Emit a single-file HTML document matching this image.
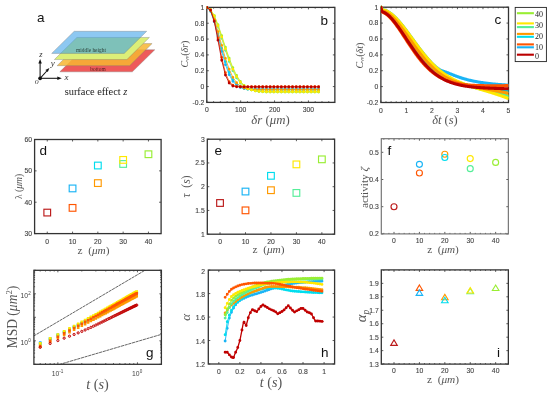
<!DOCTYPE html><html><head><meta charset="utf-8"><style>html,body{margin:0;padding:0;background:#fff;width:550px;height:396px;overflow:hidden}svg{display:block;will-change:transform}</style></head><body><svg width="550" height="396" viewBox="0 0 550 396">
<rect width="550" height="396" fill="#fff"/>
<path d="M82.30,49.75 L154.80,49.75 L132.30,71.85 L59.80,71.85Z" fill="#ee5a5a" fill-opacity="1.0" stroke="#777" stroke-opacity="0.8" stroke-width="0.45"/>
<path d="M79.60,43.60 L152.10,43.60 L129.60,65.70 L57.10,65.70Z" fill="#f7b532" fill-opacity="0.855" stroke="#777" stroke-opacity="0.8" stroke-width="0.45"/>
<path d="M76.90,37.45 L149.40,37.45 L126.90,59.55 L54.40,59.55Z" fill="#dcef78" fill-opacity="1.0" stroke="#777" stroke-opacity="0.8" stroke-width="0.45"/>
<path d="M74.20,31.30 L146.70,31.30 L124.20,53.40 L51.70,53.40Z" fill="#3aa0e8" fill-opacity="0.58" stroke="#777" stroke-opacity="0.8" stroke-width="0.45"/>
<text x="91" y="51.6" font-family='"Liberation Serif", serif' font-size="5.4" fill="#2a4038" text-anchor="middle">middle height</text>
<text x="98" y="71" font-family='"Liberation Serif", serif' font-size="5.4" fill="#5a2020" text-anchor="middle">bottom</text>
<g stroke="#111" stroke-width="1.05" fill="none">
<line x1="40.1" y1="78.3" x2="40.1" y2="63"/><line x1="40.1" y1="78.3" x2="58" y2="78.3"/><line x1="40.1" y1="78.3" x2="46.8" y2="71"/>
</g>
<g fill="#111" stroke="none">
<circle cx="40.1" cy="78.3" r="1.9"/>
<path d="M40.1,59.1 L38.4,63.6 L41.8,63.6Z"/>
<path d="M61.8,78.3 L57.3,76.6 L57.3,80.0Z"/>
<path d="M49.4,68.0 L45.4,69.9 L47.8,72.1Z"/>
</g>
<text x="41.0" y="57.3" font-family='"Liberation Serif", serif' font-size="8.5" font-style="italic" fill="#333" text-anchor="middle">z</text>
<text x="52.8" y="66.2" font-family='"Liberation Serif", serif' font-size="9" font-style="italic" fill="#333" text-anchor="middle">y</text>
<text x="66.6" y="79.8" font-family='"Liberation Serif", serif' font-size="9" font-style="italic" fill="#333" text-anchor="middle">x</text>
<text x="36.8" y="83.9" font-family='"Liberation Serif", serif' font-size="8" font-style="italic" fill="#444" text-anchor="middle">o</text>
<text x="37.00" y="21.80" font-family='"Liberation Sans", sans-serif' font-size="13.5" fill="#111" text-anchor="start" >a</text>
<path d="M206.80,102.40v-2.0M206.80,7.40v2.0M240.68,102.40v-2.0M240.68,7.40v2.0M274.55,102.40v-2.0M274.55,7.40v2.0M308.43,102.40v-2.0M308.43,7.40v2.0M213.58,102.40v-1.2M213.58,7.40v1.2M220.35,102.40v-1.2M220.35,7.40v1.2M227.13,102.40v-1.2M227.13,7.40v1.2M233.90,102.40v-1.2M233.90,7.40v1.2M247.45,102.40v-1.2M247.45,7.40v1.2M254.23,102.40v-1.2M254.23,7.40v1.2M261.00,102.40v-1.2M261.00,7.40v1.2M267.78,102.40v-1.2M267.78,7.40v1.2M281.33,102.40v-1.2M281.33,7.40v1.2M288.10,102.40v-1.2M288.10,7.40v1.2M294.88,102.40v-1.2M294.88,7.40v1.2M301.65,102.40v-1.2M301.65,7.40v1.2M315.20,102.40v-1.2M315.20,7.40v1.2M321.98,102.40v-1.2M321.98,7.40v1.2M328.75,102.40v-1.2M328.75,7.40v1.2M206.80,102.40h2.0M334.85,102.40h-2.0M206.80,86.57h2.0M334.85,86.57h-2.0M206.80,70.73h2.0M334.85,70.73h-2.0M206.80,54.90h2.0M334.85,54.90h-2.0M206.80,39.07h2.0M334.85,39.07h-2.0M206.80,23.23h2.0M334.85,23.23h-2.0M206.80,7.40h2.0M334.85,7.40h-2.0" stroke="#333333" stroke-width="0.8" fill="none"/>
<rect x="206.80" y="7.40" width="128.05" height="95.00" fill="none" stroke="#333333" stroke-width="1.3"/>
<text x="206.80" y="111.50" font-family='"Liberation Sans", sans-serif' font-size="6.8" fill="#444444" text-anchor="middle" stroke="#444" stroke-width="0.12">0</text>
<text x="240.68" y="111.50" font-family='"Liberation Sans", sans-serif' font-size="6.8" fill="#444444" text-anchor="middle" stroke="#444" stroke-width="0.12">100</text>
<text x="274.55" y="111.50" font-family='"Liberation Sans", sans-serif' font-size="6.8" fill="#444444" text-anchor="middle" stroke="#444" stroke-width="0.12">200</text>
<text x="308.43" y="111.50" font-family='"Liberation Sans", sans-serif' font-size="6.8" fill="#444444" text-anchor="middle" stroke="#444" stroke-width="0.12">300</text>
<text x="204.30" y="104.80" font-family='"Liberation Sans", sans-serif' font-size="6.8" fill="#444444" text-anchor="end" stroke="#444" stroke-width="0.12">-0.2</text>
<text x="204.30" y="88.97" font-family='"Liberation Sans", sans-serif' font-size="6.8" fill="#444444" text-anchor="end" stroke="#444" stroke-width="0.12">0</text>
<text x="204.30" y="73.13" font-family='"Liberation Sans", sans-serif' font-size="6.8" fill="#444444" text-anchor="end" stroke="#444" stroke-width="0.12">0.2</text>
<text x="204.30" y="57.30" font-family='"Liberation Sans", sans-serif' font-size="6.8" fill="#444444" text-anchor="end" stroke="#444" stroke-width="0.12">0.4</text>
<text x="204.30" y="41.47" font-family='"Liberation Sans", sans-serif' font-size="6.8" fill="#444444" text-anchor="end" stroke="#444" stroke-width="0.12">0.6</text>
<text x="204.30" y="25.63" font-family='"Liberation Sans", sans-serif' font-size="6.8" fill="#444444" text-anchor="end" stroke="#444" stroke-width="0.12">0.8</text>
<text x="204.30" y="9.80" font-family='"Liberation Sans", sans-serif' font-size="6.8" fill="#444444" text-anchor="end" stroke="#444" stroke-width="0.12">1</text>
<text x="320.50" y="25.00" font-family='"Liberation Sans", sans-serif' font-size="13.5" fill="#111" text-anchor="start" >b</text>
<path d="M380.90,102.50v-2.0M380.90,7.20v2.0M406.42,102.50v-2.0M406.42,7.20v2.0M431.94,102.50v-2.0M431.94,7.20v2.0M457.46,102.50v-2.0M457.46,7.20v2.0M482.98,102.50v-2.0M482.98,7.20v2.0M508.50,102.50v-2.0M508.50,7.20v2.0M386.00,102.50v-1.2M386.00,7.20v1.2M391.11,102.50v-1.2M391.11,7.20v1.2M396.21,102.50v-1.2M396.21,7.20v1.2M401.32,102.50v-1.2M401.32,7.20v1.2M411.52,102.50v-1.2M411.52,7.20v1.2M416.63,102.50v-1.2M416.63,7.20v1.2M421.73,102.50v-1.2M421.73,7.20v1.2M426.84,102.50v-1.2M426.84,7.20v1.2M437.04,102.50v-1.2M437.04,7.20v1.2M442.15,102.50v-1.2M442.15,7.20v1.2M447.25,102.50v-1.2M447.25,7.20v1.2M452.36,102.50v-1.2M452.36,7.20v1.2M462.56,102.50v-1.2M462.56,7.20v1.2M467.67,102.50v-1.2M467.67,7.20v1.2M472.77,102.50v-1.2M472.77,7.20v1.2M477.88,102.50v-1.2M477.88,7.20v1.2M488.08,102.50v-1.2M488.08,7.20v1.2M493.19,102.50v-1.2M493.19,7.20v1.2M498.29,102.50v-1.2M498.29,7.20v1.2M503.40,102.50v-1.2M503.40,7.20v1.2M380.90,102.50h2.0M508.50,102.50h-2.0M380.90,86.62h2.0M508.50,86.62h-2.0M380.90,70.73h2.0M508.50,70.73h-2.0M380.90,54.85h2.0M508.50,54.85h-2.0M380.90,38.97h2.0M508.50,38.97h-2.0M380.90,23.08h2.0M508.50,23.08h-2.0M380.90,7.20h2.0M508.50,7.20h-2.0" stroke="#333333" stroke-width="0.8" fill="none"/>
<rect x="380.90" y="7.20" width="127.60" height="95.30" fill="none" stroke="#333333" stroke-width="1.3"/>
<text x="380.90" y="112.60" font-family='"Liberation Sans", sans-serif' font-size="6.8" fill="#444444" text-anchor="middle" stroke="#444" stroke-width="0.12">0</text>
<text x="406.42" y="112.60" font-family='"Liberation Sans", sans-serif' font-size="6.8" fill="#444444" text-anchor="middle" stroke="#444" stroke-width="0.12">1</text>
<text x="431.94" y="112.60" font-family='"Liberation Sans", sans-serif' font-size="6.8" fill="#444444" text-anchor="middle" stroke="#444" stroke-width="0.12">2</text>
<text x="457.46" y="112.60" font-family='"Liberation Sans", sans-serif' font-size="6.8" fill="#444444" text-anchor="middle" stroke="#444" stroke-width="0.12">3</text>
<text x="482.98" y="112.60" font-family='"Liberation Sans", sans-serif' font-size="6.8" fill="#444444" text-anchor="middle" stroke="#444" stroke-width="0.12">4</text>
<text x="508.50" y="112.60" font-family='"Liberation Sans", sans-serif' font-size="6.8" fill="#444444" text-anchor="middle" stroke="#444" stroke-width="0.12">5</text>
<text x="378.40" y="104.90" font-family='"Liberation Sans", sans-serif' font-size="6.8" fill="#444444" text-anchor="end" stroke="#444" stroke-width="0.12">-0.2</text>
<text x="378.40" y="89.02" font-family='"Liberation Sans", sans-serif' font-size="6.8" fill="#444444" text-anchor="end" stroke="#444" stroke-width="0.12">0</text>
<text x="378.40" y="73.13" font-family='"Liberation Sans", sans-serif' font-size="6.8" fill="#444444" text-anchor="end" stroke="#444" stroke-width="0.12">0.2</text>
<text x="378.40" y="57.25" font-family='"Liberation Sans", sans-serif' font-size="6.8" fill="#444444" text-anchor="end" stroke="#444" stroke-width="0.12">0.4</text>
<text x="378.40" y="41.37" font-family='"Liberation Sans", sans-serif' font-size="6.8" fill="#444444" text-anchor="end" stroke="#444" stroke-width="0.12">0.6</text>
<text x="378.40" y="25.48" font-family='"Liberation Sans", sans-serif' font-size="6.8" fill="#444444" text-anchor="end" stroke="#444" stroke-width="0.12">0.8</text>
<text x="378.40" y="9.60" font-family='"Liberation Sans", sans-serif' font-size="6.8" fill="#444444" text-anchor="end" stroke="#444" stroke-width="0.12">1</text>
<text x="494.50" y="24.00" font-family='"Liberation Sans", sans-serif' font-size="13.5" fill="#111" text-anchor="start" >c</text>
<path d="M47.25,233.60v-2.0M47.25,139.50v2.0M72.55,233.60v-2.0M72.55,139.50v2.0M97.85,233.60v-2.0M97.85,139.50v2.0M123.15,233.60v-2.0M123.15,139.50v2.0M148.45,233.60v-2.0M148.45,139.50v2.0M34.60,233.60h2.0M161.10,233.60h-2.0M34.60,202.23h2.0M161.10,202.23h-2.0M34.60,170.87h2.0M161.10,170.87h-2.0M34.60,139.50h2.0M161.10,139.50h-2.0" stroke="#333333" stroke-width="0.8" fill="none"/>
<rect x="34.60" y="139.50" width="126.50" height="94.10" fill="none" stroke="#333333" stroke-width="1.3"/>
<text x="47.25" y="244.00" font-family='"Liberation Sans", sans-serif' font-size="6.8" fill="#444444" text-anchor="middle" stroke="#444" stroke-width="0.12">0</text>
<text x="72.55" y="244.00" font-family='"Liberation Sans", sans-serif' font-size="6.8" fill="#444444" text-anchor="middle" stroke="#444" stroke-width="0.12">10</text>
<text x="97.85" y="244.00" font-family='"Liberation Sans", sans-serif' font-size="6.8" fill="#444444" text-anchor="middle" stroke="#444" stroke-width="0.12">20</text>
<text x="123.15" y="244.00" font-family='"Liberation Sans", sans-serif' font-size="6.8" fill="#444444" text-anchor="middle" stroke="#444" stroke-width="0.12">30</text>
<text x="148.45" y="244.00" font-family='"Liberation Sans", sans-serif' font-size="6.8" fill="#444444" text-anchor="middle" stroke="#444" stroke-width="0.12">40</text>
<text x="32.10" y="236.00" font-family='"Liberation Sans", sans-serif' font-size="6.8" fill="#444444" text-anchor="end" stroke="#444" stroke-width="0.12">30</text>
<text x="32.10" y="204.63" font-family='"Liberation Sans", sans-serif' font-size="6.8" fill="#444444" text-anchor="end" stroke="#444" stroke-width="0.12">40</text>
<text x="32.10" y="173.27" font-family='"Liberation Sans", sans-serif' font-size="6.8" fill="#444444" text-anchor="end" stroke="#444" stroke-width="0.12">50</text>
<text x="32.10" y="141.90" font-family='"Liberation Sans", sans-serif' font-size="6.8" fill="#444444" text-anchor="end" stroke="#444" stroke-width="0.12">60</text>
<text x="39.50" y="155.00" font-family='"Liberation Sans", sans-serif' font-size="13.5" fill="#111" text-anchor="start" >d</text>
<path d="M220.03,234.20v-2.0M220.03,139.20v2.0M245.49,234.20v-2.0M245.49,139.20v2.0M270.95,234.20v-2.0M270.95,139.20v2.0M296.41,234.20v-2.0M296.41,139.20v2.0M321.87,234.20v-2.0M321.87,139.20v2.0M207.30,234.20h2.0M334.60,234.20h-2.0M207.30,210.45h2.0M334.60,210.45h-2.0M207.30,186.70h2.0M334.60,186.70h-2.0M207.30,162.95h2.0M334.60,162.95h-2.0M207.30,139.20h2.0M334.60,139.20h-2.0" stroke="#333333" stroke-width="0.8" fill="none"/>
<rect x="207.30" y="139.20" width="127.30" height="95.00" fill="none" stroke="#333333" stroke-width="1.3"/>
<text x="220.03" y="244.00" font-family='"Liberation Sans", sans-serif' font-size="6.8" fill="#444444" text-anchor="middle" stroke="#444" stroke-width="0.12">0</text>
<text x="245.49" y="244.00" font-family='"Liberation Sans", sans-serif' font-size="6.8" fill="#444444" text-anchor="middle" stroke="#444" stroke-width="0.12">10</text>
<text x="270.95" y="244.00" font-family='"Liberation Sans", sans-serif' font-size="6.8" fill="#444444" text-anchor="middle" stroke="#444" stroke-width="0.12">20</text>
<text x="296.41" y="244.00" font-family='"Liberation Sans", sans-serif' font-size="6.8" fill="#444444" text-anchor="middle" stroke="#444" stroke-width="0.12">30</text>
<text x="321.87" y="244.00" font-family='"Liberation Sans", sans-serif' font-size="6.8" fill="#444444" text-anchor="middle" stroke="#444" stroke-width="0.12">40</text>
<text x="204.80" y="236.60" font-family='"Liberation Sans", sans-serif' font-size="6.8" fill="#444444" text-anchor="end" stroke="#444" stroke-width="0.12">1</text>
<text x="204.80" y="212.85" font-family='"Liberation Sans", sans-serif' font-size="6.8" fill="#444444" text-anchor="end" stroke="#444" stroke-width="0.12">1.5</text>
<text x="204.80" y="189.10" font-family='"Liberation Sans", sans-serif' font-size="6.8" fill="#444444" text-anchor="end" stroke="#444" stroke-width="0.12">2</text>
<text x="204.80" y="165.35" font-family='"Liberation Sans", sans-serif' font-size="6.8" fill="#444444" text-anchor="end" stroke="#444" stroke-width="0.12">2.5</text>
<text x="204.80" y="141.60" font-family='"Liberation Sans", sans-serif' font-size="6.8" fill="#444444" text-anchor="end" stroke="#444" stroke-width="0.12">3</text>
<text x="214.50" y="155.00" font-family='"Liberation Sans", sans-serif' font-size="13.5" fill="#111" text-anchor="start" >e</text>
<path d="M394.00,233.90v-2.0M394.00,138.70v2.0M419.42,233.90v-2.0M419.42,138.70v2.0M444.83,233.90v-2.0M444.83,138.70v2.0M470.24,233.90v-2.0M470.24,138.70v2.0M495.65,233.90v-2.0M495.65,138.70v2.0M383.84,233.90v-1.0M383.84,138.70v1.0M388.92,233.90v-1.0M388.92,138.70v1.0M399.09,233.90v-1.0M399.09,138.70v1.0M404.17,233.90v-1.0M404.17,138.70v1.0M409.25,233.90v-1.0M409.25,138.70v1.0M414.33,233.90v-1.0M414.33,138.70v1.0M424.50,233.90v-1.0M424.50,138.70v1.0M429.58,233.90v-1.0M429.58,138.70v1.0M434.66,233.90v-1.0M434.66,138.70v1.0M439.74,233.90v-1.0M439.74,138.70v1.0M449.91,233.90v-1.0M449.91,138.70v1.0M454.99,233.90v-1.0M454.99,138.70v1.0M460.07,233.90v-1.0M460.07,138.70v1.0M465.15,233.90v-1.0M465.15,138.70v1.0M475.32,233.90v-1.0M475.32,138.70v1.0M480.40,233.90v-1.0M480.40,138.70v1.0M485.48,233.90v-1.0M485.48,138.70v1.0M490.56,233.90v-1.0M490.56,138.70v1.0M500.73,233.90v-1.0M500.73,138.70v1.0M505.81,233.90v-1.0M505.81,138.70v1.0M381.30,233.90h2.0M508.35,233.90h-2.0M381.30,206.70h2.0M508.35,206.70h-2.0M381.30,179.50h2.0M508.35,179.50h-2.0M381.30,152.30h2.0M508.35,152.30h-2.0" stroke="#333333" stroke-width="0.8" fill="none"/>
<rect x="381.30" y="138.70" width="127.05" height="95.20" fill="none" stroke="#707070" stroke-width="1.15"/>
<text x="394.00" y="242.60" font-family='"Liberation Sans", sans-serif' font-size="6.8" fill="#444444" text-anchor="middle" stroke="#444" stroke-width="0.12">0</text>
<text x="419.42" y="242.60" font-family='"Liberation Sans", sans-serif' font-size="6.8" fill="#444444" text-anchor="middle" stroke="#444" stroke-width="0.12">10</text>
<text x="444.83" y="242.60" font-family='"Liberation Sans", sans-serif' font-size="6.8" fill="#444444" text-anchor="middle" stroke="#444" stroke-width="0.12">20</text>
<text x="470.24" y="242.60" font-family='"Liberation Sans", sans-serif' font-size="6.8" fill="#444444" text-anchor="middle" stroke="#444" stroke-width="0.12">30</text>
<text x="495.65" y="242.60" font-family='"Liberation Sans", sans-serif' font-size="6.8" fill="#444444" text-anchor="middle" stroke="#444" stroke-width="0.12">40</text>
<text x="378.80" y="236.30" font-family='"Liberation Sans", sans-serif' font-size="6.8" fill="#444444" text-anchor="end" stroke="#444" stroke-width="0.12">0.2</text>
<text x="378.80" y="209.10" font-family='"Liberation Sans", sans-serif' font-size="6.8" fill="#444444" text-anchor="end" stroke="#444" stroke-width="0.12">0.3</text>
<text x="378.80" y="181.90" font-family='"Liberation Sans", sans-serif' font-size="6.8" fill="#444444" text-anchor="end" stroke="#444" stroke-width="0.12">0.4</text>
<text x="378.80" y="154.70" font-family='"Liberation Sans", sans-serif' font-size="6.8" fill="#444444" text-anchor="end" stroke="#444" stroke-width="0.12">0.5</text>
<text x="387.50" y="155.00" font-family='"Liberation Sans", sans-serif' font-size="13.5" fill="#111" text-anchor="start" >f</text>
<path d="M57.86,364.30v-2.0M57.86,270.30v2.0M137.44,364.30v-2.0M137.44,270.30v2.0M40.20,364.30v-1.2M40.20,270.30v1.2M45.53,364.30v-1.2M45.53,270.30v1.2M50.14,364.30v-1.2M50.14,270.30v1.2M54.22,364.30v-1.2M54.22,270.30v1.2M81.81,364.30v-1.2M81.81,270.30v1.2M95.83,364.30v-1.2M95.83,270.30v1.2M105.77,364.30v-1.2M105.77,270.30v1.2M113.49,364.30v-1.2M113.49,270.30v1.2M119.79,364.30v-1.2M119.79,270.30v1.2M125.11,364.30v-1.2M125.11,270.30v1.2M129.73,364.30v-1.2M129.73,270.30v1.2M133.80,364.30v-1.2M133.80,270.30v1.2M33.90,364.30h2.0M161.40,364.30h-2.0M33.90,340.80h2.0M161.40,340.80h-2.0M33.90,317.30h2.0M161.40,317.30h-2.0M33.90,293.80h2.0M161.40,293.80h-2.0M33.90,270.30h2.0M161.40,270.30h-2.0M33.90,357.23h1.2M161.40,357.23h-1.2M33.90,353.09h1.2M161.40,353.09h-1.2M33.90,350.15h1.2M161.40,350.15h-1.2M33.90,347.87h1.2M161.40,347.87h-1.2M33.90,346.01h1.2M161.40,346.01h-1.2M33.90,344.44h1.2M161.40,344.44h-1.2M33.90,343.08h1.2M161.40,343.08h-1.2M33.90,341.88h1.2M161.40,341.88h-1.2M33.90,333.73h1.2M161.40,333.73h-1.2M33.90,329.59h1.2M161.40,329.59h-1.2M33.90,326.65h1.2M161.40,326.65h-1.2M33.90,324.37h1.2M161.40,324.37h-1.2M33.90,322.51h1.2M161.40,322.51h-1.2M33.90,320.94h1.2M161.40,320.94h-1.2M33.90,319.58h1.2M161.40,319.58h-1.2M33.90,318.38h1.2M161.40,318.38h-1.2M33.90,310.23h1.2M161.40,310.23h-1.2M33.90,306.09h1.2M161.40,306.09h-1.2M33.90,303.15h1.2M161.40,303.15h-1.2M33.90,300.87h1.2M161.40,300.87h-1.2M33.90,299.01h1.2M161.40,299.01h-1.2M33.90,297.44h1.2M161.40,297.44h-1.2M33.90,296.08h1.2M161.40,296.08h-1.2M33.90,294.88h1.2M161.40,294.88h-1.2M33.90,286.73h1.2M161.40,286.73h-1.2M33.90,282.59h1.2M161.40,282.59h-1.2M33.90,279.65h1.2M161.40,279.65h-1.2M33.90,277.37h1.2M161.40,277.37h-1.2M33.90,275.51h1.2M161.40,275.51h-1.2M33.90,273.94h1.2M161.40,273.94h-1.2M33.90,272.58h1.2M161.40,272.58h-1.2M33.90,271.38h1.2M161.40,271.38h-1.2" stroke="#333333" stroke-width="0.8" fill="none"/>
<rect x="33.90" y="270.30" width="127.50" height="94.00" fill="none" stroke="#333333" stroke-width="1.3"/>
<text x="57.56" y="375.90" font-family='"Liberation Sans", sans-serif' font-size="6.8" fill="#444444" text-anchor="middle" >10<tspan font-size="4.6" dy="-3">-1</tspan></text>
<text x="137.14" y="375.90" font-family='"Liberation Sans", sans-serif' font-size="6.8" fill="#444444" text-anchor="middle" >10<tspan font-size="4.6" dy="-3">0</tspan></text>
<text x="30.70" y="344.90" font-family='"Liberation Sans", sans-serif' font-size="6.8" fill="#444444" text-anchor="end" >10<tspan font-size="4.6" dy="-3">0</tspan></text>
<text x="30.70" y="297.90" font-family='"Liberation Sans", sans-serif' font-size="6.8" fill="#444444" text-anchor="end" >10<tspan font-size="4.6" dy="-3">2</tspan></text>
<text x="146.00" y="356.50" font-family='"Liberation Sans", sans-serif' font-size="13.5" fill="#111" text-anchor="start" >g</text>
<path d="M218.83,364.00v-2.0M218.83,270.10v2.0M239.88,364.00v-2.0M239.88,270.10v2.0M260.93,364.00v-2.0M260.93,270.10v2.0M281.98,364.00v-2.0M281.98,270.10v2.0M303.02,364.00v-2.0M303.02,270.10v2.0M324.08,364.00v-2.0M324.08,270.10v2.0M208.30,364.00h2.0M334.60,364.00h-2.0M208.30,340.53h2.0M334.60,340.53h-2.0M208.30,317.05h2.0M334.60,317.05h-2.0M208.30,293.57h2.0M334.60,293.57h-2.0M208.30,270.10h2.0M334.60,270.10h-2.0" stroke="#333333" stroke-width="0.8" fill="none"/>
<rect x="208.30" y="270.10" width="126.30" height="93.90" fill="none" stroke="#333333" stroke-width="1.3"/>
<text x="218.83" y="374.00" font-family='"Liberation Sans", sans-serif' font-size="6.8" fill="#444444" text-anchor="middle" stroke="#444" stroke-width="0.12">0</text>
<text x="239.88" y="374.00" font-family='"Liberation Sans", sans-serif' font-size="6.8" fill="#444444" text-anchor="middle" stroke="#444" stroke-width="0.12">0.2</text>
<text x="260.93" y="374.00" font-family='"Liberation Sans", sans-serif' font-size="6.8" fill="#444444" text-anchor="middle" stroke="#444" stroke-width="0.12">0.4</text>
<text x="281.98" y="374.00" font-family='"Liberation Sans", sans-serif' font-size="6.8" fill="#444444" text-anchor="middle" stroke="#444" stroke-width="0.12">0.6</text>
<text x="303.02" y="374.00" font-family='"Liberation Sans", sans-serif' font-size="6.8" fill="#444444" text-anchor="middle" stroke="#444" stroke-width="0.12">0.8</text>
<text x="324.08" y="374.00" font-family='"Liberation Sans", sans-serif' font-size="6.8" fill="#444444" text-anchor="middle" stroke="#444" stroke-width="0.12">1</text>
<text x="205.10" y="367.40" font-family='"Liberation Sans", sans-serif' font-size="6.8" fill="#444444" text-anchor="end" stroke="#444" stroke-width="0.12">1.2</text>
<text x="205.10" y="343.93" font-family='"Liberation Sans", sans-serif' font-size="6.8" fill="#444444" text-anchor="end" stroke="#444" stroke-width="0.12">1.4</text>
<text x="205.10" y="320.45" font-family='"Liberation Sans", sans-serif' font-size="6.8" fill="#444444" text-anchor="end" stroke="#444" stroke-width="0.12">1.6</text>
<text x="205.10" y="296.97" font-family='"Liberation Sans", sans-serif' font-size="6.8" fill="#444444" text-anchor="end" stroke="#444" stroke-width="0.12">1.8</text>
<text x="205.10" y="273.50" font-family='"Liberation Sans", sans-serif' font-size="6.8" fill="#444444" text-anchor="end" stroke="#444" stroke-width="0.12">2</text>
<text x="321.00" y="357.00" font-family='"Liberation Sans", sans-serif' font-size="13.5" fill="#111" text-anchor="start" >h</text>
<path d="M394.00,364.10v-2.0M394.00,269.90v2.0M419.42,364.10v-2.0M419.42,269.90v2.0M444.83,364.10v-2.0M444.83,269.90v2.0M470.24,364.10v-2.0M470.24,269.90v2.0M495.65,364.10v-2.0M495.65,269.90v2.0M383.84,364.10v-1.0M383.84,269.90v1.0M388.92,364.10v-1.0M388.92,269.90v1.0M399.09,364.10v-1.0M399.09,269.90v1.0M404.17,364.10v-1.0M404.17,269.90v1.0M409.25,364.10v-1.0M409.25,269.90v1.0M414.33,364.10v-1.0M414.33,269.90v1.0M424.50,364.10v-1.0M424.50,269.90v1.0M429.58,364.10v-1.0M429.58,269.90v1.0M434.66,364.10v-1.0M434.66,269.90v1.0M439.74,364.10v-1.0M439.74,269.90v1.0M449.91,364.10v-1.0M449.91,269.90v1.0M454.99,364.10v-1.0M454.99,269.90v1.0M460.07,364.10v-1.0M460.07,269.90v1.0M465.15,364.10v-1.0M465.15,269.90v1.0M475.32,364.10v-1.0M475.32,269.90v1.0M480.40,364.10v-1.0M480.40,269.90v1.0M485.48,364.10v-1.0M485.48,269.90v1.0M490.56,364.10v-1.0M490.56,269.90v1.0M500.73,364.10v-1.0M500.73,269.90v1.0M505.81,364.10v-1.0M505.81,269.90v1.0M381.30,364.10h2.0M508.35,364.10h-2.0M381.30,350.64h2.0M508.35,350.64h-2.0M381.30,337.19h2.0M508.35,337.19h-2.0M381.30,323.73h2.0M508.35,323.73h-2.0M381.30,310.27h2.0M508.35,310.27h-2.0M381.30,296.81h2.0M508.35,296.81h-2.0M381.30,283.36h2.0M508.35,283.36h-2.0" stroke="#333333" stroke-width="0.8" fill="none"/>
<rect x="381.30" y="269.90" width="127.05" height="94.20" fill="none" stroke="#333333" stroke-width="1.3"/>
<text x="394.00" y="373.00" font-family='"Liberation Sans", sans-serif' font-size="6.8" fill="#444444" text-anchor="middle" stroke="#444" stroke-width="0.12">0</text>
<text x="419.42" y="373.00" font-family='"Liberation Sans", sans-serif' font-size="6.8" fill="#444444" text-anchor="middle" stroke="#444" stroke-width="0.12">10</text>
<text x="444.83" y="373.00" font-family='"Liberation Sans", sans-serif' font-size="6.8" fill="#444444" text-anchor="middle" stroke="#444" stroke-width="0.12">20</text>
<text x="470.24" y="373.00" font-family='"Liberation Sans", sans-serif' font-size="6.8" fill="#444444" text-anchor="middle" stroke="#444" stroke-width="0.12">30</text>
<text x="495.65" y="373.00" font-family='"Liberation Sans", sans-serif' font-size="6.8" fill="#444444" text-anchor="middle" stroke="#444" stroke-width="0.12">40</text>
<text x="378.80" y="366.50" font-family='"Liberation Sans", sans-serif' font-size="6.8" fill="#444444" text-anchor="end" stroke="#444" stroke-width="0.12">1.3</text>
<text x="378.80" y="353.04" font-family='"Liberation Sans", sans-serif' font-size="6.8" fill="#444444" text-anchor="end" stroke="#444" stroke-width="0.12">1.4</text>
<text x="378.80" y="339.59" font-family='"Liberation Sans", sans-serif' font-size="6.8" fill="#444444" text-anchor="end" stroke="#444" stroke-width="0.12">1.5</text>
<text x="378.80" y="326.13" font-family='"Liberation Sans", sans-serif' font-size="6.8" fill="#444444" text-anchor="end" stroke="#444" stroke-width="0.12">1.6</text>
<text x="378.80" y="312.67" font-family='"Liberation Sans", sans-serif' font-size="6.8" fill="#444444" text-anchor="end" stroke="#444" stroke-width="0.12">1.7</text>
<text x="378.80" y="299.21" font-family='"Liberation Sans", sans-serif' font-size="6.8" fill="#444444" text-anchor="end" stroke="#444" stroke-width="0.12">1.8</text>
<text x="378.80" y="285.76" font-family='"Liberation Sans", sans-serif' font-size="6.8" fill="#444444" text-anchor="end" stroke="#444" stroke-width="0.12">1.9</text>
<text x="497.00" y="357.00" font-family='"Liberation Sans", sans-serif' font-size="13.5" fill="#111" text-anchor="start" >i</text>
<clipPath id="cb"><rect x="206.8" y="4.4" width="128.05" height="98.0"/></clipPath><g clip-path="url(#cb)">
<path d="M206.80,7.40 L210.53,9.53 L214.25,15.59 L217.98,24.72 L221.71,35.70 L225.43,47.24 L229.16,58.18 L232.88,67.73 L236.61,75.45 L240.34,81.30 L244.06,85.44 L247.79,88.20 L251.52,89.93 L255.24,90.95 L258.97,91.53 L262.69,91.83 L266.42,91.98 L270.15,92.05 L273.87,92.09 L277.60,92.10 L281.33,92.11 L285.05,92.11 L288.78,92.11 L292.51,92.11 L296.23,92.11 L299.96,92.11 L303.68,92.11 L307.41,92.11 L311.14,92.11 L314.86,92.11 L318.59,92.11" fill="none" stroke="#99ee33" stroke-width="0.8" stroke-linejoin="round" stroke-linecap="round" />
<path d="M205.40,7.40a1.40,1.40 0 1,0 2.80,0a1.40,1.40 0 1,0 -2.80,0zM209.13,9.53a1.40,1.40 0 1,0 2.80,0a1.40,1.40 0 1,0 -2.80,0zM212.85,15.59a1.40,1.40 0 1,0 2.80,0a1.40,1.40 0 1,0 -2.80,0zM216.58,24.72a1.40,1.40 0 1,0 2.80,0a1.40,1.40 0 1,0 -2.80,0zM220.31,35.70a1.40,1.40 0 1,0 2.80,0a1.40,1.40 0 1,0 -2.80,0zM224.03,47.24a1.40,1.40 0 1,0 2.80,0a1.40,1.40 0 1,0 -2.80,0zM227.76,58.18a1.40,1.40 0 1,0 2.80,0a1.40,1.40 0 1,0 -2.80,0zM231.48,67.73a1.40,1.40 0 1,0 2.80,0a1.40,1.40 0 1,0 -2.80,0zM235.21,75.45a1.40,1.40 0 1,0 2.80,0a1.40,1.40 0 1,0 -2.80,0zM238.94,81.30a1.40,1.40 0 1,0 2.80,0a1.40,1.40 0 1,0 -2.80,0zM242.66,85.44a1.40,1.40 0 1,0 2.80,0a1.40,1.40 0 1,0 -2.80,0zM246.39,88.20a1.40,1.40 0 1,0 2.80,0a1.40,1.40 0 1,0 -2.80,0zM250.12,89.93a1.40,1.40 0 1,0 2.80,0a1.40,1.40 0 1,0 -2.80,0zM253.84,90.95a1.40,1.40 0 1,0 2.80,0a1.40,1.40 0 1,0 -2.80,0zM257.57,91.53a1.40,1.40 0 1,0 2.80,0a1.40,1.40 0 1,0 -2.80,0zM261.29,91.83a1.40,1.40 0 1,0 2.80,0a1.40,1.40 0 1,0 -2.80,0zM265.02,91.98a1.40,1.40 0 1,0 2.80,0a1.40,1.40 0 1,0 -2.80,0zM268.75,92.05a1.40,1.40 0 1,0 2.80,0a1.40,1.40 0 1,0 -2.80,0zM272.47,92.09a1.40,1.40 0 1,0 2.80,0a1.40,1.40 0 1,0 -2.80,0zM276.20,92.10a1.40,1.40 0 1,0 2.80,0a1.40,1.40 0 1,0 -2.80,0zM279.93,92.11a1.40,1.40 0 1,0 2.80,0a1.40,1.40 0 1,0 -2.80,0zM283.65,92.11a1.40,1.40 0 1,0 2.80,0a1.40,1.40 0 1,0 -2.80,0zM287.38,92.11a1.40,1.40 0 1,0 2.80,0a1.40,1.40 0 1,0 -2.80,0zM291.11,92.11a1.40,1.40 0 1,0 2.80,0a1.40,1.40 0 1,0 -2.80,0zM294.83,92.11a1.40,1.40 0 1,0 2.80,0a1.40,1.40 0 1,0 -2.80,0zM298.56,92.11a1.40,1.40 0 1,0 2.80,0a1.40,1.40 0 1,0 -2.80,0zM302.28,92.11a1.40,1.40 0 1,0 2.80,0a1.40,1.40 0 1,0 -2.80,0zM306.01,92.11a1.40,1.40 0 1,0 2.80,0a1.40,1.40 0 1,0 -2.80,0zM309.74,92.11a1.40,1.40 0 1,0 2.80,0a1.40,1.40 0 1,0 -2.80,0zM313.46,92.11a1.40,1.40 0 1,0 2.80,0a1.40,1.40 0 1,0 -2.80,0zM317.19,92.11a1.40,1.40 0 1,0 2.80,0a1.40,1.40 0 1,0 -2.80,0z" fill="#99ee33"/>
<path d="M206.80,7.40 L210.53,9.77 L214.25,16.48 L217.98,26.47 L221.71,38.25 L225.43,50.31 L229.16,61.39 L232.88,70.69 L236.61,77.89 L240.34,83.07 L244.06,86.53 L247.79,88.69 L251.52,89.96 L255.24,90.65 L258.97,91.01 L262.69,91.18 L266.42,91.26 L270.15,91.30 L273.87,91.31 L277.60,91.31 L281.33,91.32 L285.05,91.32 L288.78,91.32 L292.51,91.32 L296.23,91.32 L299.96,91.32 L303.68,91.32 L307.41,91.32 L311.14,91.32 L314.86,91.32 L318.59,91.32" fill="none" stroke="#55ee99" stroke-width="0.8" stroke-linejoin="round" stroke-linecap="round" />
<path d="M205.40,7.40a1.40,1.40 0 1,0 2.80,0a1.40,1.40 0 1,0 -2.80,0zM209.13,9.77a1.40,1.40 0 1,0 2.80,0a1.40,1.40 0 1,0 -2.80,0zM212.85,16.48a1.40,1.40 0 1,0 2.80,0a1.40,1.40 0 1,0 -2.80,0zM216.58,26.47a1.40,1.40 0 1,0 2.80,0a1.40,1.40 0 1,0 -2.80,0zM220.31,38.25a1.40,1.40 0 1,0 2.80,0a1.40,1.40 0 1,0 -2.80,0zM224.03,50.31a1.40,1.40 0 1,0 2.80,0a1.40,1.40 0 1,0 -2.80,0zM227.76,61.39a1.40,1.40 0 1,0 2.80,0a1.40,1.40 0 1,0 -2.80,0zM231.48,70.69a1.40,1.40 0 1,0 2.80,0a1.40,1.40 0 1,0 -2.80,0zM235.21,77.89a1.40,1.40 0 1,0 2.80,0a1.40,1.40 0 1,0 -2.80,0zM238.94,83.07a1.40,1.40 0 1,0 2.80,0a1.40,1.40 0 1,0 -2.80,0zM242.66,86.53a1.40,1.40 0 1,0 2.80,0a1.40,1.40 0 1,0 -2.80,0zM246.39,88.69a1.40,1.40 0 1,0 2.80,0a1.40,1.40 0 1,0 -2.80,0zM250.12,89.96a1.40,1.40 0 1,0 2.80,0a1.40,1.40 0 1,0 -2.80,0zM253.84,90.65a1.40,1.40 0 1,0 2.80,0a1.40,1.40 0 1,0 -2.80,0zM257.57,91.01a1.40,1.40 0 1,0 2.80,0a1.40,1.40 0 1,0 -2.80,0zM261.29,91.18a1.40,1.40 0 1,0 2.80,0a1.40,1.40 0 1,0 -2.80,0zM265.02,91.26a1.40,1.40 0 1,0 2.80,0a1.40,1.40 0 1,0 -2.80,0zM268.75,91.30a1.40,1.40 0 1,0 2.80,0a1.40,1.40 0 1,0 -2.80,0zM272.47,91.31a1.40,1.40 0 1,0 2.80,0a1.40,1.40 0 1,0 -2.80,0zM276.20,91.31a1.40,1.40 0 1,0 2.80,0a1.40,1.40 0 1,0 -2.80,0zM279.93,91.32a1.40,1.40 0 1,0 2.80,0a1.40,1.40 0 1,0 -2.80,0zM283.65,91.32a1.40,1.40 0 1,0 2.80,0a1.40,1.40 0 1,0 -2.80,0zM287.38,91.32a1.40,1.40 0 1,0 2.80,0a1.40,1.40 0 1,0 -2.80,0zM291.11,91.32a1.40,1.40 0 1,0 2.80,0a1.40,1.40 0 1,0 -2.80,0zM294.83,91.32a1.40,1.40 0 1,0 2.80,0a1.40,1.40 0 1,0 -2.80,0zM298.56,91.32a1.40,1.40 0 1,0 2.80,0a1.40,1.40 0 1,0 -2.80,0zM302.28,91.32a1.40,1.40 0 1,0 2.80,0a1.40,1.40 0 1,0 -2.80,0zM306.01,91.32a1.40,1.40 0 1,0 2.80,0a1.40,1.40 0 1,0 -2.80,0zM309.74,91.32a1.40,1.40 0 1,0 2.80,0a1.40,1.40 0 1,0 -2.80,0zM313.46,91.32a1.40,1.40 0 1,0 2.80,0a1.40,1.40 0 1,0 -2.80,0zM317.19,91.32a1.40,1.40 0 1,0 2.80,0a1.40,1.40 0 1,0 -2.80,0z" fill="#55ee99"/>
<path d="M206.80,7.40 L210.53,10.87 L214.25,20.43 L217.98,33.86 L221.71,48.40 L225.43,61.69 L229.16,72.27 L232.88,79.76 L236.61,84.51 L240.34,87.22 L244.06,88.62 L247.79,89.28 L251.52,89.57 L255.24,89.68 L258.97,89.72 L262.69,89.73 L266.42,89.73 L270.15,89.73 L273.87,89.73 L277.60,89.73 L281.33,89.73 L285.05,89.73 L288.78,89.73 L292.51,89.73 L296.23,89.73 L299.96,89.73 L303.68,89.73 L307.41,89.73 L311.14,89.73 L314.86,89.73 L318.59,89.73" fill="none" stroke="#00ddee" stroke-width="0.8" stroke-linejoin="round" stroke-linecap="round" />
<path d="M205.40,7.40a1.40,1.40 0 1,0 2.80,0a1.40,1.40 0 1,0 -2.80,0zM209.13,10.87a1.40,1.40 0 1,0 2.80,0a1.40,1.40 0 1,0 -2.80,0zM212.85,20.43a1.40,1.40 0 1,0 2.80,0a1.40,1.40 0 1,0 -2.80,0zM216.58,33.86a1.40,1.40 0 1,0 2.80,0a1.40,1.40 0 1,0 -2.80,0zM220.31,48.40a1.40,1.40 0 1,0 2.80,0a1.40,1.40 0 1,0 -2.80,0zM224.03,61.69a1.40,1.40 0 1,0 2.80,0a1.40,1.40 0 1,0 -2.80,0zM227.76,72.27a1.40,1.40 0 1,0 2.80,0a1.40,1.40 0 1,0 -2.80,0zM231.48,79.76a1.40,1.40 0 1,0 2.80,0a1.40,1.40 0 1,0 -2.80,0zM235.21,84.51a1.40,1.40 0 1,0 2.80,0a1.40,1.40 0 1,0 -2.80,0zM238.94,87.22a1.40,1.40 0 1,0 2.80,0a1.40,1.40 0 1,0 -2.80,0zM242.66,88.62a1.40,1.40 0 1,0 2.80,0a1.40,1.40 0 1,0 -2.80,0zM246.39,89.28a1.40,1.40 0 1,0 2.80,0a1.40,1.40 0 1,0 -2.80,0zM250.12,89.57a1.40,1.40 0 1,0 2.80,0a1.40,1.40 0 1,0 -2.80,0zM253.84,89.68a1.40,1.40 0 1,0 2.80,0a1.40,1.40 0 1,0 -2.80,0zM257.57,89.72a1.40,1.40 0 1,0 2.80,0a1.40,1.40 0 1,0 -2.80,0zM261.29,89.73a1.40,1.40 0 1,0 2.80,0a1.40,1.40 0 1,0 -2.80,0zM265.02,89.73a1.40,1.40 0 1,0 2.80,0a1.40,1.40 0 1,0 -2.80,0zM268.75,89.73a1.40,1.40 0 1,0 2.80,0a1.40,1.40 0 1,0 -2.80,0zM272.47,89.73a1.40,1.40 0 1,0 2.80,0a1.40,1.40 0 1,0 -2.80,0zM276.20,89.73a1.40,1.40 0 1,0 2.80,0a1.40,1.40 0 1,0 -2.80,0zM279.93,89.73a1.40,1.40 0 1,0 2.80,0a1.40,1.40 0 1,0 -2.80,0zM283.65,89.73a1.40,1.40 0 1,0 2.80,0a1.40,1.40 0 1,0 -2.80,0zM287.38,89.73a1.40,1.40 0 1,0 2.80,0a1.40,1.40 0 1,0 -2.80,0zM291.11,89.73a1.40,1.40 0 1,0 2.80,0a1.40,1.40 0 1,0 -2.80,0zM294.83,89.73a1.40,1.40 0 1,0 2.80,0a1.40,1.40 0 1,0 -2.80,0zM298.56,89.73a1.40,1.40 0 1,0 2.80,0a1.40,1.40 0 1,0 -2.80,0zM302.28,89.73a1.40,1.40 0 1,0 2.80,0a1.40,1.40 0 1,0 -2.80,0zM306.01,89.73a1.40,1.40 0 1,0 2.80,0a1.40,1.40 0 1,0 -2.80,0zM309.74,89.73a1.40,1.40 0 1,0 2.80,0a1.40,1.40 0 1,0 -2.80,0zM313.46,89.73a1.40,1.40 0 1,0 2.80,0a1.40,1.40 0 1,0 -2.80,0zM317.19,89.73a1.40,1.40 0 1,0 2.80,0a1.40,1.40 0 1,0 -2.80,0z" fill="#00ddee"/>
<path d="M206.80,7.40 L210.53,11.25 L214.25,21.75 L217.98,36.19 L221.71,51.35 L225.43,64.63 L229.16,74.66 L232.88,81.33 L236.61,85.26 L240.34,87.32 L244.06,88.30 L247.79,88.71 L251.52,88.87 L255.24,88.92 L258.97,88.94 L262.69,88.94 L266.42,88.94 L270.15,88.94 L273.87,88.94 L277.60,88.94 L281.33,88.94 L285.05,88.94 L288.78,88.94 L292.51,88.94 L296.23,88.94 L299.96,88.94 L303.68,88.94 L307.41,88.94 L311.14,88.94 L314.86,88.94 L318.59,88.94" fill="none" stroke="#1ab4f5" stroke-width="0.8" stroke-linejoin="round" stroke-linecap="round" />
<path d="M205.40,7.40a1.40,1.40 0 1,0 2.80,0a1.40,1.40 0 1,0 -2.80,0zM209.13,11.25a1.40,1.40 0 1,0 2.80,0a1.40,1.40 0 1,0 -2.80,0zM212.85,21.75a1.40,1.40 0 1,0 2.80,0a1.40,1.40 0 1,0 -2.80,0zM216.58,36.19a1.40,1.40 0 1,0 2.80,0a1.40,1.40 0 1,0 -2.80,0zM220.31,51.35a1.40,1.40 0 1,0 2.80,0a1.40,1.40 0 1,0 -2.80,0zM224.03,64.63a1.40,1.40 0 1,0 2.80,0a1.40,1.40 0 1,0 -2.80,0zM227.76,74.66a1.40,1.40 0 1,0 2.80,0a1.40,1.40 0 1,0 -2.80,0zM231.48,81.33a1.40,1.40 0 1,0 2.80,0a1.40,1.40 0 1,0 -2.80,0zM235.21,85.26a1.40,1.40 0 1,0 2.80,0a1.40,1.40 0 1,0 -2.80,0zM238.94,87.32a1.40,1.40 0 1,0 2.80,0a1.40,1.40 0 1,0 -2.80,0zM242.66,88.30a1.40,1.40 0 1,0 2.80,0a1.40,1.40 0 1,0 -2.80,0zM246.39,88.71a1.40,1.40 0 1,0 2.80,0a1.40,1.40 0 1,0 -2.80,0zM250.12,88.87a1.40,1.40 0 1,0 2.80,0a1.40,1.40 0 1,0 -2.80,0zM253.84,88.92a1.40,1.40 0 1,0 2.80,0a1.40,1.40 0 1,0 -2.80,0zM257.57,88.94a1.40,1.40 0 1,0 2.80,0a1.40,1.40 0 1,0 -2.80,0zM261.29,88.94a1.40,1.40 0 1,0 2.80,0a1.40,1.40 0 1,0 -2.80,0zM265.02,88.94a1.40,1.40 0 1,0 2.80,0a1.40,1.40 0 1,0 -2.80,0zM268.75,88.94a1.40,1.40 0 1,0 2.80,0a1.40,1.40 0 1,0 -2.80,0zM272.47,88.94a1.40,1.40 0 1,0 2.80,0a1.40,1.40 0 1,0 -2.80,0zM276.20,88.94a1.40,1.40 0 1,0 2.80,0a1.40,1.40 0 1,0 -2.80,0zM279.93,88.94a1.40,1.40 0 1,0 2.80,0a1.40,1.40 0 1,0 -2.80,0zM283.65,88.94a1.40,1.40 0 1,0 2.80,0a1.40,1.40 0 1,0 -2.80,0zM287.38,88.94a1.40,1.40 0 1,0 2.80,0a1.40,1.40 0 1,0 -2.80,0zM291.11,88.94a1.40,1.40 0 1,0 2.80,0a1.40,1.40 0 1,0 -2.80,0zM294.83,88.94a1.40,1.40 0 1,0 2.80,0a1.40,1.40 0 1,0 -2.80,0zM298.56,88.94a1.40,1.40 0 1,0 2.80,0a1.40,1.40 0 1,0 -2.80,0zM302.28,88.94a1.40,1.40 0 1,0 2.80,0a1.40,1.40 0 1,0 -2.80,0zM306.01,88.94a1.40,1.40 0 1,0 2.80,0a1.40,1.40 0 1,0 -2.80,0zM309.74,88.94a1.40,1.40 0 1,0 2.80,0a1.40,1.40 0 1,0 -2.80,0zM313.46,88.94a1.40,1.40 0 1,0 2.80,0a1.40,1.40 0 1,0 -2.80,0zM317.19,88.94a1.40,1.40 0 1,0 2.80,0a1.40,1.40 0 1,0 -2.80,0z" fill="#1ab4f5"/>
<path d="M206.80,7.40 L210.53,10.52 L214.25,19.18 L217.98,31.55 L221.71,45.32 L225.43,58.35 L229.16,69.21 L232.88,77.30 L236.61,82.76 L240.34,86.12 L244.06,88.00 L247.79,88.96 L251.52,89.42 L255.24,89.61 L258.97,89.69 L262.69,89.72 L266.42,89.73 L270.15,89.73 L273.87,89.73 L277.60,89.73 L281.33,89.73 L285.05,89.73 L288.78,89.73 L292.51,89.73 L296.23,89.73 L299.96,89.73 L303.68,89.73 L307.41,89.73 L311.14,89.73 L314.86,89.73 L318.59,89.73" fill="none" stroke="#ff9900" stroke-width="0.8" stroke-linejoin="round" stroke-linecap="round" />
<path d="M205.40,7.40a1.40,1.40 0 1,0 2.80,0a1.40,1.40 0 1,0 -2.80,0zM209.13,10.52a1.40,1.40 0 1,0 2.80,0a1.40,1.40 0 1,0 -2.80,0zM212.85,19.18a1.40,1.40 0 1,0 2.80,0a1.40,1.40 0 1,0 -2.80,0zM216.58,31.55a1.40,1.40 0 1,0 2.80,0a1.40,1.40 0 1,0 -2.80,0zM220.31,45.32a1.40,1.40 0 1,0 2.80,0a1.40,1.40 0 1,0 -2.80,0zM224.03,58.35a1.40,1.40 0 1,0 2.80,0a1.40,1.40 0 1,0 -2.80,0zM227.76,69.21a1.40,1.40 0 1,0 2.80,0a1.40,1.40 0 1,0 -2.80,0zM231.48,77.30a1.40,1.40 0 1,0 2.80,0a1.40,1.40 0 1,0 -2.80,0zM235.21,82.76a1.40,1.40 0 1,0 2.80,0a1.40,1.40 0 1,0 -2.80,0zM238.94,86.12a1.40,1.40 0 1,0 2.80,0a1.40,1.40 0 1,0 -2.80,0zM242.66,88.00a1.40,1.40 0 1,0 2.80,0a1.40,1.40 0 1,0 -2.80,0zM246.39,88.96a1.40,1.40 0 1,0 2.80,0a1.40,1.40 0 1,0 -2.80,0zM250.12,89.42a1.40,1.40 0 1,0 2.80,0a1.40,1.40 0 1,0 -2.80,0zM253.84,89.61a1.40,1.40 0 1,0 2.80,0a1.40,1.40 0 1,0 -2.80,0zM257.57,89.69a1.40,1.40 0 1,0 2.80,0a1.40,1.40 0 1,0 -2.80,0zM261.29,89.72a1.40,1.40 0 1,0 2.80,0a1.40,1.40 0 1,0 -2.80,0zM265.02,89.73a1.40,1.40 0 1,0 2.80,0a1.40,1.40 0 1,0 -2.80,0zM268.75,89.73a1.40,1.40 0 1,0 2.80,0a1.40,1.40 0 1,0 -2.80,0zM272.47,89.73a1.40,1.40 0 1,0 2.80,0a1.40,1.40 0 1,0 -2.80,0zM276.20,89.73a1.40,1.40 0 1,0 2.80,0a1.40,1.40 0 1,0 -2.80,0zM279.93,89.73a1.40,1.40 0 1,0 2.80,0a1.40,1.40 0 1,0 -2.80,0zM283.65,89.73a1.40,1.40 0 1,0 2.80,0a1.40,1.40 0 1,0 -2.80,0zM287.38,89.73a1.40,1.40 0 1,0 2.80,0a1.40,1.40 0 1,0 -2.80,0zM291.11,89.73a1.40,1.40 0 1,0 2.80,0a1.40,1.40 0 1,0 -2.80,0zM294.83,89.73a1.40,1.40 0 1,0 2.80,0a1.40,1.40 0 1,0 -2.80,0zM298.56,89.73a1.40,1.40 0 1,0 2.80,0a1.40,1.40 0 1,0 -2.80,0zM302.28,89.73a1.40,1.40 0 1,0 2.80,0a1.40,1.40 0 1,0 -2.80,0zM306.01,89.73a1.40,1.40 0 1,0 2.80,0a1.40,1.40 0 1,0 -2.80,0zM309.74,89.73a1.40,1.40 0 1,0 2.80,0a1.40,1.40 0 1,0 -2.80,0zM313.46,89.73a1.40,1.40 0 1,0 2.80,0a1.40,1.40 0 1,0 -2.80,0zM317.19,89.73a1.40,1.40 0 1,0 2.80,0a1.40,1.40 0 1,0 -2.80,0z" fill="#ff9900"/>
<path d="M206.80,7.40 L210.53,9.64 L214.25,16.02 L217.98,25.56 L221.71,36.94 L225.43,48.74 L229.16,59.76 L232.88,69.21 L236.61,76.69 L240.34,82.21 L244.06,86.02 L247.79,88.48 L251.52,89.97 L255.24,90.83 L258.97,91.28 L262.69,91.52 L266.42,91.63 L270.15,91.68 L273.87,91.70 L277.60,91.71 L281.33,91.71 L285.05,91.71 L288.78,91.71 L292.51,91.71 L296.23,91.71 L299.96,91.71 L303.68,91.71 L307.41,91.71 L311.14,91.71 L314.86,91.71 L318.59,91.71" fill="none" stroke="#ffe800" stroke-width="0.8" stroke-linejoin="round" stroke-linecap="round" />
<path d="M205.40,7.40a1.40,1.40 0 1,0 2.80,0a1.40,1.40 0 1,0 -2.80,0zM209.13,9.64a1.40,1.40 0 1,0 2.80,0a1.40,1.40 0 1,0 -2.80,0zM212.85,16.02a1.40,1.40 0 1,0 2.80,0a1.40,1.40 0 1,0 -2.80,0zM216.58,25.56a1.40,1.40 0 1,0 2.80,0a1.40,1.40 0 1,0 -2.80,0zM220.31,36.94a1.40,1.40 0 1,0 2.80,0a1.40,1.40 0 1,0 -2.80,0zM224.03,48.74a1.40,1.40 0 1,0 2.80,0a1.40,1.40 0 1,0 -2.80,0zM227.76,59.76a1.40,1.40 0 1,0 2.80,0a1.40,1.40 0 1,0 -2.80,0zM231.48,69.21a1.40,1.40 0 1,0 2.80,0a1.40,1.40 0 1,0 -2.80,0zM235.21,76.69a1.40,1.40 0 1,0 2.80,0a1.40,1.40 0 1,0 -2.80,0zM238.94,82.21a1.40,1.40 0 1,0 2.80,0a1.40,1.40 0 1,0 -2.80,0zM242.66,86.02a1.40,1.40 0 1,0 2.80,0a1.40,1.40 0 1,0 -2.80,0zM246.39,88.48a1.40,1.40 0 1,0 2.80,0a1.40,1.40 0 1,0 -2.80,0zM250.12,89.97a1.40,1.40 0 1,0 2.80,0a1.40,1.40 0 1,0 -2.80,0zM253.84,90.83a1.40,1.40 0 1,0 2.80,0a1.40,1.40 0 1,0 -2.80,0zM257.57,91.28a1.40,1.40 0 1,0 2.80,0a1.40,1.40 0 1,0 -2.80,0zM261.29,91.52a1.40,1.40 0 1,0 2.80,0a1.40,1.40 0 1,0 -2.80,0zM265.02,91.63a1.40,1.40 0 1,0 2.80,0a1.40,1.40 0 1,0 -2.80,0zM268.75,91.68a1.40,1.40 0 1,0 2.80,0a1.40,1.40 0 1,0 -2.80,0zM272.47,91.70a1.40,1.40 0 1,0 2.80,0a1.40,1.40 0 1,0 -2.80,0zM276.20,91.71a1.40,1.40 0 1,0 2.80,0a1.40,1.40 0 1,0 -2.80,0zM279.93,91.71a1.40,1.40 0 1,0 2.80,0a1.40,1.40 0 1,0 -2.80,0zM283.65,91.71a1.40,1.40 0 1,0 2.80,0a1.40,1.40 0 1,0 -2.80,0zM287.38,91.71a1.40,1.40 0 1,0 2.80,0a1.40,1.40 0 1,0 -2.80,0zM291.11,91.71a1.40,1.40 0 1,0 2.80,0a1.40,1.40 0 1,0 -2.80,0zM294.83,91.71a1.40,1.40 0 1,0 2.80,0a1.40,1.40 0 1,0 -2.80,0zM298.56,91.71a1.40,1.40 0 1,0 2.80,0a1.40,1.40 0 1,0 -2.80,0zM302.28,91.71a1.40,1.40 0 1,0 2.80,0a1.40,1.40 0 1,0 -2.80,0zM306.01,91.71a1.40,1.40 0 1,0 2.80,0a1.40,1.40 0 1,0 -2.80,0zM309.74,91.71a1.40,1.40 0 1,0 2.80,0a1.40,1.40 0 1,0 -2.80,0zM313.46,91.71a1.40,1.40 0 1,0 2.80,0a1.40,1.40 0 1,0 -2.80,0zM317.19,91.71a1.40,1.40 0 1,0 2.80,0a1.40,1.40 0 1,0 -2.80,0z" fill="#ffe800"/>
<path d="M206.80,7.40 L210.53,9.84 L214.25,20.23 L217.98,37.93 L221.71,57.44 L225.43,72.77 L229.16,81.53 L232.88,85.19 L236.61,86.29 L240.34,86.53 L244.06,86.56 L247.79,86.57 L251.52,86.57 L255.24,86.57 L258.97,86.57 L262.69,86.57 L266.42,86.57 L270.15,86.57 L273.87,86.57 L277.60,86.57 L281.33,86.57 L285.05,86.57 L288.78,86.57 L292.51,86.57 L296.23,86.57 L299.96,86.57 L303.68,86.57 L307.41,86.57 L311.14,86.57 L314.86,86.57 L318.59,86.57" fill="none" stroke="#ff5500" stroke-width="0.8" stroke-linejoin="round" stroke-linecap="round" />
<path d="M205.40,7.40a1.40,1.40 0 1,0 2.80,0a1.40,1.40 0 1,0 -2.80,0zM209.13,9.84a1.40,1.40 0 1,0 2.80,0a1.40,1.40 0 1,0 -2.80,0zM212.85,20.23a1.40,1.40 0 1,0 2.80,0a1.40,1.40 0 1,0 -2.80,0zM216.58,37.93a1.40,1.40 0 1,0 2.80,0a1.40,1.40 0 1,0 -2.80,0zM220.31,57.44a1.40,1.40 0 1,0 2.80,0a1.40,1.40 0 1,0 -2.80,0zM224.03,72.77a1.40,1.40 0 1,0 2.80,0a1.40,1.40 0 1,0 -2.80,0zM227.76,81.53a1.40,1.40 0 1,0 2.80,0a1.40,1.40 0 1,0 -2.80,0zM231.48,85.19a1.40,1.40 0 1,0 2.80,0a1.40,1.40 0 1,0 -2.80,0zM235.21,86.29a1.40,1.40 0 1,0 2.80,0a1.40,1.40 0 1,0 -2.80,0zM238.94,86.53a1.40,1.40 0 1,0 2.80,0a1.40,1.40 0 1,0 -2.80,0zM242.66,86.56a1.40,1.40 0 1,0 2.80,0a1.40,1.40 0 1,0 -2.80,0zM246.39,86.57a1.40,1.40 0 1,0 2.80,0a1.40,1.40 0 1,0 -2.80,0zM250.12,86.57a1.40,1.40 0 1,0 2.80,0a1.40,1.40 0 1,0 -2.80,0zM253.84,86.57a1.40,1.40 0 1,0 2.80,0a1.40,1.40 0 1,0 -2.80,0zM257.57,86.57a1.40,1.40 0 1,0 2.80,0a1.40,1.40 0 1,0 -2.80,0zM261.29,86.57a1.40,1.40 0 1,0 2.80,0a1.40,1.40 0 1,0 -2.80,0zM265.02,86.57a1.40,1.40 0 1,0 2.80,0a1.40,1.40 0 1,0 -2.80,0zM268.75,86.57a1.40,1.40 0 1,0 2.80,0a1.40,1.40 0 1,0 -2.80,0zM272.47,86.57a1.40,1.40 0 1,0 2.80,0a1.40,1.40 0 1,0 -2.80,0zM276.20,86.57a1.40,1.40 0 1,0 2.80,0a1.40,1.40 0 1,0 -2.80,0zM279.93,86.57a1.40,1.40 0 1,0 2.80,0a1.40,1.40 0 1,0 -2.80,0zM283.65,86.57a1.40,1.40 0 1,0 2.80,0a1.40,1.40 0 1,0 -2.80,0zM287.38,86.57a1.40,1.40 0 1,0 2.80,0a1.40,1.40 0 1,0 -2.80,0zM291.11,86.57a1.40,1.40 0 1,0 2.80,0a1.40,1.40 0 1,0 -2.80,0zM294.83,86.57a1.40,1.40 0 1,0 2.80,0a1.40,1.40 0 1,0 -2.80,0zM298.56,86.57a1.40,1.40 0 1,0 2.80,0a1.40,1.40 0 1,0 -2.80,0zM302.28,86.57a1.40,1.40 0 1,0 2.80,0a1.40,1.40 0 1,0 -2.80,0zM306.01,86.57a1.40,1.40 0 1,0 2.80,0a1.40,1.40 0 1,0 -2.80,0zM309.74,86.57a1.40,1.40 0 1,0 2.80,0a1.40,1.40 0 1,0 -2.80,0zM313.46,86.57a1.40,1.40 0 1,0 2.80,0a1.40,1.40 0 1,0 -2.80,0zM317.19,86.57a1.40,1.40 0 1,0 2.80,0a1.40,1.40 0 1,0 -2.80,0z" fill="#ff5500"/>
<path d="M206.80,7.40 L210.53,10.07 L214.25,21.35 L217.98,40.19 L221.71,60.23 L225.43,75.12 L229.16,83.02 L232.88,86.00 L236.61,86.80 L240.34,86.94 L244.06,86.96 L247.79,86.96 L251.52,86.96 L255.24,86.96 L258.97,86.96 L262.69,86.96 L266.42,86.96 L270.15,86.96 L273.87,86.96 L277.60,86.96 L281.33,86.96 L285.05,86.96 L288.78,86.96 L292.51,86.96 L296.23,86.96 L299.96,86.96 L303.68,86.96 L307.41,86.96 L311.14,86.96 L314.86,86.96 L318.59,86.96" fill="none" stroke="#bb0000" stroke-width="0.8" stroke-linejoin="round" stroke-linecap="round" />
<path d="M205.40,7.40a1.40,1.40 0 1,0 2.80,0a1.40,1.40 0 1,0 -2.80,0zM209.13,10.07a1.40,1.40 0 1,0 2.80,0a1.40,1.40 0 1,0 -2.80,0zM212.85,21.35a1.40,1.40 0 1,0 2.80,0a1.40,1.40 0 1,0 -2.80,0zM216.58,40.19a1.40,1.40 0 1,0 2.80,0a1.40,1.40 0 1,0 -2.80,0zM220.31,60.23a1.40,1.40 0 1,0 2.80,0a1.40,1.40 0 1,0 -2.80,0zM224.03,75.12a1.40,1.40 0 1,0 2.80,0a1.40,1.40 0 1,0 -2.80,0zM227.76,83.02a1.40,1.40 0 1,0 2.80,0a1.40,1.40 0 1,0 -2.80,0zM231.48,86.00a1.40,1.40 0 1,0 2.80,0a1.40,1.40 0 1,0 -2.80,0zM235.21,86.80a1.40,1.40 0 1,0 2.80,0a1.40,1.40 0 1,0 -2.80,0zM238.94,86.94a1.40,1.40 0 1,0 2.80,0a1.40,1.40 0 1,0 -2.80,0zM242.66,86.96a1.40,1.40 0 1,0 2.80,0a1.40,1.40 0 1,0 -2.80,0zM246.39,86.96a1.40,1.40 0 1,0 2.80,0a1.40,1.40 0 1,0 -2.80,0zM250.12,86.96a1.40,1.40 0 1,0 2.80,0a1.40,1.40 0 1,0 -2.80,0zM253.84,86.96a1.40,1.40 0 1,0 2.80,0a1.40,1.40 0 1,0 -2.80,0zM257.57,86.96a1.40,1.40 0 1,0 2.80,0a1.40,1.40 0 1,0 -2.80,0zM261.29,86.96a1.40,1.40 0 1,0 2.80,0a1.40,1.40 0 1,0 -2.80,0zM265.02,86.96a1.40,1.40 0 1,0 2.80,0a1.40,1.40 0 1,0 -2.80,0zM268.75,86.96a1.40,1.40 0 1,0 2.80,0a1.40,1.40 0 1,0 -2.80,0zM272.47,86.96a1.40,1.40 0 1,0 2.80,0a1.40,1.40 0 1,0 -2.80,0zM276.20,86.96a1.40,1.40 0 1,0 2.80,0a1.40,1.40 0 1,0 -2.80,0zM279.93,86.96a1.40,1.40 0 1,0 2.80,0a1.40,1.40 0 1,0 -2.80,0zM283.65,86.96a1.40,1.40 0 1,0 2.80,0a1.40,1.40 0 1,0 -2.80,0zM287.38,86.96a1.40,1.40 0 1,0 2.80,0a1.40,1.40 0 1,0 -2.80,0zM291.11,86.96a1.40,1.40 0 1,0 2.80,0a1.40,1.40 0 1,0 -2.80,0zM294.83,86.96a1.40,1.40 0 1,0 2.80,0a1.40,1.40 0 1,0 -2.80,0zM298.56,86.96a1.40,1.40 0 1,0 2.80,0a1.40,1.40 0 1,0 -2.80,0zM302.28,86.96a1.40,1.40 0 1,0 2.80,0a1.40,1.40 0 1,0 -2.80,0zM306.01,86.96a1.40,1.40 0 1,0 2.80,0a1.40,1.40 0 1,0 -2.80,0zM309.74,86.96a1.40,1.40 0 1,0 2.80,0a1.40,1.40 0 1,0 -2.80,0zM313.46,86.96a1.40,1.40 0 1,0 2.80,0a1.40,1.40 0 1,0 -2.80,0zM317.19,86.96a1.40,1.40 0 1,0 2.80,0a1.40,1.40 0 1,0 -2.80,0z" fill="#bb0000"/>
</g>
<clipPath id="cc"><rect x="380.9" y="5.2" width="127.60000000000002" height="97.3"/></clipPath><g clip-path="url(#cc)">
<path d="M380.90,7.20 L381.41,8.72 L381.92,9.31 L382.43,9.58 L382.94,9.74 L383.45,9.88 L383.96,10.01 L384.47,10.17 L384.98,10.34 L385.49,10.53 L386.00,10.73 L386.51,10.96 L387.02,11.21 L387.54,11.47 L388.05,11.75 L388.56,12.05 L389.07,12.36 L389.58,12.70 L390.09,13.05 L390.60,13.41 L391.11,13.79 L391.62,14.19 L392.13,14.60 L392.64,15.03 L393.15,15.47 L393.66,15.92 L394.17,16.39 L394.68,16.87 L395.19,17.37 L395.70,17.87 L396.21,18.39 L396.72,18.92 L397.23,19.46 L397.74,20.02 L398.25,20.58 L398.76,21.15 L399.27,21.74 L399.78,22.33 L400.30,22.93 L400.81,23.54 L401.32,24.16 L401.83,24.79 L402.34,25.42 L402.85,26.06 L403.36,26.71 L403.87,27.36 L404.38,28.02 L404.89,28.68 L405.40,29.35 L405.91,30.03 L406.42,30.71 L406.93,31.39 L407.44,32.08 L407.95,32.77 L408.46,33.46 L408.97,34.15 L409.48,34.85 L409.99,35.55 L410.50,36.25 L411.01,36.95 L411.52,37.66 L412.03,38.36 L412.54,39.06 L413.06,39.76 L413.57,40.47 L414.08,41.17 L414.59,41.87 L415.10,42.57 L415.61,43.26 L416.12,43.96 L416.63,44.65 L417.14,45.34 L417.65,46.03 L418.16,46.72 L418.67,47.40 L419.18,48.07 L419.69,48.75 L420.20,49.42 L420.71,50.08 L421.22,50.75 L421.73,51.40 L422.24,52.05 L422.75,52.70 L423.26,53.34 L423.77,53.98 L424.28,54.61 L424.79,55.23 L425.30,55.85 L425.82,56.46 L426.33,57.07 L426.84,57.67 L427.35,58.26 L427.86,58.85 L428.37,59.42 L428.88,59.99 L429.39,60.56 L429.90,61.11 L430.41,61.66 L430.92,62.20 L431.43,62.73 L431.94,63.25 L432.45,63.76 L432.96,64.26 L433.47,64.75 L433.98,65.22 L434.49,65.69 L435.00,66.14 L435.51,66.58 L436.02,67.01 L436.53,67.42 L437.04,67.81 L437.55,68.19 L438.06,68.55 L438.58,68.89 L439.09,69.21 L439.60,69.52 L440.11,69.80 L440.62,70.07 L441.13,70.32 L441.64,70.55 L442.15,70.77 L442.66,70.97 L443.17,71.17 L443.68,71.36 L444.19,71.54 L444.70,71.72 L445.21,71.90 L445.72,72.08 L446.23,72.26 L446.74,72.44 L447.25,72.63 L447.76,72.82 L448.27,73.01 L448.78,73.20 L449.29,73.40 L449.80,73.60 L450.31,73.81 L450.82,74.01 L451.34,74.22 L451.85,74.42 L452.36,74.63 L452.87,74.83 L453.38,75.04 L453.89,75.24 L454.40,75.44 L454.91,75.64 L455.42,75.83 L455.93,76.03 L456.44,76.22 L456.95,76.41 L457.46,76.60 L457.97,76.78 L458.48,76.96 L458.99,77.14 L459.50,77.32 L460.01,77.49 L460.52,77.66 L461.03,77.83 L461.54,77.99 L462.05,78.15 L462.56,78.31 L463.07,78.47 L463.58,78.62 L464.10,78.77 L464.61,78.92 L465.12,79.06 L465.63,79.21 L466.14,79.35 L466.65,79.48 L467.16,79.62 L467.67,79.75 L468.18,79.88 L468.69,80.00 L469.20,80.13 L469.71,80.25 L470.22,80.37 L470.73,80.49 L471.24,80.60 L471.75,80.72 L472.26,80.83 L472.77,80.94 L473.28,81.05 L473.79,81.15 L474.30,81.25 L474.81,81.35 L475.32,81.45 L475.83,81.55 L476.34,81.65 L476.86,81.74 L477.37,81.83 L477.88,81.92 L478.39,82.01 L478.90,82.10 L479.41,82.18 L479.92,82.27 L480.43,82.35 L480.94,82.43 L481.45,82.51 L481.96,82.59 L482.47,82.66 L482.98,82.74 L483.49,82.81 L484.00,82.88 L484.51,82.95 L485.02,83.02 L485.53,83.09 L486.04,83.16 L486.55,83.22 L487.06,83.29 L487.57,83.35 L488.08,83.41 L488.59,83.47 L489.10,83.53 L489.62,83.59 L490.13,83.65 L490.64,83.70 L491.15,83.76 L491.66,83.81 L492.17,83.86 L492.68,83.92 L493.19,83.97 L493.70,84.02 L494.21,84.07 L494.72,84.11 L495.23,84.16 L495.74,84.21 L496.25,84.25 L496.76,84.30 L497.27,84.34 L497.78,84.38 L498.29,84.43 L498.80,84.47 L499.31,84.51 L499.82,84.55 L500.33,84.59 L500.84,84.62 L501.35,84.66 L501.86,84.70 L502.38,84.74 L502.89,84.77 L503.40,84.81 L503.91,84.84 L504.42,84.87 L504.93,84.91 L505.44,84.94 L505.95,84.97 L506.46,85.00 L506.97,85.03 L507.48,85.06 L507.99,85.09 L508.50,85.12" fill="none" stroke="#1ab4f5" stroke-width="3.1" stroke-linejoin="round" stroke-linecap="round" />
<path d="M380.90,7.20 L381.41,9.48 L381.92,10.37 L382.43,10.76 L382.94,10.98 L383.45,11.16 L383.96,11.34 L384.47,11.53 L384.98,11.75 L385.49,11.98 L386.00,12.24 L386.51,12.52 L387.02,12.82 L387.54,13.14 L388.05,13.48 L388.56,13.84 L389.07,14.22 L389.58,14.62 L390.09,15.04 L390.60,15.47 L391.11,15.92 L391.62,16.39 L392.13,16.87 L392.64,17.37 L393.15,17.89 L393.66,18.42 L394.17,18.96 L394.68,19.52 L395.19,20.09 L395.70,20.67 L396.21,21.26 L396.72,21.87 L397.23,22.49 L397.74,23.11 L398.25,23.75 L398.76,24.40 L399.27,25.05 L399.78,25.72 L400.30,26.39 L400.81,27.07 L401.32,27.75 L401.83,28.45 L402.34,29.15 L402.85,29.85 L403.36,30.56 L403.87,31.28 L404.38,32.00 L404.89,32.72 L405.40,33.44 L405.91,34.17 L406.42,34.91 L406.93,35.64 L407.44,36.37 L407.95,37.11 L408.46,37.85 L408.97,38.59 L409.48,39.32 L409.99,40.06 L410.50,40.80 L411.01,41.53 L411.52,42.27 L412.03,43.00 L412.54,43.73 L413.06,44.46 L413.57,45.19 L414.08,45.91 L414.59,46.63 L415.10,47.34 L415.61,48.06 L416.12,48.76 L416.63,49.47 L417.14,50.16 L417.65,50.86 L418.16,51.55 L418.67,52.23 L419.18,52.91 L419.69,53.58 L420.20,54.24 L420.71,54.90 L421.22,55.55 L421.73,56.20 L422.24,56.84 L422.75,57.47 L423.26,58.10 L423.77,58.72 L424.28,59.33 L424.79,59.93 L425.30,60.53 L425.82,61.11 L426.33,61.69 L426.84,62.27 L427.35,62.83 L427.86,63.39 L428.37,63.94 L428.88,64.48 L429.39,65.01 L429.90,65.53 L430.41,66.05 L430.92,66.56 L431.43,67.06 L431.94,67.55 L432.45,68.03 L432.96,68.51 L433.47,68.97 L433.98,69.43 L434.49,69.88 L435.00,70.32 L435.51,70.75 L436.02,71.18 L436.53,71.60 L437.04,72.01 L437.55,72.41 L438.06,72.80 L438.58,73.18 L439.09,73.56 L439.60,73.93 L440.11,74.29 L440.62,74.64 L441.13,74.99 L441.64,75.33 L442.15,75.66 L442.66,75.98 L443.17,76.30 L443.68,76.61 L444.19,76.91 L444.70,77.20 L445.21,77.49 L445.72,77.77 L446.23,78.04 L446.74,78.31 L447.25,78.58 L447.76,78.83 L448.27,79.08 L448.78,79.33 L449.29,79.57 L449.80,79.80 L450.31,80.03 L450.82,80.26 L451.34,80.48 L451.85,80.69 L452.36,80.90 L452.87,81.10 L453.38,81.30 L453.89,81.49 L454.40,81.68 L454.91,81.87 L455.42,82.05 L455.93,82.23 L456.44,82.40 L456.95,82.57 L457.46,82.73 L457.97,82.89 L458.48,83.05 L458.99,83.20 L459.50,83.35 L460.01,83.49 L460.52,83.64 L461.03,83.78 L461.54,83.91 L462.05,84.05 L462.56,84.18 L463.07,84.30 L463.58,84.43 L464.10,84.55 L464.61,84.67 L465.12,84.78 L465.63,84.90 L466.14,85.01 L466.65,85.12 L467.16,85.23 L467.67,85.33 L468.18,85.43 L468.69,85.53 L469.20,85.63 L469.71,85.73 L470.22,85.83 L470.73,85.92 L471.24,86.01 L471.75,86.10 L472.26,86.19 L472.77,86.28 L473.28,86.36 L473.79,86.45 L474.30,86.53 L474.81,86.61 L475.32,86.69 L475.83,86.77 L476.34,86.85 L476.86,86.93 L477.37,87.01 L477.88,87.08 L478.39,87.16 L478.90,87.23 L479.41,87.31 L479.92,87.38 L480.43,87.45 L480.94,87.53 L481.45,87.60 L481.96,87.67 L482.47,87.74 L482.98,87.81 L483.49,87.88 L484.00,87.95 L484.51,88.02 L485.02,88.09 L485.53,88.15 L486.04,88.22 L486.55,88.29 L487.06,88.36 L487.57,88.43 L488.08,88.49 L488.59,88.56 L489.10,88.63 L489.62,88.70 L490.13,88.76 L490.64,88.83 L491.15,88.90 L491.66,88.97 L492.17,89.03 L492.68,89.10 L493.19,89.17 L493.70,89.24 L494.21,89.30 L494.72,89.37 L495.23,89.44 L495.74,89.51 L496.25,89.58 L496.76,89.65 L497.27,89.72 L497.78,89.79 L498.29,89.86 L498.80,89.93 L499.31,90.00 L499.82,90.07 L500.33,90.14 L500.84,90.21 L501.35,90.29 L501.86,90.36 L502.38,90.43 L502.89,90.51 L503.40,90.58 L503.91,90.65 L504.42,90.73 L504.93,90.80 L505.44,90.88 L505.95,90.95 L506.46,91.03 L506.97,91.11 L507.48,91.18 L507.99,91.26 L508.50,91.34" fill="none" stroke="#00ddee" stroke-width="3.1" stroke-linejoin="round" stroke-linecap="round" />
<path d="M380.90,7.20 L381.41,8.97 L381.92,9.66 L382.43,9.97 L382.94,10.14 L383.45,10.29 L383.96,10.44 L384.47,10.60 L384.98,10.78 L385.49,10.98 L386.00,11.20 L386.51,11.44 L387.02,11.70 L387.54,11.98 L388.05,12.28 L388.56,12.59 L389.07,12.93 L389.58,13.28 L390.09,13.65 L390.60,14.03 L391.11,14.44 L391.62,14.85 L392.13,15.29 L392.64,15.74 L393.15,16.20 L393.66,16.68 L394.17,17.18 L394.68,17.68 L395.19,18.20 L395.70,18.74 L396.21,19.28 L396.72,19.84 L397.23,20.41 L397.74,20.99 L398.25,21.58 L398.76,22.18 L399.27,22.80 L399.78,23.42 L400.30,24.05 L400.81,24.69 L401.32,25.33 L401.83,25.99 L402.34,26.65 L402.85,27.32 L403.36,27.99 L403.87,28.67 L404.38,29.36 L404.89,30.05 L405.40,30.75 L405.91,31.45 L406.42,32.16 L406.93,32.86 L407.44,33.58 L407.95,34.29 L408.46,35.01 L408.97,35.73 L409.48,36.45 L409.99,37.17 L410.50,37.89 L411.01,38.61 L411.52,39.34 L412.03,40.06 L412.54,40.78 L413.06,41.51 L413.57,42.23 L414.08,42.94 L414.59,43.66 L415.10,44.38 L415.61,45.09 L416.12,45.80 L416.63,46.50 L417.14,47.21 L417.65,47.91 L418.16,48.60 L418.67,49.29 L419.18,49.98 L419.69,50.66 L420.20,51.34 L420.71,52.01 L421.22,52.68 L421.73,53.34 L422.24,54.00 L422.75,54.65 L423.26,55.30 L423.77,55.93 L424.28,56.57 L424.79,57.19 L425.30,57.81 L425.82,58.42 L426.33,59.03 L426.84,59.63 L427.35,60.22 L427.86,60.80 L428.37,61.38 L428.88,61.95 L429.39,62.51 L429.90,63.06 L430.41,63.61 L430.92,64.15 L431.43,64.68 L431.94,65.20 L432.45,65.72 L432.96,66.22 L433.47,66.72 L433.98,67.21 L434.49,67.69 L435.00,68.17 L435.51,68.64 L436.02,69.10 L436.53,69.55 L437.04,69.99 L437.55,70.42 L438.06,70.85 L438.58,71.27 L439.09,71.68 L439.60,72.08 L440.11,72.48 L440.62,72.87 L441.13,73.25 L441.64,73.62 L442.15,73.98 L442.66,74.34 L443.17,74.69 L443.68,75.03 L444.19,75.37 L444.70,75.69 L445.21,76.01 L445.72,76.33 L446.23,76.64 L446.74,76.94 L447.25,77.24 L447.76,77.53 L448.27,77.81 L448.78,78.09 L449.29,78.37 L449.80,78.64 L450.31,78.90 L450.82,79.16 L451.34,79.42 L451.85,79.67 L452.36,79.91 L452.87,80.15 L453.38,80.39 L453.89,80.62 L454.40,80.85 L454.91,81.07 L455.42,81.29 L455.93,81.50 L456.44,81.71 L456.95,81.92 L457.46,82.12 L457.97,82.32 L458.48,82.52 L458.99,82.71 L459.50,82.90 L460.01,83.08 L460.52,83.26 L461.03,83.44 L461.54,83.62 L462.05,83.79 L462.56,83.96 L463.07,84.13 L463.58,84.29 L464.10,84.45 L464.61,84.61 L465.12,84.77 L465.63,84.92 L466.14,85.08 L466.65,85.23 L467.16,85.38 L467.67,85.52 L468.18,85.67 L468.69,85.81 L469.20,85.95 L469.71,86.09 L470.22,86.23 L470.73,86.37 L471.24,86.50 L471.75,86.64 L472.26,86.77 L472.77,86.90 L473.28,87.03 L473.79,87.16 L474.30,87.29 L474.81,87.42 L475.32,87.55 L475.83,87.67 L476.34,87.80 L476.86,87.92 L477.37,88.05 L477.88,88.17 L478.39,88.29 L478.90,88.42 L479.41,88.54 L479.92,88.66 L480.43,88.78 L480.94,88.90 L481.45,89.03 L481.96,89.15 L482.47,89.27 L482.98,89.39 L483.49,89.51 L484.00,89.63 L484.51,89.75 L485.02,89.88 L485.53,90.00 L486.04,90.12 L486.55,90.24 L487.06,90.36 L487.57,90.49 L488.08,90.61 L488.59,90.73 L489.10,90.86 L489.62,90.98 L490.13,91.11 L490.64,91.23 L491.15,91.36 L491.66,91.48 L492.17,91.61 L492.68,91.74 L493.19,91.87 L493.70,91.99 L494.21,92.12 L494.72,92.25 L495.23,92.38 L495.74,92.52 L496.25,92.65 L496.76,92.78 L497.27,92.92 L497.78,93.05 L498.29,93.19 L498.80,93.32 L499.31,93.46 L499.82,93.60 L500.33,93.74 L500.84,93.88 L501.35,94.02 L501.86,94.16 L502.38,94.30 L502.89,94.45 L503.40,94.59 L503.91,94.74 L504.42,94.88 L504.93,95.03 L505.44,95.18 L505.95,95.33 L506.46,95.48 L506.97,95.63 L507.48,95.78 L507.99,95.94 L508.50,96.09" fill="none" stroke="#99ee33" stroke-width="3.1" stroke-linejoin="round" stroke-linecap="round" />
<path d="M380.90,7.20 L381.41,8.97 L381.92,9.66 L382.43,9.96 L382.94,10.14 L383.45,10.28 L383.96,10.43 L384.47,10.59 L384.98,10.76 L385.49,10.96 L386.00,11.17 L386.51,11.41 L387.02,11.66 L387.54,11.94 L388.05,12.23 L388.56,12.54 L389.07,12.86 L389.58,13.21 L390.09,13.57 L390.60,13.95 L391.11,14.34 L391.62,14.75 L392.13,15.18 L392.64,15.62 L393.15,16.08 L393.66,16.55 L394.17,17.03 L394.68,17.53 L395.19,18.04 L395.70,18.56 L396.21,19.10 L396.72,19.65 L397.23,20.20 L397.74,20.77 L398.25,21.36 L398.76,21.95 L399.27,22.55 L399.78,23.16 L400.30,23.78 L400.81,24.40 L401.32,25.04 L401.83,25.68 L402.34,26.34 L402.85,26.99 L403.36,27.66 L403.87,28.33 L404.38,29.01 L404.89,29.69 L405.40,30.37 L405.91,31.06 L406.42,31.76 L406.93,32.46 L407.44,33.16 L407.95,33.87 L408.46,34.57 L408.97,35.28 L409.48,35.99 L409.99,36.71 L410.50,37.42 L411.01,38.14 L411.52,38.85 L412.03,39.57 L412.54,40.28 L413.06,40.99 L413.57,41.71 L414.08,42.42 L414.59,43.13 L415.10,43.84 L415.61,44.54 L416.12,45.25 L416.63,45.95 L417.14,46.65 L417.65,47.34 L418.16,48.03 L418.67,48.72 L419.18,49.40 L419.69,50.08 L420.20,50.76 L420.71,51.43 L421.22,52.09 L421.73,52.75 L422.24,53.40 L422.75,54.05 L423.26,54.70 L423.77,55.33 L424.28,55.96 L424.79,56.59 L425.30,57.21 L425.82,57.82 L426.33,58.42 L426.84,59.02 L427.35,59.61 L427.86,60.20 L428.37,60.78 L428.88,61.35 L429.39,61.91 L429.90,62.46 L430.41,63.01 L430.92,63.55 L431.43,64.09 L431.94,64.61 L432.45,65.13 L432.96,65.64 L433.47,66.14 L433.98,66.64 L434.49,67.12 L435.00,67.60 L435.51,68.07 L436.02,68.54 L436.53,68.99 L437.04,69.44 L437.55,69.88 L438.06,70.31 L438.58,70.74 L439.09,71.15 L439.60,71.56 L440.11,71.96 L440.62,72.36 L441.13,72.74 L441.64,73.12 L442.15,73.49 L442.66,73.85 L443.17,74.21 L443.68,74.56 L444.19,74.90 L444.70,75.23 L445.21,75.56 L445.72,75.88 L446.23,76.19 L446.74,76.50 L447.25,76.81 L447.76,77.11 L448.27,77.40 L448.78,77.69 L449.29,77.97 L449.80,78.25 L450.31,78.52 L450.82,78.79 L451.34,79.05 L451.85,79.31 L452.36,79.56 L452.87,79.81 L453.38,80.06 L453.89,80.30 L454.40,80.53 L454.91,80.76 L455.42,80.99 L455.93,81.21 L456.44,81.43 L456.95,81.65 L457.46,81.86 L457.97,82.07 L458.48,82.27 L458.99,82.47 L459.50,82.67 L460.01,82.86 L460.52,83.05 L461.03,83.24 L461.54,83.43 L462.05,83.61 L462.56,83.79 L463.07,83.97 L463.58,84.14 L464.10,84.31 L464.61,84.48 L465.12,84.65 L465.63,84.81 L466.14,84.97 L466.65,85.13 L467.16,85.29 L467.67,85.45 L468.18,85.60 L468.69,85.75 L469.20,85.91 L469.71,86.05 L470.22,86.20 L470.73,86.35 L471.24,86.49 L471.75,86.64 L472.26,86.78 L472.77,86.92 L473.28,87.06 L473.79,87.20 L474.30,87.34 L474.81,87.48 L475.32,87.61 L475.83,87.75 L476.34,87.88 L476.86,88.02 L477.37,88.15 L477.88,88.29 L478.39,88.42 L478.90,88.55 L479.41,88.69 L479.92,88.82 L480.43,88.95 L480.94,89.08 L481.45,89.21 L481.96,89.34 L482.47,89.47 L482.98,89.61 L483.49,89.74 L484.00,89.87 L484.51,90.00 L485.02,90.13 L485.53,90.26 L486.04,90.40 L486.55,90.53 L487.06,90.66 L487.57,90.79 L488.08,90.93 L488.59,91.06 L489.10,91.20 L489.62,91.33 L490.13,91.47 L490.64,91.60 L491.15,91.74 L491.66,91.88 L492.17,92.01 L492.68,92.15 L493.19,92.29 L493.70,92.43 L494.21,92.57 L494.72,92.71 L495.23,92.85 L495.74,93.00 L496.25,93.14 L496.76,93.29 L497.27,93.43 L497.78,93.58 L498.29,93.72 L498.80,93.87 L499.31,94.02 L499.82,94.17 L500.33,94.32 L500.84,94.47 L501.35,94.63 L501.86,94.78 L502.38,94.94 L502.89,95.09 L503.40,95.25 L503.91,95.41 L504.42,95.57 L504.93,95.73 L505.44,95.89 L505.95,96.05 L506.46,96.21 L506.97,96.38 L507.48,96.54 L507.99,96.71 L508.50,96.88" fill="none" stroke="#55ee99" stroke-width="3.1" stroke-linejoin="round" stroke-linecap="round" />
<path d="M380.90,7.20 L381.41,8.72 L381.92,9.31 L382.43,9.58 L382.94,9.74 L383.45,9.88 L383.96,10.01 L384.47,10.17 L384.98,10.34 L385.49,10.53 L386.00,10.73 L386.51,10.96 L387.02,11.21 L387.54,11.47 L388.05,11.75 L388.56,12.05 L389.07,12.36 L389.58,12.70 L390.09,13.05 L390.60,13.41 L391.11,13.79 L391.62,14.19 L392.13,14.60 L392.64,15.03 L393.15,15.47 L393.66,15.92 L394.17,16.39 L394.68,16.87 L395.19,17.37 L395.70,17.87 L396.21,18.39 L396.72,18.92 L397.23,19.46 L397.74,20.02 L398.25,20.58 L398.76,21.15 L399.27,21.74 L399.78,22.33 L400.30,22.93 L400.81,23.54 L401.32,24.16 L401.83,24.79 L402.34,25.42 L402.85,26.06 L403.36,26.71 L403.87,27.36 L404.38,28.02 L404.89,28.68 L405.40,29.35 L405.91,30.03 L406.42,30.71 L406.93,31.39 L407.44,32.08 L407.95,32.77 L408.46,33.46 L408.97,34.15 L409.48,34.85 L409.99,35.55 L410.50,36.25 L411.01,36.95 L411.52,37.66 L412.03,38.36 L412.54,39.06 L413.06,39.76 L413.57,40.47 L414.08,41.17 L414.59,41.87 L415.10,42.57 L415.61,43.26 L416.12,43.96 L416.63,44.65 L417.14,45.34 L417.65,46.03 L418.16,46.72 L418.67,47.40 L419.18,48.08 L419.69,48.75 L420.20,49.42 L420.71,50.09 L421.22,50.75 L421.73,51.41 L422.24,52.06 L422.75,52.70 L423.26,53.35 L423.77,53.98 L424.28,54.61 L424.79,55.24 L425.30,55.86 L425.82,56.47 L426.33,57.08 L426.84,57.68 L427.35,58.28 L427.86,58.87 L428.37,59.45 L428.88,60.02 L429.39,60.59 L429.90,61.15 L430.41,61.71 L430.92,62.25 L431.43,62.79 L431.94,63.33 L432.45,63.85 L432.96,64.37 L433.47,64.88 L433.98,65.39 L434.49,65.88 L435.00,66.37 L435.51,66.85 L436.02,67.33 L436.53,67.79 L437.04,68.25 L437.55,68.70 L438.06,69.14 L438.58,69.58 L439.09,70.01 L439.60,70.43 L440.11,70.84 L440.62,71.25 L441.13,71.65 L441.64,72.04 L442.15,72.42 L442.66,72.80 L443.17,73.17 L443.68,73.53 L444.19,73.89 L444.70,74.23 L445.21,74.57 L445.72,74.91 L446.23,75.24 L446.74,75.57 L447.25,75.89 L447.76,76.20 L448.27,76.51 L448.78,76.81 L449.29,77.11 L449.80,77.41 L450.31,77.70 L450.82,77.98 L451.34,78.26 L451.85,78.54 L452.36,78.81 L452.87,79.07 L453.38,79.34 L453.89,79.59 L454.40,79.85 L454.91,80.10 L455.42,80.34 L455.93,80.58 L456.44,80.82 L456.95,81.06 L457.46,81.29 L457.97,81.51 L458.48,81.74 L458.99,81.96 L459.50,82.17 L460.01,82.39 L460.52,82.60 L461.03,82.80 L461.54,83.01 L462.05,83.21 L462.56,83.41 L463.07,83.61 L463.58,83.80 L464.10,83.99 L464.61,84.18 L465.12,84.37 L465.63,84.55 L466.14,84.73 L466.65,84.91 L467.16,85.09 L467.67,85.27 L468.18,85.44 L468.69,85.62 L469.20,85.79 L469.71,85.96 L470.22,86.12 L470.73,86.29 L471.24,86.46 L471.75,86.62 L472.26,86.78 L472.77,86.95 L473.28,87.11 L473.79,87.27 L474.30,87.42 L474.81,87.58 L475.32,87.74 L475.83,87.90 L476.34,88.05 L476.86,88.21 L477.37,88.36 L477.88,88.52 L478.39,88.67 L478.90,88.82 L479.41,88.98 L479.92,89.13 L480.43,89.28 L480.94,89.44 L481.45,89.59 L481.96,89.74 L482.47,89.89 L482.98,90.05 L483.49,90.20 L484.00,90.35 L484.51,90.51 L485.02,90.66 L485.53,90.81 L486.04,90.97 L486.55,91.12 L487.06,91.28 L487.57,91.43 L488.08,91.59 L488.59,91.74 L489.10,91.90 L489.62,92.06 L490.13,92.22 L490.64,92.37 L491.15,92.53 L491.66,92.69 L492.17,92.85 L492.68,93.02 L493.19,93.18 L493.70,93.34 L494.21,93.50 L494.72,93.67 L495.23,93.84 L495.74,94.00 L496.25,94.17 L496.76,94.34 L497.27,94.51 L497.78,94.68 L498.29,94.85 L498.80,95.02 L499.31,95.20 L499.82,95.37 L500.33,95.55 L500.84,95.72 L501.35,95.90 L501.86,96.08 L502.38,96.26 L502.89,96.44 L503.40,96.63 L503.91,96.81 L504.42,97.00 L504.93,97.18 L505.44,97.37 L505.95,97.56 L506.46,97.75 L506.97,97.94 L507.48,98.13 L507.99,98.33 L508.50,98.52" fill="none" stroke="#ffe800" stroke-width="3.1" stroke-linejoin="round" stroke-linecap="round" />
<path d="M380.90,7.20 L381.41,9.48 L381.92,10.36 L382.43,10.75 L382.94,10.97 L383.45,11.15 L383.96,11.33 L384.47,11.51 L384.98,11.72 L385.49,11.95 L386.00,12.21 L386.51,12.48 L387.02,12.77 L387.54,13.09 L388.05,13.42 L388.56,13.78 L389.07,14.15 L389.58,14.54 L390.09,14.95 L390.60,15.37 L391.11,15.82 L391.62,16.27 L392.13,16.75 L392.64,17.24 L393.15,17.74 L393.66,18.26 L394.17,18.79 L394.68,19.34 L395.19,19.90 L395.70,20.47 L396.21,21.05 L396.72,21.65 L397.23,22.25 L397.74,22.87 L398.25,23.49 L398.76,24.13 L399.27,24.77 L399.78,25.43 L400.30,26.09 L400.81,26.75 L401.32,27.43 L401.83,28.11 L402.34,28.80 L402.85,29.49 L403.36,30.19 L403.87,30.90 L404.38,31.61 L404.89,32.32 L405.40,33.03 L405.91,33.75 L406.42,34.47 L406.93,35.20 L407.44,35.92 L407.95,36.65 L408.46,37.38 L408.97,38.11 L409.48,38.84 L409.99,39.57 L410.50,40.30 L411.01,41.02 L411.52,41.75 L412.03,42.48 L412.54,43.20 L413.06,43.92 L413.57,44.64 L414.08,45.36 L414.59,46.07 L415.10,46.78 L415.61,47.49 L416.12,48.19 L416.63,48.89 L417.14,49.58 L417.65,50.27 L418.16,50.96 L418.67,51.64 L419.18,52.31 L419.69,52.98 L420.20,53.64 L420.71,54.30 L421.22,54.95 L421.73,55.59 L422.24,56.23 L422.75,56.86 L423.26,57.49 L423.77,58.10 L424.28,58.72 L424.79,59.32 L425.30,59.92 L425.82,60.50 L426.33,61.09 L426.84,61.66 L427.35,62.23 L427.86,62.79 L428.37,63.34 L428.88,63.88 L429.39,64.41 L429.90,64.94 L430.41,65.46 L430.92,65.97 L431.43,66.47 L431.94,66.97 L432.45,67.46 L432.96,67.94 L433.47,68.41 L433.98,68.87 L434.49,69.32 L435.00,69.77 L435.51,70.21 L436.02,70.64 L436.53,71.06 L437.04,71.47 L437.55,71.88 L438.06,72.28 L438.58,72.67 L439.09,73.05 L439.60,73.43 L440.11,73.80 L440.62,74.15 L441.13,74.51 L441.64,74.85 L442.15,75.19 L442.66,75.52 L443.17,75.84 L443.68,76.16 L444.19,76.46 L444.70,76.77 L445.21,77.06 L445.72,77.35 L446.23,77.63 L446.74,77.91 L447.25,78.18 L447.76,78.44 L448.27,78.70 L448.78,78.96 L449.29,79.21 L449.80,79.45 L450.31,79.69 L450.82,79.92 L451.34,80.15 L451.85,80.38 L452.36,80.59 L452.87,80.81 L453.38,81.02 L453.89,81.22 L454.40,81.42 L454.91,81.62 L455.42,81.81 L455.93,82.00 L456.44,82.19 L456.95,82.37 L457.46,82.54 L457.97,82.72 L458.48,82.89 L458.99,83.05 L459.50,83.21 L460.01,83.37 L460.52,83.53 L461.03,83.68 L461.54,83.83 L462.05,83.98 L462.56,84.12 L463.07,84.26 L463.58,84.40 L464.10,84.54 L464.61,84.67 L465.12,84.81 L465.63,84.93 L466.14,85.06 L466.65,85.19 L467.16,85.31 L467.67,85.43 L468.18,85.55 L468.69,85.67 L469.20,85.78 L469.71,85.89 L470.22,86.01 L470.73,86.12 L471.24,86.23 L471.75,86.33 L472.26,86.44 L472.77,86.54 L473.28,86.65 L473.79,86.75 L474.30,86.85 L474.81,86.95 L475.32,87.05 L475.83,87.15 L476.34,87.25 L476.86,87.35 L477.37,87.44 L477.88,87.54 L478.39,87.63 L478.90,87.73 L479.41,87.82 L479.92,87.91 L480.43,88.01 L480.94,88.10 L481.45,88.19 L481.96,88.28 L482.47,88.37 L482.98,88.46 L483.49,88.56 L484.00,88.65 L484.51,88.74 L485.02,88.83 L485.53,88.92 L486.04,89.01 L486.55,89.10 L487.06,89.19 L487.57,89.28 L488.08,89.37 L488.59,89.46 L489.10,89.55 L489.62,89.64 L490.13,89.73 L490.64,89.83 L491.15,89.92 L491.66,90.01 L492.17,90.10 L492.68,90.19 L493.19,90.29 L493.70,90.38 L494.21,90.48 L494.72,90.57 L495.23,90.66 L495.74,90.76 L496.25,90.85 L496.76,90.95 L497.27,91.05 L497.78,91.14 L498.29,91.24 L498.80,91.34 L499.31,91.44 L499.82,91.54 L500.33,91.64 L500.84,91.74 L501.35,91.84 L501.86,91.94 L502.38,92.04 L502.89,92.14 L503.40,92.25 L503.91,92.35 L504.42,92.46 L504.93,92.56 L505.44,92.67 L505.95,92.77 L506.46,92.88 L506.97,92.99 L507.48,93.10 L507.99,93.21 L508.50,93.32" fill="none" stroke="#ff9900" stroke-width="3.1" stroke-linejoin="round" stroke-linecap="round" />
<path d="M380.90,7.20 L381.41,10.25 L381.92,11.44 L382.43,11.97 L382.94,12.28 L383.45,12.53 L383.96,12.78 L384.47,13.05 L384.98,13.34 L385.49,13.66 L386.00,14.00 L386.51,14.36 L387.02,14.76 L387.54,15.17 L388.05,15.61 L388.56,16.07 L389.07,16.55 L389.58,17.05 L390.09,17.58 L390.60,18.11 L391.11,18.67 L391.62,19.25 L392.13,19.84 L392.64,20.44 L393.15,21.07 L393.66,21.70 L394.17,22.35 L394.68,23.01 L395.19,23.68 L395.70,24.37 L396.21,25.07 L396.72,25.77 L397.23,26.49 L397.74,27.21 L398.25,27.94 L398.76,28.68 L399.27,29.43 L399.78,30.18 L400.30,30.94 L400.81,31.70 L401.32,32.47 L401.83,33.24 L402.34,34.01 L402.85,34.79 L403.36,35.57 L403.87,36.35 L404.38,37.13 L404.89,37.92 L405.40,38.70 L405.91,39.48 L406.42,40.27 L406.93,41.05 L407.44,41.83 L407.95,42.60 L408.46,43.38 L408.97,44.15 L409.48,44.92 L409.99,45.69 L410.50,46.45 L411.01,47.21 L411.52,47.96 L412.03,48.71 L412.54,49.45 L413.06,50.19 L413.57,50.92 L414.08,51.64 L414.59,52.36 L415.10,53.07 L415.61,53.78 L416.12,54.48 L416.63,55.17 L417.14,55.85 L417.65,56.53 L418.16,57.20 L418.67,57.86 L419.18,58.51 L419.69,59.15 L420.20,59.79 L420.71,60.42 L421.22,61.03 L421.73,61.64 L422.24,62.24 L422.75,62.82 L423.26,63.40 L423.77,63.97 L424.28,64.53 L424.79,65.08 L425.30,65.62 L425.82,66.15 L426.33,66.67 L426.84,67.19 L427.35,67.69 L427.86,68.18 L428.37,68.67 L428.88,69.15 L429.39,69.61 L429.90,70.07 L430.41,70.52 L430.92,70.96 L431.43,71.39 L431.94,71.81 L432.45,72.22 L432.96,72.63 L433.47,73.02 L433.98,73.41 L434.49,73.79 L435.00,74.16 L435.51,74.52 L436.02,74.87 L436.53,75.21 L437.04,75.55 L437.55,75.88 L438.06,76.20 L438.58,76.51 L439.09,76.81 L439.60,77.11 L440.11,77.40 L440.62,77.68 L441.13,77.95 L441.64,78.22 L442.15,78.48 L442.66,78.73 L443.17,78.98 L443.68,79.22 L444.19,79.45 L444.70,79.68 L445.21,79.90 L445.72,80.11 L446.23,80.32 L446.74,80.52 L447.25,80.71 L447.76,80.90 L448.27,81.09 L448.78,81.27 L449.29,81.44 L449.80,81.61 L450.31,81.77 L450.82,81.93 L451.34,82.08 L451.85,82.22 L452.36,82.37 L452.87,82.51 L453.38,82.64 L453.89,82.77 L454.40,82.89 L454.91,83.01 L455.42,83.13 L455.93,83.24 L456.44,83.35 L456.95,83.46 L457.46,83.56 L457.97,83.65 L458.48,83.75 L458.99,83.84 L459.50,83.93 L460.01,84.01 L460.52,84.09 L461.03,84.17 L461.54,84.24 L462.05,84.32 L462.56,84.39 L463.07,84.45 L463.58,84.52 L464.10,84.58 L464.61,84.64 L465.12,84.69 L465.63,84.75 L466.14,84.80 L466.65,84.85 L467.16,84.90 L467.67,84.94 L468.18,84.99 L468.69,85.03 L469.20,85.07 L469.71,85.11 L470.22,85.15 L470.73,85.18 L471.24,85.21 L471.75,85.25 L472.26,85.28 L472.77,85.31 L473.28,85.33 L473.79,85.36 L474.30,85.38 L474.81,85.41 L475.32,85.43 L475.83,85.45 L476.34,85.47 L476.86,85.49 L477.37,85.51 L477.88,85.53 L478.39,85.54 L478.90,85.56 L479.41,85.57 L479.92,85.59 L480.43,85.60 L480.94,85.61 L481.45,85.62 L481.96,85.63 L482.47,85.64 L482.98,85.65 L483.49,85.66 L484.00,85.67 L484.51,85.68 L485.02,85.68 L485.53,85.69 L486.04,85.69 L486.55,85.70 L487.06,85.70 L487.57,85.71 L488.08,85.71 L488.59,85.71 L489.10,85.72 L489.62,85.72 L490.13,85.72 L490.64,85.72 L491.15,85.72 L491.66,85.73 L492.17,85.73 L492.68,85.73 L493.19,85.73 L493.70,85.73 L494.21,85.73 L494.72,85.73 L495.23,85.72 L495.74,85.72 L496.25,85.72 L496.76,85.72 L497.27,85.72 L497.78,85.72 L498.29,85.71 L498.80,85.71 L499.31,85.71 L499.82,85.71 L500.33,85.70 L500.84,85.70 L501.35,85.70 L501.86,85.69 L502.38,85.69 L502.89,85.69 L503.40,85.68 L503.91,85.68 L504.42,85.68 L504.93,85.67 L505.44,85.67 L505.95,85.67 L506.46,85.66 L506.97,85.66 L507.48,85.65 L507.99,85.65 L508.50,85.64" fill="none" stroke="#ff5500" stroke-width="3.1" stroke-linejoin="round" stroke-linecap="round" />
<path d="M380.90,7.20 L381.41,9.99 L381.92,11.09 L382.43,11.58 L382.94,11.88 L383.45,12.12 L383.96,12.35 L384.47,12.61 L384.98,12.89 L385.49,13.19 L386.00,13.52 L386.51,13.87 L387.02,14.25 L387.54,14.65 L388.05,15.07 L388.56,15.52 L389.07,15.98 L389.58,16.46 L390.09,16.96 L390.60,17.48 L391.11,18.02 L391.62,18.58 L392.13,19.15 L392.64,19.73 L393.15,20.33 L393.66,20.94 L394.17,21.57 L394.68,22.21 L395.19,22.86 L395.70,23.53 L396.21,24.20 L396.72,24.88 L397.23,25.58 L397.74,26.28 L398.25,26.99 L398.76,27.71 L399.27,28.43 L399.78,29.16 L400.30,29.90 L400.81,30.64 L401.32,31.39 L401.83,32.14 L402.34,32.89 L402.85,33.65 L403.36,34.41 L403.87,35.18 L404.38,35.94 L404.89,36.71 L405.40,37.48 L405.91,38.24 L406.42,39.01 L406.93,39.78 L407.44,40.55 L407.95,41.32 L408.46,42.09 L408.97,42.86 L409.48,43.62 L409.99,44.38 L410.50,45.14 L411.01,45.90 L411.52,46.65 L412.03,47.40 L412.54,48.14 L413.06,48.88 L413.57,49.61 L414.08,50.34 L414.59,51.06 L415.10,51.78 L415.61,52.49 L416.12,53.19 L416.63,53.89 L417.14,54.58 L417.65,55.27 L418.16,55.94 L418.67,56.61 L419.18,57.28 L419.69,57.93 L420.20,58.58 L420.71,59.22 L421.22,59.85 L421.73,60.47 L422.24,61.09 L422.75,61.70 L423.26,62.29 L423.77,62.88 L424.28,63.47 L424.79,64.04 L425.30,64.60 L425.82,65.16 L426.33,65.71 L426.84,66.24 L427.35,66.77 L427.86,67.29 L428.37,67.81 L428.88,68.31 L429.39,68.80 L429.90,69.29 L430.41,69.77 L430.92,70.24 L431.43,70.70 L431.94,71.15 L432.45,71.59 L432.96,72.02 L433.47,72.45 L433.98,72.87 L434.49,73.27 L435.00,73.67 L435.51,74.07 L436.02,74.45 L436.53,74.83 L437.04,75.19 L437.55,75.55 L438.06,75.91 L438.58,76.25 L439.09,76.59 L439.60,76.92 L440.11,77.24 L440.62,77.55 L441.13,77.86 L441.64,78.16 L442.15,78.45 L442.66,78.73 L443.17,79.01 L443.68,79.29 L444.19,79.55 L444.70,79.81 L445.21,80.06 L445.72,80.31 L446.23,80.55 L446.74,80.78 L447.25,81.01 L447.76,81.23 L448.27,81.45 L448.78,81.66 L449.29,81.86 L449.80,82.06 L450.31,82.25 L450.82,82.44 L451.34,82.63 L451.85,82.80 L452.36,82.98 L452.87,83.15 L453.38,83.31 L453.89,83.47 L454.40,83.63 L454.91,83.78 L455.42,83.92 L455.93,84.07 L456.44,84.20 L456.95,84.34 L457.46,84.47 L457.97,84.60 L458.48,84.72 L458.99,84.84 L459.50,84.95 L460.01,85.07 L460.52,85.18 L461.03,85.28 L461.54,85.39 L462.05,85.49 L462.56,85.58 L463.07,85.68 L463.58,85.77 L464.10,85.86 L464.61,85.94 L465.12,86.03 L465.63,86.11 L466.14,86.18 L466.65,86.26 L467.16,86.33 L467.67,86.41 L468.18,86.48 L468.69,86.54 L469.20,86.61 L469.71,86.67 L470.22,86.73 L470.73,86.79 L471.24,86.85 L471.75,86.91 L472.26,86.96 L472.77,87.02 L473.28,87.07 L473.79,87.12 L474.30,87.17 L474.81,87.21 L475.32,87.26 L475.83,87.30 L476.34,87.35 L476.86,87.39 L477.37,87.43 L477.88,87.47 L478.39,87.51 L478.90,87.55 L479.41,87.58 L479.92,87.62 L480.43,87.65 L480.94,87.69 L481.45,87.72 L481.96,87.75 L482.47,87.78 L482.98,87.81 L483.49,87.84 L484.00,87.87 L484.51,87.90 L485.02,87.93 L485.53,87.96 L486.04,87.98 L486.55,88.01 L487.06,88.03 L487.57,88.06 L488.08,88.08 L488.59,88.11 L489.10,88.13 L489.62,88.15 L490.13,88.18 L490.64,88.20 L491.15,88.22 L491.66,88.24 L492.17,88.26 L492.68,88.28 L493.19,88.30 L493.70,88.32 L494.21,88.34 L494.72,88.36 L495.23,88.38 L495.74,88.40 L496.25,88.42 L496.76,88.44 L497.27,88.46 L497.78,88.47 L498.29,88.49 L498.80,88.51 L499.31,88.53 L499.82,88.54 L500.33,88.56 L500.84,88.58 L501.35,88.59 L501.86,88.61 L502.38,88.63 L502.89,88.64 L503.40,88.66 L503.91,88.67 L504.42,88.69 L504.93,88.70 L505.44,88.72 L505.95,88.74 L506.46,88.75 L506.97,88.77 L507.48,88.78 L507.99,88.80 L508.50,88.81" fill="none" stroke="#bb0000" stroke-width="3.1" stroke-linejoin="round" stroke-linecap="round" />
</g>
<rect x="515.2" y="7.4" width="31.2" height="54.2" fill="#fff" stroke="#222" stroke-width="0.9"/>
<line x1="516.9" y1="13.2" x2="533.9" y2="13.2" stroke="#99ee33" stroke-width="2.1"/>
<line x1="516.9" y1="23.4" x2="533.9" y2="23.4" stroke="#ffe800" stroke-width="2.1"/>
<line x1="516.9" y1="27.1" x2="533.9" y2="27.1" stroke="#55ee99" stroke-width="2.1"/>
<line x1="516.9" y1="33.9" x2="533.9" y2="33.9" stroke="#ff9900" stroke-width="2.1"/>
<line x1="516.9" y1="36.8" x2="533.9" y2="36.8" stroke="#00ddee" stroke-width="2.1"/>
<line x1="516.9" y1="44.4" x2="533.9" y2="44.4" stroke="#ff5500" stroke-width="2.1"/>
<line x1="516.9" y1="47.3" x2="533.9" y2="47.3" stroke="#1ab4f5" stroke-width="2.1"/>
<line x1="516.9" y1="54.7" x2="533.9" y2="54.7" stroke="#bb0000" stroke-width="2.1"/>
<text x="535.00" y="16.80" font-family='"Liberation Serif", serif' font-size="8" fill="#222" text-anchor="start" >40</text>
<text x="535.00" y="28.30" font-family='"Liberation Serif", serif' font-size="8" fill="#222" text-anchor="start" >30</text>
<text x="535.00" y="38.80" font-family='"Liberation Serif", serif' font-size="8" fill="#222" text-anchor="start" >20</text>
<text x="535.00" y="49.50" font-family='"Liberation Serif", serif' font-size="8" fill="#222" text-anchor="start" >10</text>
<text x="535.00" y="59.30" font-family='"Liberation Serif", serif' font-size="8" fill="#222" text-anchor="start" >0</text>
<rect x="43.90" y="209.23" width="6.7" height="6.7" fill="none" stroke="#bb1a1a" stroke-width="1.15"/>
<rect x="216.68" y="199.64" width="6.7" height="6.7" fill="none" stroke="#bb1a1a" stroke-width="1.15"/>
<circle cx="394.00" cy="206.76" r="3.0" fill="none" stroke="#bb1a1a" stroke-width="1.15"/>
<path d="M394.00,339.91 L397.31,345.36 L390.70,345.36Z" fill="none" stroke="#bb1a1a" stroke-width="1.1" stroke-linejoin="miter"/>
<rect x="69.20" y="204.53" width="6.7" height="6.7" fill="none" stroke="#ff5500" stroke-width="1.15"/>
<rect x="242.14" y="207.00" width="6.7" height="6.7" fill="none" stroke="#ff5500" stroke-width="1.15"/>
<circle cx="419.42" cy="173.03" r="3.0" fill="none" stroke="#ff5500" stroke-width="1.15"/>
<path d="M419.42,284.93 L422.72,290.38 L416.12,290.38Z" fill="none" stroke="#ff5500" stroke-width="1.1" stroke-linejoin="miter"/>
<rect x="69.20" y="185.08" width="6.7" height="6.7" fill="none" stroke="#1ab4f5" stroke-width="1.15"/>
<rect x="242.14" y="188.19" width="6.7" height="6.7" fill="none" stroke="#1ab4f5" stroke-width="1.15"/>
<circle cx="419.42" cy="164.32" r="3.0" fill="none" stroke="#1ab4f5" stroke-width="1.15"/>
<path d="M419.42,289.91 L422.72,295.36 L416.12,295.36Z" fill="none" stroke="#1ab4f5" stroke-width="1.1" stroke-linejoin="miter"/>
<rect x="94.50" y="179.75" width="6.7" height="6.7" fill="none" stroke="#ff9900" stroke-width="1.15"/>
<rect x="267.60" y="186.86" width="6.7" height="6.7" fill="none" stroke="#ff9900" stroke-width="1.15"/>
<circle cx="444.83" cy="154.26" r="3.0" fill="none" stroke="#ff9900" stroke-width="1.15"/>
<path d="M444.83,294.35 L448.13,299.80 L441.53,299.80Z" fill="none" stroke="#ff9900" stroke-width="1.1" stroke-linejoin="miter"/>
<rect x="94.50" y="162.18" width="6.7" height="6.7" fill="none" stroke="#00ddee" stroke-width="1.15"/>
<rect x="267.60" y="172.47" width="6.7" height="6.7" fill="none" stroke="#00ddee" stroke-width="1.15"/>
<circle cx="444.83" cy="157.52" r="3.0" fill="none" stroke="#00ddee" stroke-width="1.15"/>
<path d="M444.83,297.31 L448.13,302.76 L441.53,302.76Z" fill="none" stroke="#00ddee" stroke-width="1.1" stroke-linejoin="miter"/>
<rect x="119.80" y="160.62" width="6.7" height="6.7" fill="none" stroke="#55ee99" stroke-width="1.15"/>
<rect x="293.06" y="189.57" width="6.7" height="6.7" fill="none" stroke="#55ee99" stroke-width="1.15"/>
<circle cx="470.24" cy="168.68" r="3.0" fill="none" stroke="#55ee99" stroke-width="1.15"/>
<path d="M470.24,288.30 L473.54,293.75 L466.94,293.75Z" fill="none" stroke="#55ee99" stroke-width="1.1" stroke-linejoin="miter"/>
<rect x="119.80" y="156.54" width="6.7" height="6.7" fill="none" stroke="#ffe800" stroke-width="1.15"/>
<rect x="293.06" y="161.03" width="6.7" height="6.7" fill="none" stroke="#ffe800" stroke-width="1.15"/>
<circle cx="470.24" cy="158.61" r="3.0" fill="none" stroke="#ffe800" stroke-width="1.15"/>
<path d="M470.24,287.62 L473.54,293.07 L466.94,293.07Z" fill="none" stroke="#ffe800" stroke-width="1.1" stroke-linejoin="miter"/>
<rect x="145.10" y="150.89" width="6.7" height="6.7" fill="none" stroke="#99ee33" stroke-width="1.15"/>
<rect x="318.52" y="155.99" width="6.7" height="6.7" fill="none" stroke="#99ee33" stroke-width="1.15"/>
<circle cx="495.65" cy="162.42" r="3.0" fill="none" stroke="#99ee33" stroke-width="1.15"/>
<path d="M495.65,285.07 L498.95,290.52 L492.35,290.52Z" fill="none" stroke="#99ee33" stroke-width="1.1" stroke-linejoin="miter"/>
<clipPath id="ch"><rect x="208.3" y="270.1" width="126.30000000000001" height="93.89999999999998"/></clipPath><g clip-path="url(#ch)">
<path d="M225.14,340.99 L227.25,328.36 L229.35,318.12 L231.46,312.21 L233.56,308.08 L235.67,304.82 L237.77,302.36 L239.88,300.62 L241.98,299.31 L244.09,298.19 L246.19,297.22 L248.30,296.37 L250.40,295.62 L252.50,294.95 L254.61,294.31 L256.72,293.69 L258.82,293.07 L260.93,292.40 L263.03,291.70 L265.13,290.99 L267.24,290.28 L269.35,289.57 L271.45,288.87 L273.56,288.18 L275.66,287.51 L277.76,286.87 L279.87,286.25 L281.98,285.68 L284.08,285.15 L286.19,284.67 L288.29,284.25 L290.40,283.89 L292.50,283.60 L294.61,283.34 L296.71,283.09 L298.82,282.85 L300.92,282.61 L303.02,282.39 L305.13,282.18 L307.24,281.98 L309.34,281.80 L311.45,281.63 L313.55,281.49 L315.66,281.36 L317.76,281.27 L319.87,281.19 L321.97,281.15" fill="none" stroke="#1ab4f5" stroke-width="0.9" stroke-linejoin="round" stroke-linecap="round" />
<path d="M223.69,340.99a1.45,1.45 0 1,0 2.90,0a1.45,1.45 0 1,0 -2.90,0zM225.80,328.36a1.45,1.45 0 1,0 2.90,0a1.45,1.45 0 1,0 -2.90,0zM227.90,318.12a1.45,1.45 0 1,0 2.90,0a1.45,1.45 0 1,0 -2.90,0zM230.01,312.21a1.45,1.45 0 1,0 2.90,0a1.45,1.45 0 1,0 -2.90,0zM232.11,308.08a1.45,1.45 0 1,0 2.90,0a1.45,1.45 0 1,0 -2.90,0zM234.22,304.82a1.45,1.45 0 1,0 2.90,0a1.45,1.45 0 1,0 -2.90,0zM236.32,302.36a1.45,1.45 0 1,0 2.90,0a1.45,1.45 0 1,0 -2.90,0zM238.43,300.62a1.45,1.45 0 1,0 2.90,0a1.45,1.45 0 1,0 -2.90,0zM240.53,299.31a1.45,1.45 0 1,0 2.90,0a1.45,1.45 0 1,0 -2.90,0zM242.64,298.19a1.45,1.45 0 1,0 2.90,0a1.45,1.45 0 1,0 -2.90,0zM244.74,297.22a1.45,1.45 0 1,0 2.90,0a1.45,1.45 0 1,0 -2.90,0zM246.85,296.37a1.45,1.45 0 1,0 2.90,0a1.45,1.45 0 1,0 -2.90,0zM248.95,295.62a1.45,1.45 0 1,0 2.90,0a1.45,1.45 0 1,0 -2.90,0zM251.06,294.95a1.45,1.45 0 1,0 2.90,0a1.45,1.45 0 1,0 -2.90,0zM253.16,294.31a1.45,1.45 0 1,0 2.90,0a1.45,1.45 0 1,0 -2.90,0zM255.27,293.69a1.45,1.45 0 1,0 2.90,0a1.45,1.45 0 1,0 -2.90,0zM257.37,293.07a1.45,1.45 0 1,0 2.90,0a1.45,1.45 0 1,0 -2.90,0zM259.48,292.40a1.45,1.45 0 1,0 2.90,0a1.45,1.45 0 1,0 -2.90,0zM261.58,291.70a1.45,1.45 0 1,0 2.90,0a1.45,1.45 0 1,0 -2.90,0zM263.69,290.99a1.45,1.45 0 1,0 2.90,0a1.45,1.45 0 1,0 -2.90,0zM265.79,290.28a1.45,1.45 0 1,0 2.90,0a1.45,1.45 0 1,0 -2.90,0zM267.90,289.57a1.45,1.45 0 1,0 2.90,0a1.45,1.45 0 1,0 -2.90,0zM270.00,288.87a1.45,1.45 0 1,0 2.90,0a1.45,1.45 0 1,0 -2.90,0zM272.11,288.18a1.45,1.45 0 1,0 2.90,0a1.45,1.45 0 1,0 -2.90,0zM274.21,287.51a1.45,1.45 0 1,0 2.90,0a1.45,1.45 0 1,0 -2.90,0zM276.31,286.87a1.45,1.45 0 1,0 2.90,0a1.45,1.45 0 1,0 -2.90,0zM278.42,286.25a1.45,1.45 0 1,0 2.90,0a1.45,1.45 0 1,0 -2.90,0zM280.53,285.68a1.45,1.45 0 1,0 2.90,0a1.45,1.45 0 1,0 -2.90,0zM282.63,285.15a1.45,1.45 0 1,0 2.90,0a1.45,1.45 0 1,0 -2.90,0zM284.74,284.67a1.45,1.45 0 1,0 2.90,0a1.45,1.45 0 1,0 -2.90,0zM286.84,284.25a1.45,1.45 0 1,0 2.90,0a1.45,1.45 0 1,0 -2.90,0zM288.95,283.89a1.45,1.45 0 1,0 2.90,0a1.45,1.45 0 1,0 -2.90,0zM291.05,283.60a1.45,1.45 0 1,0 2.90,0a1.45,1.45 0 1,0 -2.90,0zM293.16,283.34a1.45,1.45 0 1,0 2.90,0a1.45,1.45 0 1,0 -2.90,0zM295.26,283.09a1.45,1.45 0 1,0 2.90,0a1.45,1.45 0 1,0 -2.90,0zM297.37,282.85a1.45,1.45 0 1,0 2.90,0a1.45,1.45 0 1,0 -2.90,0zM299.47,282.61a1.45,1.45 0 1,0 2.90,0a1.45,1.45 0 1,0 -2.90,0zM301.57,282.39a1.45,1.45 0 1,0 2.90,0a1.45,1.45 0 1,0 -2.90,0zM303.68,282.18a1.45,1.45 0 1,0 2.90,0a1.45,1.45 0 1,0 -2.90,0zM305.79,281.98a1.45,1.45 0 1,0 2.90,0a1.45,1.45 0 1,0 -2.90,0zM307.89,281.80a1.45,1.45 0 1,0 2.90,0a1.45,1.45 0 1,0 -2.90,0zM310.00,281.63a1.45,1.45 0 1,0 2.90,0a1.45,1.45 0 1,0 -2.90,0zM312.10,281.49a1.45,1.45 0 1,0 2.90,0a1.45,1.45 0 1,0 -2.90,0zM314.21,281.36a1.45,1.45 0 1,0 2.90,0a1.45,1.45 0 1,0 -2.90,0zM316.31,281.27a1.45,1.45 0 1,0 2.90,0a1.45,1.45 0 1,0 -2.90,0zM318.42,281.19a1.45,1.45 0 1,0 2.90,0a1.45,1.45 0 1,0 -2.90,0zM320.52,281.15a1.45,1.45 0 1,0 2.90,0a1.45,1.45 0 1,0 -2.90,0z" fill="#1ab4f5"/>
<path d="M225.14,334.77 L227.25,321.75 L229.35,315.18 L231.46,310.31 L233.56,306.74 L235.67,304.04 L237.77,301.88 L239.88,300.09 L241.98,298.55 L244.09,297.10 L246.19,295.66 L248.30,294.30 L250.40,293.09 L252.50,292.09 L254.61,291.34 L256.72,290.65 L258.82,289.98 L260.93,289.37 L263.03,288.82 L265.13,288.36 L267.24,288.01 L269.35,287.79 L271.45,287.71 L273.56,287.77 L275.66,287.96 L277.76,288.25 L279.87,288.61 L281.98,289.02 L284.08,289.46 L286.19,289.90 L288.29,290.32 L290.40,290.70 L292.50,291.01 L294.61,291.23 L296.71,291.39 L298.82,291.56 L300.92,291.71 L303.02,291.87 L305.13,292.02 L307.24,292.15 L309.34,292.28 L311.45,292.40 L313.55,292.50 L315.66,292.59 L317.76,292.66 L319.87,292.71 L321.97,292.74" fill="none" stroke="#00ddee" stroke-width="0.9" stroke-linejoin="round" stroke-linecap="round" />
<path d="M223.69,334.77a1.45,1.45 0 1,0 2.90,0a1.45,1.45 0 1,0 -2.90,0zM225.80,321.75a1.45,1.45 0 1,0 2.90,0a1.45,1.45 0 1,0 -2.90,0zM227.90,315.18a1.45,1.45 0 1,0 2.90,0a1.45,1.45 0 1,0 -2.90,0zM230.01,310.31a1.45,1.45 0 1,0 2.90,0a1.45,1.45 0 1,0 -2.90,0zM232.11,306.74a1.45,1.45 0 1,0 2.90,0a1.45,1.45 0 1,0 -2.90,0zM234.22,304.04a1.45,1.45 0 1,0 2.90,0a1.45,1.45 0 1,0 -2.90,0zM236.32,301.88a1.45,1.45 0 1,0 2.90,0a1.45,1.45 0 1,0 -2.90,0zM238.43,300.09a1.45,1.45 0 1,0 2.90,0a1.45,1.45 0 1,0 -2.90,0zM240.53,298.55a1.45,1.45 0 1,0 2.90,0a1.45,1.45 0 1,0 -2.90,0zM242.64,297.10a1.45,1.45 0 1,0 2.90,0a1.45,1.45 0 1,0 -2.90,0zM244.74,295.66a1.45,1.45 0 1,0 2.90,0a1.45,1.45 0 1,0 -2.90,0zM246.85,294.30a1.45,1.45 0 1,0 2.90,0a1.45,1.45 0 1,0 -2.90,0zM248.95,293.09a1.45,1.45 0 1,0 2.90,0a1.45,1.45 0 1,0 -2.90,0zM251.06,292.09a1.45,1.45 0 1,0 2.90,0a1.45,1.45 0 1,0 -2.90,0zM253.16,291.34a1.45,1.45 0 1,0 2.90,0a1.45,1.45 0 1,0 -2.90,0zM255.27,290.65a1.45,1.45 0 1,0 2.90,0a1.45,1.45 0 1,0 -2.90,0zM257.37,289.98a1.45,1.45 0 1,0 2.90,0a1.45,1.45 0 1,0 -2.90,0zM259.48,289.37a1.45,1.45 0 1,0 2.90,0a1.45,1.45 0 1,0 -2.90,0zM261.58,288.82a1.45,1.45 0 1,0 2.90,0a1.45,1.45 0 1,0 -2.90,0zM263.69,288.36a1.45,1.45 0 1,0 2.90,0a1.45,1.45 0 1,0 -2.90,0zM265.79,288.01a1.45,1.45 0 1,0 2.90,0a1.45,1.45 0 1,0 -2.90,0zM267.90,287.79a1.45,1.45 0 1,0 2.90,0a1.45,1.45 0 1,0 -2.90,0zM270.00,287.71a1.45,1.45 0 1,0 2.90,0a1.45,1.45 0 1,0 -2.90,0zM272.11,287.77a1.45,1.45 0 1,0 2.90,0a1.45,1.45 0 1,0 -2.90,0zM274.21,287.96a1.45,1.45 0 1,0 2.90,0a1.45,1.45 0 1,0 -2.90,0zM276.31,288.25a1.45,1.45 0 1,0 2.90,0a1.45,1.45 0 1,0 -2.90,0zM278.42,288.61a1.45,1.45 0 1,0 2.90,0a1.45,1.45 0 1,0 -2.90,0zM280.53,289.02a1.45,1.45 0 1,0 2.90,0a1.45,1.45 0 1,0 -2.90,0zM282.63,289.46a1.45,1.45 0 1,0 2.90,0a1.45,1.45 0 1,0 -2.90,0zM284.74,289.90a1.45,1.45 0 1,0 2.90,0a1.45,1.45 0 1,0 -2.90,0zM286.84,290.32a1.45,1.45 0 1,0 2.90,0a1.45,1.45 0 1,0 -2.90,0zM288.95,290.70a1.45,1.45 0 1,0 2.90,0a1.45,1.45 0 1,0 -2.90,0zM291.05,291.01a1.45,1.45 0 1,0 2.90,0a1.45,1.45 0 1,0 -2.90,0zM293.16,291.23a1.45,1.45 0 1,0 2.90,0a1.45,1.45 0 1,0 -2.90,0zM295.26,291.39a1.45,1.45 0 1,0 2.90,0a1.45,1.45 0 1,0 -2.90,0zM297.37,291.56a1.45,1.45 0 1,0 2.90,0a1.45,1.45 0 1,0 -2.90,0zM299.47,291.71a1.45,1.45 0 1,0 2.90,0a1.45,1.45 0 1,0 -2.90,0zM301.57,291.87a1.45,1.45 0 1,0 2.90,0a1.45,1.45 0 1,0 -2.90,0zM303.68,292.02a1.45,1.45 0 1,0 2.90,0a1.45,1.45 0 1,0 -2.90,0zM305.79,292.15a1.45,1.45 0 1,0 2.90,0a1.45,1.45 0 1,0 -2.90,0zM307.89,292.28a1.45,1.45 0 1,0 2.90,0a1.45,1.45 0 1,0 -2.90,0zM310.00,292.40a1.45,1.45 0 1,0 2.90,0a1.45,1.45 0 1,0 -2.90,0zM312.10,292.50a1.45,1.45 0 1,0 2.90,0a1.45,1.45 0 1,0 -2.90,0zM314.21,292.59a1.45,1.45 0 1,0 2.90,0a1.45,1.45 0 1,0 -2.90,0zM316.31,292.66a1.45,1.45 0 1,0 2.90,0a1.45,1.45 0 1,0 -2.90,0zM318.42,292.71a1.45,1.45 0 1,0 2.90,0a1.45,1.45 0 1,0 -2.90,0zM320.52,292.74a1.45,1.45 0 1,0 2.90,0a1.45,1.45 0 1,0 -2.90,0z" fill="#00ddee"/>
<path d="M225.14,312.94 L227.25,310.06 L229.35,307.40 L231.46,305.10 L233.56,303.18 L235.67,301.44 L237.77,299.86 L239.88,298.42 L241.98,297.12 L244.09,295.92 L246.19,294.82 L248.30,293.80 L250.40,292.86 L252.50,291.99 L254.61,291.19 L256.72,290.46 L258.82,289.71 L260.93,288.94 L263.03,288.20 L265.13,287.55 L267.24,287.02 L269.35,286.66 L271.45,286.53 L273.56,286.54 L275.66,286.56 L277.76,286.59 L279.87,286.63 L281.98,286.68 L284.08,286.74 L286.19,286.81 L288.29,286.88 L290.40,286.96 L292.50,287.04 L294.61,287.12 L296.71,287.21 L298.82,287.33 L300.92,287.47 L303.02,287.63 L305.13,287.81 L307.24,288.00 L309.34,288.21 L311.45,288.44 L313.55,288.68 L315.66,288.93 L317.76,289.20 L319.87,289.48 L321.97,289.76" fill="none" stroke="#ff9900" stroke-width="0.9" stroke-linejoin="round" stroke-linecap="round" />
<path d="M223.69,312.94a1.45,1.45 0 1,0 2.90,0a1.45,1.45 0 1,0 -2.90,0zM225.80,310.06a1.45,1.45 0 1,0 2.90,0a1.45,1.45 0 1,0 -2.90,0zM227.90,307.40a1.45,1.45 0 1,0 2.90,0a1.45,1.45 0 1,0 -2.90,0zM230.01,305.10a1.45,1.45 0 1,0 2.90,0a1.45,1.45 0 1,0 -2.90,0zM232.11,303.18a1.45,1.45 0 1,0 2.90,0a1.45,1.45 0 1,0 -2.90,0zM234.22,301.44a1.45,1.45 0 1,0 2.90,0a1.45,1.45 0 1,0 -2.90,0zM236.32,299.86a1.45,1.45 0 1,0 2.90,0a1.45,1.45 0 1,0 -2.90,0zM238.43,298.42a1.45,1.45 0 1,0 2.90,0a1.45,1.45 0 1,0 -2.90,0zM240.53,297.12a1.45,1.45 0 1,0 2.90,0a1.45,1.45 0 1,0 -2.90,0zM242.64,295.92a1.45,1.45 0 1,0 2.90,0a1.45,1.45 0 1,0 -2.90,0zM244.74,294.82a1.45,1.45 0 1,0 2.90,0a1.45,1.45 0 1,0 -2.90,0zM246.85,293.80a1.45,1.45 0 1,0 2.90,0a1.45,1.45 0 1,0 -2.90,0zM248.95,292.86a1.45,1.45 0 1,0 2.90,0a1.45,1.45 0 1,0 -2.90,0zM251.06,291.99a1.45,1.45 0 1,0 2.90,0a1.45,1.45 0 1,0 -2.90,0zM253.16,291.19a1.45,1.45 0 1,0 2.90,0a1.45,1.45 0 1,0 -2.90,0zM255.27,290.46a1.45,1.45 0 1,0 2.90,0a1.45,1.45 0 1,0 -2.90,0zM257.37,289.71a1.45,1.45 0 1,0 2.90,0a1.45,1.45 0 1,0 -2.90,0zM259.48,288.94a1.45,1.45 0 1,0 2.90,0a1.45,1.45 0 1,0 -2.90,0zM261.58,288.20a1.45,1.45 0 1,0 2.90,0a1.45,1.45 0 1,0 -2.90,0zM263.69,287.55a1.45,1.45 0 1,0 2.90,0a1.45,1.45 0 1,0 -2.90,0zM265.79,287.02a1.45,1.45 0 1,0 2.90,0a1.45,1.45 0 1,0 -2.90,0zM267.90,286.66a1.45,1.45 0 1,0 2.90,0a1.45,1.45 0 1,0 -2.90,0zM270.00,286.53a1.45,1.45 0 1,0 2.90,0a1.45,1.45 0 1,0 -2.90,0zM272.11,286.54a1.45,1.45 0 1,0 2.90,0a1.45,1.45 0 1,0 -2.90,0zM274.21,286.56a1.45,1.45 0 1,0 2.90,0a1.45,1.45 0 1,0 -2.90,0zM276.31,286.59a1.45,1.45 0 1,0 2.90,0a1.45,1.45 0 1,0 -2.90,0zM278.42,286.63a1.45,1.45 0 1,0 2.90,0a1.45,1.45 0 1,0 -2.90,0zM280.53,286.68a1.45,1.45 0 1,0 2.90,0a1.45,1.45 0 1,0 -2.90,0zM282.63,286.74a1.45,1.45 0 1,0 2.90,0a1.45,1.45 0 1,0 -2.90,0zM284.74,286.81a1.45,1.45 0 1,0 2.90,0a1.45,1.45 0 1,0 -2.90,0zM286.84,286.88a1.45,1.45 0 1,0 2.90,0a1.45,1.45 0 1,0 -2.90,0zM288.95,286.96a1.45,1.45 0 1,0 2.90,0a1.45,1.45 0 1,0 -2.90,0zM291.05,287.04a1.45,1.45 0 1,0 2.90,0a1.45,1.45 0 1,0 -2.90,0zM293.16,287.12a1.45,1.45 0 1,0 2.90,0a1.45,1.45 0 1,0 -2.90,0zM295.26,287.21a1.45,1.45 0 1,0 2.90,0a1.45,1.45 0 1,0 -2.90,0zM297.37,287.33a1.45,1.45 0 1,0 2.90,0a1.45,1.45 0 1,0 -2.90,0zM299.47,287.47a1.45,1.45 0 1,0 2.90,0a1.45,1.45 0 1,0 -2.90,0zM301.57,287.63a1.45,1.45 0 1,0 2.90,0a1.45,1.45 0 1,0 -2.90,0zM303.68,287.81a1.45,1.45 0 1,0 2.90,0a1.45,1.45 0 1,0 -2.90,0zM305.79,288.00a1.45,1.45 0 1,0 2.90,0a1.45,1.45 0 1,0 -2.90,0zM307.89,288.21a1.45,1.45 0 1,0 2.90,0a1.45,1.45 0 1,0 -2.90,0zM310.00,288.44a1.45,1.45 0 1,0 2.90,0a1.45,1.45 0 1,0 -2.90,0zM312.10,288.68a1.45,1.45 0 1,0 2.90,0a1.45,1.45 0 1,0 -2.90,0zM314.21,288.93a1.45,1.45 0 1,0 2.90,0a1.45,1.45 0 1,0 -2.90,0zM316.31,289.20a1.45,1.45 0 1,0 2.90,0a1.45,1.45 0 1,0 -2.90,0zM318.42,289.48a1.45,1.45 0 1,0 2.90,0a1.45,1.45 0 1,0 -2.90,0zM320.52,289.76a1.45,1.45 0 1,0 2.90,0a1.45,1.45 0 1,0 -2.90,0z" fill="#ff9900"/>
<path d="M225.14,318.11 L227.25,312.56 L229.35,307.61 L231.46,303.80 L233.56,301.31 L235.67,299.29 L237.77,297.60 L239.88,296.14 L241.98,294.83 L244.09,293.57 L246.19,292.37 L248.30,291.25 L250.40,290.22 L252.50,289.26 L254.61,288.36 L256.72,287.49 L258.82,286.63 L260.93,285.77 L263.03,284.95 L265.13,284.18 L267.24,283.49 L269.35,282.90 L271.45,282.42 L273.56,282.03 L275.66,281.65 L277.76,281.29 L279.87,280.96 L281.98,280.65 L284.08,280.37 L286.19,280.12 L288.29,279.90 L290.40,279.73 L292.50,279.59 L294.61,279.49 L296.71,279.42 L298.82,279.35 L300.92,279.28 L303.02,279.22 L305.13,279.16 L307.24,279.11 L309.34,279.07 L311.45,279.02 L313.55,278.99 L315.66,278.96 L317.76,278.93 L319.87,278.92 L321.97,278.91" fill="none" stroke="#55ee99" stroke-width="0.9" stroke-linejoin="round" stroke-linecap="round" />
<path d="M223.69,318.11a1.45,1.45 0 1,0 2.90,0a1.45,1.45 0 1,0 -2.90,0zM225.80,312.56a1.45,1.45 0 1,0 2.90,0a1.45,1.45 0 1,0 -2.90,0zM227.90,307.61a1.45,1.45 0 1,0 2.90,0a1.45,1.45 0 1,0 -2.90,0zM230.01,303.80a1.45,1.45 0 1,0 2.90,0a1.45,1.45 0 1,0 -2.90,0zM232.11,301.31a1.45,1.45 0 1,0 2.90,0a1.45,1.45 0 1,0 -2.90,0zM234.22,299.29a1.45,1.45 0 1,0 2.90,0a1.45,1.45 0 1,0 -2.90,0zM236.32,297.60a1.45,1.45 0 1,0 2.90,0a1.45,1.45 0 1,0 -2.90,0zM238.43,296.14a1.45,1.45 0 1,0 2.90,0a1.45,1.45 0 1,0 -2.90,0zM240.53,294.83a1.45,1.45 0 1,0 2.90,0a1.45,1.45 0 1,0 -2.90,0zM242.64,293.57a1.45,1.45 0 1,0 2.90,0a1.45,1.45 0 1,0 -2.90,0zM244.74,292.37a1.45,1.45 0 1,0 2.90,0a1.45,1.45 0 1,0 -2.90,0zM246.85,291.25a1.45,1.45 0 1,0 2.90,0a1.45,1.45 0 1,0 -2.90,0zM248.95,290.22a1.45,1.45 0 1,0 2.90,0a1.45,1.45 0 1,0 -2.90,0zM251.06,289.26a1.45,1.45 0 1,0 2.90,0a1.45,1.45 0 1,0 -2.90,0zM253.16,288.36a1.45,1.45 0 1,0 2.90,0a1.45,1.45 0 1,0 -2.90,0zM255.27,287.49a1.45,1.45 0 1,0 2.90,0a1.45,1.45 0 1,0 -2.90,0zM257.37,286.63a1.45,1.45 0 1,0 2.90,0a1.45,1.45 0 1,0 -2.90,0zM259.48,285.77a1.45,1.45 0 1,0 2.90,0a1.45,1.45 0 1,0 -2.90,0zM261.58,284.95a1.45,1.45 0 1,0 2.90,0a1.45,1.45 0 1,0 -2.90,0zM263.69,284.18a1.45,1.45 0 1,0 2.90,0a1.45,1.45 0 1,0 -2.90,0zM265.79,283.49a1.45,1.45 0 1,0 2.90,0a1.45,1.45 0 1,0 -2.90,0zM267.90,282.90a1.45,1.45 0 1,0 2.90,0a1.45,1.45 0 1,0 -2.90,0zM270.00,282.42a1.45,1.45 0 1,0 2.90,0a1.45,1.45 0 1,0 -2.90,0zM272.11,282.03a1.45,1.45 0 1,0 2.90,0a1.45,1.45 0 1,0 -2.90,0zM274.21,281.65a1.45,1.45 0 1,0 2.90,0a1.45,1.45 0 1,0 -2.90,0zM276.31,281.29a1.45,1.45 0 1,0 2.90,0a1.45,1.45 0 1,0 -2.90,0zM278.42,280.96a1.45,1.45 0 1,0 2.90,0a1.45,1.45 0 1,0 -2.90,0zM280.53,280.65a1.45,1.45 0 1,0 2.90,0a1.45,1.45 0 1,0 -2.90,0zM282.63,280.37a1.45,1.45 0 1,0 2.90,0a1.45,1.45 0 1,0 -2.90,0zM284.74,280.12a1.45,1.45 0 1,0 2.90,0a1.45,1.45 0 1,0 -2.90,0zM286.84,279.90a1.45,1.45 0 1,0 2.90,0a1.45,1.45 0 1,0 -2.90,0zM288.95,279.73a1.45,1.45 0 1,0 2.90,0a1.45,1.45 0 1,0 -2.90,0zM291.05,279.59a1.45,1.45 0 1,0 2.90,0a1.45,1.45 0 1,0 -2.90,0zM293.16,279.49a1.45,1.45 0 1,0 2.90,0a1.45,1.45 0 1,0 -2.90,0zM295.26,279.42a1.45,1.45 0 1,0 2.90,0a1.45,1.45 0 1,0 -2.90,0zM297.37,279.35a1.45,1.45 0 1,0 2.90,0a1.45,1.45 0 1,0 -2.90,0zM299.47,279.28a1.45,1.45 0 1,0 2.90,0a1.45,1.45 0 1,0 -2.90,0zM301.57,279.22a1.45,1.45 0 1,0 2.90,0a1.45,1.45 0 1,0 -2.90,0zM303.68,279.16a1.45,1.45 0 1,0 2.90,0a1.45,1.45 0 1,0 -2.90,0zM305.79,279.11a1.45,1.45 0 1,0 2.90,0a1.45,1.45 0 1,0 -2.90,0zM307.89,279.07a1.45,1.45 0 1,0 2.90,0a1.45,1.45 0 1,0 -2.90,0zM310.00,279.02a1.45,1.45 0 1,0 2.90,0a1.45,1.45 0 1,0 -2.90,0zM312.10,278.99a1.45,1.45 0 1,0 2.90,0a1.45,1.45 0 1,0 -2.90,0zM314.21,278.96a1.45,1.45 0 1,0 2.90,0a1.45,1.45 0 1,0 -2.90,0zM316.31,278.93a1.45,1.45 0 1,0 2.90,0a1.45,1.45 0 1,0 -2.90,0zM318.42,278.92a1.45,1.45 0 1,0 2.90,0a1.45,1.45 0 1,0 -2.90,0zM320.52,278.91a1.45,1.45 0 1,0 2.90,0a1.45,1.45 0 1,0 -2.90,0z" fill="#55ee99"/>
<path d="M225.14,314.70 L227.25,309.02 L229.35,303.99 L231.46,300.23 L233.56,297.95 L235.67,296.18 L237.77,294.74 L239.88,293.51 L241.98,292.38 L244.09,291.23 L246.19,290.05 L248.30,288.91 L250.40,287.83 L252.50,286.84 L254.61,285.95 L256.72,285.18 L258.82,284.46 L260.93,283.78 L263.03,283.15 L265.13,282.57 L267.24,282.06 L269.35,281.61 L271.45,281.25 L273.56,280.94 L275.66,280.65 L277.76,280.37 L279.87,280.11 L281.98,279.88 L284.08,279.66 L286.19,279.47 L288.29,279.29 L290.40,279.14 L292.50,279.01 L294.61,278.90 L296.71,278.81 L298.82,278.72 L300.92,278.63 L303.02,278.55 L305.13,278.47 L307.24,278.40 L309.34,278.33 L311.45,278.27 L313.55,278.21 L315.66,278.17 L317.76,278.13 L319.87,278.10 L321.97,278.09" fill="none" stroke="#99ee33" stroke-width="0.9" stroke-linejoin="round" stroke-linecap="round" />
<path d="M223.69,314.70a1.45,1.45 0 1,0 2.90,0a1.45,1.45 0 1,0 -2.90,0zM225.80,309.02a1.45,1.45 0 1,0 2.90,0a1.45,1.45 0 1,0 -2.90,0zM227.90,303.99a1.45,1.45 0 1,0 2.90,0a1.45,1.45 0 1,0 -2.90,0zM230.01,300.23a1.45,1.45 0 1,0 2.90,0a1.45,1.45 0 1,0 -2.90,0zM232.11,297.95a1.45,1.45 0 1,0 2.90,0a1.45,1.45 0 1,0 -2.90,0zM234.22,296.18a1.45,1.45 0 1,0 2.90,0a1.45,1.45 0 1,0 -2.90,0zM236.32,294.74a1.45,1.45 0 1,0 2.90,0a1.45,1.45 0 1,0 -2.90,0zM238.43,293.51a1.45,1.45 0 1,0 2.90,0a1.45,1.45 0 1,0 -2.90,0zM240.53,292.38a1.45,1.45 0 1,0 2.90,0a1.45,1.45 0 1,0 -2.90,0zM242.64,291.23a1.45,1.45 0 1,0 2.90,0a1.45,1.45 0 1,0 -2.90,0zM244.74,290.05a1.45,1.45 0 1,0 2.90,0a1.45,1.45 0 1,0 -2.90,0zM246.85,288.91a1.45,1.45 0 1,0 2.90,0a1.45,1.45 0 1,0 -2.90,0zM248.95,287.83a1.45,1.45 0 1,0 2.90,0a1.45,1.45 0 1,0 -2.90,0zM251.06,286.84a1.45,1.45 0 1,0 2.90,0a1.45,1.45 0 1,0 -2.90,0zM253.16,285.95a1.45,1.45 0 1,0 2.90,0a1.45,1.45 0 1,0 -2.90,0zM255.27,285.18a1.45,1.45 0 1,0 2.90,0a1.45,1.45 0 1,0 -2.90,0zM257.37,284.46a1.45,1.45 0 1,0 2.90,0a1.45,1.45 0 1,0 -2.90,0zM259.48,283.78a1.45,1.45 0 1,0 2.90,0a1.45,1.45 0 1,0 -2.90,0zM261.58,283.15a1.45,1.45 0 1,0 2.90,0a1.45,1.45 0 1,0 -2.90,0zM263.69,282.57a1.45,1.45 0 1,0 2.90,0a1.45,1.45 0 1,0 -2.90,0zM265.79,282.06a1.45,1.45 0 1,0 2.90,0a1.45,1.45 0 1,0 -2.90,0zM267.90,281.61a1.45,1.45 0 1,0 2.90,0a1.45,1.45 0 1,0 -2.90,0zM270.00,281.25a1.45,1.45 0 1,0 2.90,0a1.45,1.45 0 1,0 -2.90,0zM272.11,280.94a1.45,1.45 0 1,0 2.90,0a1.45,1.45 0 1,0 -2.90,0zM274.21,280.65a1.45,1.45 0 1,0 2.90,0a1.45,1.45 0 1,0 -2.90,0zM276.31,280.37a1.45,1.45 0 1,0 2.90,0a1.45,1.45 0 1,0 -2.90,0zM278.42,280.11a1.45,1.45 0 1,0 2.90,0a1.45,1.45 0 1,0 -2.90,0zM280.53,279.88a1.45,1.45 0 1,0 2.90,0a1.45,1.45 0 1,0 -2.90,0zM282.63,279.66a1.45,1.45 0 1,0 2.90,0a1.45,1.45 0 1,0 -2.90,0zM284.74,279.47a1.45,1.45 0 1,0 2.90,0a1.45,1.45 0 1,0 -2.90,0zM286.84,279.29a1.45,1.45 0 1,0 2.90,0a1.45,1.45 0 1,0 -2.90,0zM288.95,279.14a1.45,1.45 0 1,0 2.90,0a1.45,1.45 0 1,0 -2.90,0zM291.05,279.01a1.45,1.45 0 1,0 2.90,0a1.45,1.45 0 1,0 -2.90,0zM293.16,278.90a1.45,1.45 0 1,0 2.90,0a1.45,1.45 0 1,0 -2.90,0zM295.26,278.81a1.45,1.45 0 1,0 2.90,0a1.45,1.45 0 1,0 -2.90,0zM297.37,278.72a1.45,1.45 0 1,0 2.90,0a1.45,1.45 0 1,0 -2.90,0zM299.47,278.63a1.45,1.45 0 1,0 2.90,0a1.45,1.45 0 1,0 -2.90,0zM301.57,278.55a1.45,1.45 0 1,0 2.90,0a1.45,1.45 0 1,0 -2.90,0zM303.68,278.47a1.45,1.45 0 1,0 2.90,0a1.45,1.45 0 1,0 -2.90,0zM305.79,278.40a1.45,1.45 0 1,0 2.90,0a1.45,1.45 0 1,0 -2.90,0zM307.89,278.33a1.45,1.45 0 1,0 2.90,0a1.45,1.45 0 1,0 -2.90,0zM310.00,278.27a1.45,1.45 0 1,0 2.90,0a1.45,1.45 0 1,0 -2.90,0zM312.10,278.21a1.45,1.45 0 1,0 2.90,0a1.45,1.45 0 1,0 -2.90,0zM314.21,278.17a1.45,1.45 0 1,0 2.90,0a1.45,1.45 0 1,0 -2.90,0zM316.31,278.13a1.45,1.45 0 1,0 2.90,0a1.45,1.45 0 1,0 -2.90,0zM318.42,278.10a1.45,1.45 0 1,0 2.90,0a1.45,1.45 0 1,0 -2.90,0zM320.52,278.09a1.45,1.45 0 1,0 2.90,0a1.45,1.45 0 1,0 -2.90,0z" fill="#99ee33"/>
<path d="M225.14,307.78 L227.25,303.35 L229.35,299.43 L231.46,296.52 L233.56,294.78 L235.67,293.41 L237.77,292.28 L239.88,291.34 L241.98,290.50 L244.09,289.70 L246.19,288.94 L248.30,288.24 L250.40,287.60 L252.50,287.00 L254.61,286.45 L256.72,285.94 L258.82,285.42 L260.93,284.90 L263.03,284.41 L265.13,283.96 L267.24,283.56 L269.35,283.24 L271.45,283.01 L273.56,282.84 L275.66,282.67 L277.76,282.52 L279.87,282.37 L281.98,282.24 L284.08,282.12 L286.19,282.03 L288.29,281.95 L290.40,281.89 L292.50,281.85 L294.61,281.84 L296.71,281.85 L298.82,281.91 L300.92,281.99 L303.02,282.10 L305.13,282.25 L307.24,282.42 L309.34,282.63 L311.45,282.86 L313.55,283.12 L315.66,283.40 L317.76,283.71 L319.87,284.04 L321.97,284.40" fill="none" stroke="#ffe800" stroke-width="0.9" stroke-linejoin="round" stroke-linecap="round" />
<path d="M223.69,307.78a1.45,1.45 0 1,0 2.90,0a1.45,1.45 0 1,0 -2.90,0zM225.80,303.35a1.45,1.45 0 1,0 2.90,0a1.45,1.45 0 1,0 -2.90,0zM227.90,299.43a1.45,1.45 0 1,0 2.90,0a1.45,1.45 0 1,0 -2.90,0zM230.01,296.52a1.45,1.45 0 1,0 2.90,0a1.45,1.45 0 1,0 -2.90,0zM232.11,294.78a1.45,1.45 0 1,0 2.90,0a1.45,1.45 0 1,0 -2.90,0zM234.22,293.41a1.45,1.45 0 1,0 2.90,0a1.45,1.45 0 1,0 -2.90,0zM236.32,292.28a1.45,1.45 0 1,0 2.90,0a1.45,1.45 0 1,0 -2.90,0zM238.43,291.34a1.45,1.45 0 1,0 2.90,0a1.45,1.45 0 1,0 -2.90,0zM240.53,290.50a1.45,1.45 0 1,0 2.90,0a1.45,1.45 0 1,0 -2.90,0zM242.64,289.70a1.45,1.45 0 1,0 2.90,0a1.45,1.45 0 1,0 -2.90,0zM244.74,288.94a1.45,1.45 0 1,0 2.90,0a1.45,1.45 0 1,0 -2.90,0zM246.85,288.24a1.45,1.45 0 1,0 2.90,0a1.45,1.45 0 1,0 -2.90,0zM248.95,287.60a1.45,1.45 0 1,0 2.90,0a1.45,1.45 0 1,0 -2.90,0zM251.06,287.00a1.45,1.45 0 1,0 2.90,0a1.45,1.45 0 1,0 -2.90,0zM253.16,286.45a1.45,1.45 0 1,0 2.90,0a1.45,1.45 0 1,0 -2.90,0zM255.27,285.94a1.45,1.45 0 1,0 2.90,0a1.45,1.45 0 1,0 -2.90,0zM257.37,285.42a1.45,1.45 0 1,0 2.90,0a1.45,1.45 0 1,0 -2.90,0zM259.48,284.90a1.45,1.45 0 1,0 2.90,0a1.45,1.45 0 1,0 -2.90,0zM261.58,284.41a1.45,1.45 0 1,0 2.90,0a1.45,1.45 0 1,0 -2.90,0zM263.69,283.96a1.45,1.45 0 1,0 2.90,0a1.45,1.45 0 1,0 -2.90,0zM265.79,283.56a1.45,1.45 0 1,0 2.90,0a1.45,1.45 0 1,0 -2.90,0zM267.90,283.24a1.45,1.45 0 1,0 2.90,0a1.45,1.45 0 1,0 -2.90,0zM270.00,283.01a1.45,1.45 0 1,0 2.90,0a1.45,1.45 0 1,0 -2.90,0zM272.11,282.84a1.45,1.45 0 1,0 2.90,0a1.45,1.45 0 1,0 -2.90,0zM274.21,282.67a1.45,1.45 0 1,0 2.90,0a1.45,1.45 0 1,0 -2.90,0zM276.31,282.52a1.45,1.45 0 1,0 2.90,0a1.45,1.45 0 1,0 -2.90,0zM278.42,282.37a1.45,1.45 0 1,0 2.90,0a1.45,1.45 0 1,0 -2.90,0zM280.53,282.24a1.45,1.45 0 1,0 2.90,0a1.45,1.45 0 1,0 -2.90,0zM282.63,282.12a1.45,1.45 0 1,0 2.90,0a1.45,1.45 0 1,0 -2.90,0zM284.74,282.03a1.45,1.45 0 1,0 2.90,0a1.45,1.45 0 1,0 -2.90,0zM286.84,281.95a1.45,1.45 0 1,0 2.90,0a1.45,1.45 0 1,0 -2.90,0zM288.95,281.89a1.45,1.45 0 1,0 2.90,0a1.45,1.45 0 1,0 -2.90,0zM291.05,281.85a1.45,1.45 0 1,0 2.90,0a1.45,1.45 0 1,0 -2.90,0zM293.16,281.84a1.45,1.45 0 1,0 2.90,0a1.45,1.45 0 1,0 -2.90,0zM295.26,281.85a1.45,1.45 0 1,0 2.90,0a1.45,1.45 0 1,0 -2.90,0zM297.37,281.91a1.45,1.45 0 1,0 2.90,0a1.45,1.45 0 1,0 -2.90,0zM299.47,281.99a1.45,1.45 0 1,0 2.90,0a1.45,1.45 0 1,0 -2.90,0zM301.57,282.10a1.45,1.45 0 1,0 2.90,0a1.45,1.45 0 1,0 -2.90,0zM303.68,282.25a1.45,1.45 0 1,0 2.90,0a1.45,1.45 0 1,0 -2.90,0zM305.79,282.42a1.45,1.45 0 1,0 2.90,0a1.45,1.45 0 1,0 -2.90,0zM307.89,282.63a1.45,1.45 0 1,0 2.90,0a1.45,1.45 0 1,0 -2.90,0zM310.00,282.86a1.45,1.45 0 1,0 2.90,0a1.45,1.45 0 1,0 -2.90,0zM312.10,283.12a1.45,1.45 0 1,0 2.90,0a1.45,1.45 0 1,0 -2.90,0zM314.21,283.40a1.45,1.45 0 1,0 2.90,0a1.45,1.45 0 1,0 -2.90,0zM316.31,283.71a1.45,1.45 0 1,0 2.90,0a1.45,1.45 0 1,0 -2.90,0zM318.42,284.04a1.45,1.45 0 1,0 2.90,0a1.45,1.45 0 1,0 -2.90,0zM320.52,284.40a1.45,1.45 0 1,0 2.90,0a1.45,1.45 0 1,0 -2.90,0z" fill="#ffe800"/>
<path d="M225.14,297.33 L227.25,294.20 L229.35,291.41 L231.46,289.32 L233.56,288.01 L235.67,286.90 L237.77,285.96 L239.88,285.19 L241.98,284.60 L244.09,284.19 L246.19,283.87 L248.30,283.58 L250.40,283.34 L252.50,283.15 L254.61,283.04 L256.72,283.01 L258.82,283.02 L260.93,283.04 L263.03,283.07 L265.13,283.10 L267.24,283.14 L269.35,283.19 L271.45,283.25 L273.56,283.36 L275.66,283.58 L277.76,283.89 L279.87,284.26 L281.98,284.69 L284.08,285.15 L286.19,285.63 L288.29,286.11 L290.40,286.56 L292.50,286.99 L294.61,287.35 L296.71,287.69 L298.82,288.02 L300.92,288.34 L303.02,288.66 L305.13,288.98 L307.24,289.29 L309.34,289.60 L311.45,289.90 L313.55,290.19 L315.66,290.48 L317.76,290.77 L319.87,291.04 L321.97,291.31" fill="none" stroke="#ff5500" stroke-width="0.9" stroke-linejoin="round" stroke-linecap="round" />
<path d="M223.69,297.33a1.45,1.45 0 1,0 2.90,0a1.45,1.45 0 1,0 -2.90,0zM225.80,294.20a1.45,1.45 0 1,0 2.90,0a1.45,1.45 0 1,0 -2.90,0zM227.90,291.41a1.45,1.45 0 1,0 2.90,0a1.45,1.45 0 1,0 -2.90,0zM230.01,289.32a1.45,1.45 0 1,0 2.90,0a1.45,1.45 0 1,0 -2.90,0zM232.11,288.01a1.45,1.45 0 1,0 2.90,0a1.45,1.45 0 1,0 -2.90,0zM234.22,286.90a1.45,1.45 0 1,0 2.90,0a1.45,1.45 0 1,0 -2.90,0zM236.32,285.96a1.45,1.45 0 1,0 2.90,0a1.45,1.45 0 1,0 -2.90,0zM238.43,285.19a1.45,1.45 0 1,0 2.90,0a1.45,1.45 0 1,0 -2.90,0zM240.53,284.60a1.45,1.45 0 1,0 2.90,0a1.45,1.45 0 1,0 -2.90,0zM242.64,284.19a1.45,1.45 0 1,0 2.90,0a1.45,1.45 0 1,0 -2.90,0zM244.74,283.87a1.45,1.45 0 1,0 2.90,0a1.45,1.45 0 1,0 -2.90,0zM246.85,283.58a1.45,1.45 0 1,0 2.90,0a1.45,1.45 0 1,0 -2.90,0zM248.95,283.34a1.45,1.45 0 1,0 2.90,0a1.45,1.45 0 1,0 -2.90,0zM251.06,283.15a1.45,1.45 0 1,0 2.90,0a1.45,1.45 0 1,0 -2.90,0zM253.16,283.04a1.45,1.45 0 1,0 2.90,0a1.45,1.45 0 1,0 -2.90,0zM255.27,283.01a1.45,1.45 0 1,0 2.90,0a1.45,1.45 0 1,0 -2.90,0zM257.37,283.02a1.45,1.45 0 1,0 2.90,0a1.45,1.45 0 1,0 -2.90,0zM259.48,283.04a1.45,1.45 0 1,0 2.90,0a1.45,1.45 0 1,0 -2.90,0zM261.58,283.07a1.45,1.45 0 1,0 2.90,0a1.45,1.45 0 1,0 -2.90,0zM263.69,283.10a1.45,1.45 0 1,0 2.90,0a1.45,1.45 0 1,0 -2.90,0zM265.79,283.14a1.45,1.45 0 1,0 2.90,0a1.45,1.45 0 1,0 -2.90,0zM267.90,283.19a1.45,1.45 0 1,0 2.90,0a1.45,1.45 0 1,0 -2.90,0zM270.00,283.25a1.45,1.45 0 1,0 2.90,0a1.45,1.45 0 1,0 -2.90,0zM272.11,283.36a1.45,1.45 0 1,0 2.90,0a1.45,1.45 0 1,0 -2.90,0zM274.21,283.58a1.45,1.45 0 1,0 2.90,0a1.45,1.45 0 1,0 -2.90,0zM276.31,283.89a1.45,1.45 0 1,0 2.90,0a1.45,1.45 0 1,0 -2.90,0zM278.42,284.26a1.45,1.45 0 1,0 2.90,0a1.45,1.45 0 1,0 -2.90,0zM280.53,284.69a1.45,1.45 0 1,0 2.90,0a1.45,1.45 0 1,0 -2.90,0zM282.63,285.15a1.45,1.45 0 1,0 2.90,0a1.45,1.45 0 1,0 -2.90,0zM284.74,285.63a1.45,1.45 0 1,0 2.90,0a1.45,1.45 0 1,0 -2.90,0zM286.84,286.11a1.45,1.45 0 1,0 2.90,0a1.45,1.45 0 1,0 -2.90,0zM288.95,286.56a1.45,1.45 0 1,0 2.90,0a1.45,1.45 0 1,0 -2.90,0zM291.05,286.99a1.45,1.45 0 1,0 2.90,0a1.45,1.45 0 1,0 -2.90,0zM293.16,287.35a1.45,1.45 0 1,0 2.90,0a1.45,1.45 0 1,0 -2.90,0zM295.26,287.69a1.45,1.45 0 1,0 2.90,0a1.45,1.45 0 1,0 -2.90,0zM297.37,288.02a1.45,1.45 0 1,0 2.90,0a1.45,1.45 0 1,0 -2.90,0zM299.47,288.34a1.45,1.45 0 1,0 2.90,0a1.45,1.45 0 1,0 -2.90,0zM301.57,288.66a1.45,1.45 0 1,0 2.90,0a1.45,1.45 0 1,0 -2.90,0zM303.68,288.98a1.45,1.45 0 1,0 2.90,0a1.45,1.45 0 1,0 -2.90,0zM305.79,289.29a1.45,1.45 0 1,0 2.90,0a1.45,1.45 0 1,0 -2.90,0zM307.89,289.60a1.45,1.45 0 1,0 2.90,0a1.45,1.45 0 1,0 -2.90,0zM310.00,289.90a1.45,1.45 0 1,0 2.90,0a1.45,1.45 0 1,0 -2.90,0zM312.10,290.19a1.45,1.45 0 1,0 2.90,0a1.45,1.45 0 1,0 -2.90,0zM314.21,290.48a1.45,1.45 0 1,0 2.90,0a1.45,1.45 0 1,0 -2.90,0zM316.31,290.77a1.45,1.45 0 1,0 2.90,0a1.45,1.45 0 1,0 -2.90,0zM318.42,291.04a1.45,1.45 0 1,0 2.90,0a1.45,1.45 0 1,0 -2.90,0zM320.52,291.31a1.45,1.45 0 1,0 2.90,0a1.45,1.45 0 1,0 -2.90,0z" fill="#ff5500"/>
<path d="M225.14,352.26 L227.25,352.26 L230.40,356.14 L233.24,358.37 L235.35,352.85 L237.56,348.27 L239.88,340.53 L241.98,329.96 L243.56,321.51 L246.19,325.50 L248.82,315.76 L251.98,309.54 L256.72,311.65 L262.40,304.61 L266.29,306.84 L269.87,309.19 L275.03,311.30 L277.66,313.88 L283.03,310.95 L288.18,305.66 L294.29,312.24 L302.18,307.78 L307.45,312.24 L310.92,313.06 L315.34,321.04 L318.81,321.04 L323.02,321.51" fill="none" stroke="#c00000" stroke-width="1.3" stroke-linejoin="round" stroke-linecap="round" />
<path d="M223.69,352.26a1.45,1.45 0 1,0 2.90,0a1.45,1.45 0 1,0 -2.90,0zM225.80,352.26a1.45,1.45 0 1,0 2.90,0a1.45,1.45 0 1,0 -2.90,0zM227.90,354.84a1.45,1.45 0 1,0 2.90,0a1.45,1.45 0 1,0 -2.90,0zM230.01,356.96a1.45,1.45 0 1,0 2.90,0a1.45,1.45 0 1,0 -2.90,0zM232.11,357.54a1.45,1.45 0 1,0 2.90,0a1.45,1.45 0 1,0 -2.90,0zM234.22,352.20a1.45,1.45 0 1,0 2.90,0a1.45,1.45 0 1,0 -2.90,0zM236.32,347.57a1.45,1.45 0 1,0 2.90,0a1.45,1.45 0 1,0 -2.90,0zM238.43,340.53a1.45,1.45 0 1,0 2.90,0a1.45,1.45 0 1,0 -2.90,0zM240.53,329.96a1.45,1.45 0 1,0 2.90,0a1.45,1.45 0 1,0 -2.90,0zM242.64,322.31a1.45,1.45 0 1,0 2.90,0a1.45,1.45 0 1,0 -2.90,0zM244.74,325.50a1.45,1.45 0 1,0 2.90,0a1.45,1.45 0 1,0 -2.90,0zM246.85,317.71a1.45,1.45 0 1,0 2.90,0a1.45,1.45 0 1,0 -2.90,0zM248.95,312.65a1.45,1.45 0 1,0 2.90,0a1.45,1.45 0 1,0 -2.90,0zM251.06,309.77a1.45,1.45 0 1,0 2.90,0a1.45,1.45 0 1,0 -2.90,0zM253.16,310.71a1.45,1.45 0 1,0 2.90,0a1.45,1.45 0 1,0 -2.90,0zM255.27,311.65a1.45,1.45 0 1,0 2.90,0a1.45,1.45 0 1,0 -2.90,0zM257.37,309.04a1.45,1.45 0 1,0 2.90,0a1.45,1.45 0 1,0 -2.90,0zM259.48,306.43a1.45,1.45 0 1,0 2.90,0a1.45,1.45 0 1,0 -2.90,0zM261.58,304.97a1.45,1.45 0 1,0 2.90,0a1.45,1.45 0 1,0 -2.90,0zM263.69,306.18a1.45,1.45 0 1,0 2.90,0a1.45,1.45 0 1,0 -2.90,0zM265.79,307.46a1.45,1.45 0 1,0 2.90,0a1.45,1.45 0 1,0 -2.90,0zM267.90,308.84a1.45,1.45 0 1,0 2.90,0a1.45,1.45 0 1,0 -2.90,0zM270.00,309.83a1.45,1.45 0 1,0 2.90,0a1.45,1.45 0 1,0 -2.90,0zM272.11,310.69a1.45,1.45 0 1,0 2.90,0a1.45,1.45 0 1,0 -2.90,0zM274.21,311.92a1.45,1.45 0 1,0 2.90,0a1.45,1.45 0 1,0 -2.90,0zM276.31,313.82a1.45,1.45 0 1,0 2.90,0a1.45,1.45 0 1,0 -2.90,0zM278.42,312.67a1.45,1.45 0 1,0 2.90,0a1.45,1.45 0 1,0 -2.90,0zM280.53,311.52a1.45,1.45 0 1,0 2.90,0a1.45,1.45 0 1,0 -2.90,0zM282.63,309.87a1.45,1.45 0 1,0 2.90,0a1.45,1.45 0 1,0 -2.90,0zM284.74,307.71a1.45,1.45 0 1,0 2.90,0a1.45,1.45 0 1,0 -2.90,0zM286.84,305.78a1.45,1.45 0 1,0 2.90,0a1.45,1.45 0 1,0 -2.90,0zM288.95,308.04a1.45,1.45 0 1,0 2.90,0a1.45,1.45 0 1,0 -2.90,0zM291.05,310.31a1.45,1.45 0 1,0 2.90,0a1.45,1.45 0 1,0 -2.90,0zM293.16,312.06a1.45,1.45 0 1,0 2.90,0a1.45,1.45 0 1,0 -2.90,0zM295.26,310.87a1.45,1.45 0 1,0 2.90,0a1.45,1.45 0 1,0 -2.90,0zM297.37,309.68a1.45,1.45 0 1,0 2.90,0a1.45,1.45 0 1,0 -2.90,0zM299.47,308.49a1.45,1.45 0 1,0 2.90,0a1.45,1.45 0 1,0 -2.90,0zM301.57,308.49a1.45,1.45 0 1,0 2.90,0a1.45,1.45 0 1,0 -2.90,0zM303.68,310.28a1.45,1.45 0 1,0 2.90,0a1.45,1.45 0 1,0 -2.90,0zM305.79,312.06a1.45,1.45 0 1,0 2.90,0a1.45,1.45 0 1,0 -2.90,0zM307.89,312.69a1.45,1.45 0 1,0 2.90,0a1.45,1.45 0 1,0 -2.90,0zM310.00,314.01a1.45,1.45 0 1,0 2.90,0a1.45,1.45 0 1,0 -2.90,0zM312.10,317.81a1.45,1.45 0 1,0 2.90,0a1.45,1.45 0 1,0 -2.90,0zM314.21,321.04a1.45,1.45 0 1,0 2.90,0a1.45,1.45 0 1,0 -2.90,0zM316.31,321.04a1.45,1.45 0 1,0 2.90,0a1.45,1.45 0 1,0 -2.90,0zM318.42,321.16a1.45,1.45 0 1,0 2.90,0a1.45,1.45 0 1,0 -2.90,0zM320.52,321.39a1.45,1.45 0 1,0 2.90,0a1.45,1.45 0 1,0 -2.90,0z" fill="#c00000"/>
</g>
<clipPath id="cg"><rect x="33.9" y="270.3" width="127.5" height="94.0"/></clipPath><g clip-path="url(#cg)">
<path d="M33.90,335.88 L161.40,260.58" fill="none" stroke="#222" stroke-width="0.7" stroke-linejoin="round" stroke-linecap="round" stroke-dasharray="2.4,1.4" stroke-linecap="butt"/>
<path d="M33.90,372.01 L161.40,334.36" fill="none" stroke="#222" stroke-width="0.7" stroke-linejoin="round" stroke-linecap="round" stroke-dasharray="2.4,1.4" stroke-linecap="butt"/>
<path d="M38.90,341.89h2.60v2.60h-2.60zM48.84,337.47h2.60v2.60h-2.60zM56.56,333.86h2.60v2.60h-2.60zM62.86,330.81h2.60v2.60h-2.60zM68.19,328.18h2.60v2.60h-2.60zM72.80,325.86h2.60v2.60h-2.60zM76.87,323.79h2.60v2.60h-2.60zM80.51,321.93h2.60v2.60h-2.60zM83.81,320.22h2.60v2.60h-2.60zM86.82,318.66h2.60v2.60h-2.60zM89.58,317.21h2.60v2.60h-2.60zM92.14,315.85h2.60v2.60h-2.60zM94.53,314.59h2.60v2.60h-2.60zM96.76,313.40h2.60v2.60h-2.60zM98.86,312.27h2.60v2.60h-2.60zM100.83,311.21h2.60v2.60h-2.60zM102.70,310.20h2.60v2.60h-2.60zM104.47,309.24h2.60v2.60h-2.60zM106.16,308.33h2.60v2.60h-2.60zM107.77,307.45h2.60v2.60h-2.60zM109.30,306.61h2.60v2.60h-2.60zM110.77,305.81h2.60v2.60h-2.60zM112.19,305.04h2.60v2.60h-2.60zM113.54,304.30h2.60v2.60h-2.60zM114.85,303.59h2.60v2.60h-2.60zM116.10,302.90h2.60v2.60h-2.60zM117.31,302.24h2.60v2.60h-2.60zM118.49,301.61h2.60v2.60h-2.60zM119.62,300.99h2.60v2.60h-2.60zM120.72,300.40h2.60v2.60h-2.60zM121.78,299.82h2.60v2.60h-2.60zM122.81,299.27h2.60v2.60h-2.60zM123.81,298.73h2.60v2.60h-2.60zM124.79,298.20h2.60v2.60h-2.60zM125.74,297.69h2.60v2.60h-2.60zM126.66,297.20h2.60v2.60h-2.60zM127.55,296.72h2.60v2.60h-2.60zM128.43,296.25h2.60v2.60h-2.60zM129.28,295.79h2.60v2.60h-2.60zM130.12,295.35h2.60v2.60h-2.60zM130.93,294.91h2.60v2.60h-2.60zM131.72,294.49h2.60v2.60h-2.60zM132.50,294.07h2.60v2.60h-2.60zM133.26,293.67h2.60v2.60h-2.60zM134.00,293.27h2.60v2.60h-2.60zM134.73,292.88h2.60v2.60h-2.60zM135.44,292.50h2.60v2.60h-2.60z" fill="#00ddee"/>
<path d="M38.90,341.29h2.60v2.60h-2.60zM48.84,337.04h2.60v2.60h-2.60zM56.56,333.51h2.60v2.60h-2.60zM62.86,330.50h2.60v2.60h-2.60zM68.19,327.89h2.60v2.60h-2.60zM72.80,325.59h2.60v2.60h-2.60zM76.87,323.53h2.60v2.60h-2.60zM80.51,321.67h2.60v2.60h-2.60zM83.81,319.97h2.60v2.60h-2.60zM86.82,318.41h2.60v2.60h-2.60zM89.58,316.97h2.60v2.60h-2.60zM92.14,315.63h2.60v2.60h-2.60zM94.53,314.37h2.60v2.60h-2.60zM96.76,313.20h2.60v2.60h-2.60zM98.86,312.09h2.60v2.60h-2.60zM100.83,311.04h2.60v2.60h-2.60zM102.70,310.05h2.60v2.60h-2.60zM104.47,309.10h2.60v2.60h-2.60zM106.16,308.20h2.60v2.60h-2.60zM107.77,307.34h2.60v2.60h-2.60zM109.30,306.51h2.60v2.60h-2.60zM110.77,305.71h2.60v2.60h-2.60zM112.19,304.95h2.60v2.60h-2.60zM113.54,304.21h2.60v2.60h-2.60zM114.85,303.50h2.60v2.60h-2.60zM116.10,302.81h2.60v2.60h-2.60zM117.31,302.14h2.60v2.60h-2.60zM118.49,301.50h2.60v2.60h-2.60zM119.62,300.87h2.60v2.60h-2.60zM120.72,300.26h2.60v2.60h-2.60zM121.78,299.67h2.60v2.60h-2.60zM122.81,299.10h2.60v2.60h-2.60zM123.81,298.54h2.60v2.60h-2.60zM124.79,298.00h2.60v2.60h-2.60zM125.74,297.47h2.60v2.60h-2.60zM126.66,296.96h2.60v2.60h-2.60zM127.55,296.46h2.60v2.60h-2.60zM128.43,295.97h2.60v2.60h-2.60zM129.28,295.49h2.60v2.60h-2.60zM130.12,295.02h2.60v2.60h-2.60zM130.93,294.57h2.60v2.60h-2.60zM131.72,294.12h2.60v2.60h-2.60zM132.50,293.69h2.60v2.60h-2.60zM133.26,293.26h2.60v2.60h-2.60zM134.00,292.84h2.60v2.60h-2.60zM134.73,292.43h2.60v2.60h-2.60zM135.44,292.03h2.60v2.60h-2.60z" fill="#1ab4f5"/>
<path d="M38.90,342.53h2.60v2.60h-2.60zM48.84,337.71h2.60v2.60h-2.60zM56.56,333.86h2.60v2.60h-2.60zM62.86,330.64h2.60v2.60h-2.60zM68.19,327.89h2.60v2.60h-2.60zM72.80,325.47h2.60v2.60h-2.60zM76.87,323.33h2.60v2.60h-2.60zM80.51,321.40h2.60v2.60h-2.60zM83.81,319.64h2.60v2.60h-2.60zM86.82,318.03h2.60v2.60h-2.60zM89.58,316.54h2.60v2.60h-2.60zM92.14,315.15h2.60v2.60h-2.60zM94.53,313.85h2.60v2.60h-2.60zM96.76,312.63h2.60v2.60h-2.60zM98.86,311.48h2.60v2.60h-2.60zM100.83,310.39h2.60v2.60h-2.60zM102.70,309.36h2.60v2.60h-2.60zM104.47,308.37h2.60v2.60h-2.60zM106.16,307.43h2.60v2.60h-2.60zM107.77,306.53h2.60v2.60h-2.60zM109.30,305.67h2.60v2.60h-2.60zM110.77,304.85h2.60v2.60h-2.60zM112.19,304.06h2.60v2.60h-2.60zM113.54,303.29h2.60v2.60h-2.60zM114.85,302.56h2.60v2.60h-2.60zM116.10,301.85h2.60v2.60h-2.60zM117.31,301.16h2.60v2.60h-2.60zM118.49,300.50h2.60v2.60h-2.60zM119.62,299.86h2.60v2.60h-2.60zM120.72,299.24h2.60v2.60h-2.60zM121.78,298.63h2.60v2.60h-2.60zM122.81,298.05h2.60v2.60h-2.60zM123.81,297.48h2.60v2.60h-2.60zM124.79,296.92h2.60v2.60h-2.60zM125.74,296.39h2.60v2.60h-2.60zM126.66,295.86h2.60v2.60h-2.60zM127.55,295.35h2.60v2.60h-2.60zM128.43,294.85h2.60v2.60h-2.60zM129.28,294.37h2.60v2.60h-2.60zM130.12,293.89h2.60v2.60h-2.60zM130.93,293.43h2.60v2.60h-2.60zM131.72,292.98h2.60v2.60h-2.60zM132.50,292.53h2.60v2.60h-2.60zM133.26,292.10h2.60v2.60h-2.60zM134.00,291.68h2.60v2.60h-2.60zM134.73,291.26h2.60v2.60h-2.60zM135.44,290.86h2.60v2.60h-2.60z" fill="#99ee33"/>
<path d="M38.90,342.67h2.60v2.60h-2.60zM48.84,337.93h2.60v2.60h-2.60zM56.56,334.15h2.60v2.60h-2.60zM62.86,330.99h2.60v2.60h-2.60zM68.19,328.28h2.60v2.60h-2.60zM72.80,325.90h2.60v2.60h-2.60zM76.87,323.79h2.60v2.60h-2.60zM80.51,321.89h2.60v2.60h-2.60zM83.81,320.15h2.60v2.60h-2.60zM86.82,318.56h2.60v2.60h-2.60zM89.58,317.08h2.60v2.60h-2.60zM92.14,315.71h2.60v2.60h-2.60zM94.53,314.42h2.60v2.60h-2.60zM96.76,313.22h2.60v2.60h-2.60zM98.86,312.08h2.60v2.60h-2.60zM100.83,311.00h2.60v2.60h-2.60zM102.70,309.98h2.60v2.60h-2.60zM104.47,309.00h2.60v2.60h-2.60zM106.16,308.07h2.60v2.60h-2.60zM107.77,307.18h2.60v2.60h-2.60zM109.30,306.32h2.60v2.60h-2.60zM110.77,305.50h2.60v2.60h-2.60zM112.19,304.72h2.60v2.60h-2.60zM113.54,303.96h2.60v2.60h-2.60zM114.85,303.22h2.60v2.60h-2.60zM116.10,302.52h2.60v2.60h-2.60zM117.31,301.84h2.60v2.60h-2.60zM118.49,301.18h2.60v2.60h-2.60zM119.62,300.54h2.60v2.60h-2.60zM120.72,299.92h2.60v2.60h-2.60zM121.78,299.31h2.60v2.60h-2.60zM122.81,298.73h2.60v2.60h-2.60zM123.81,298.16h2.60v2.60h-2.60zM124.79,297.61h2.60v2.60h-2.60zM125.74,297.07h2.60v2.60h-2.60zM126.66,296.55h2.60v2.60h-2.60zM127.55,296.04h2.60v2.60h-2.60zM128.43,295.54h2.60v2.60h-2.60zM129.28,295.06h2.60v2.60h-2.60zM130.12,294.59h2.60v2.60h-2.60zM130.93,294.13h2.60v2.60h-2.60zM131.72,293.67h2.60v2.60h-2.60zM132.50,293.23h2.60v2.60h-2.60zM133.26,292.80h2.60v2.60h-2.60zM134.00,292.38h2.60v2.60h-2.60zM134.73,291.97h2.60v2.60h-2.60zM135.44,291.56h2.60v2.60h-2.60z" fill="#55ee99"/>
<path d="M38.90,342.10h2.60v2.60h-2.60zM48.84,337.11h2.60v2.60h-2.60zM56.56,333.16h2.60v2.60h-2.60zM62.86,329.88h2.60v2.60h-2.60zM68.19,327.08h2.60v2.60h-2.60zM72.80,324.63h2.60v2.60h-2.60zM76.87,322.46h2.60v2.60h-2.60zM80.51,320.51h2.60v2.60h-2.60zM83.81,318.74h2.60v2.60h-2.60zM86.82,317.11h2.60v2.60h-2.60zM89.58,315.61h2.60v2.60h-2.60zM92.14,314.22h2.60v2.60h-2.60zM94.53,312.92h2.60v2.60h-2.60zM96.76,311.70h2.60v2.60h-2.60zM98.86,310.55h2.60v2.60h-2.60zM100.83,309.46h2.60v2.60h-2.60zM102.70,308.43h2.60v2.60h-2.60zM104.47,307.45h2.60v2.60h-2.60zM106.16,306.52h2.60v2.60h-2.60zM107.77,305.62h2.60v2.60h-2.60zM109.30,304.77h2.60v2.60h-2.60zM110.77,303.95h2.60v2.60h-2.60zM112.19,303.16h2.60v2.60h-2.60zM113.54,302.41h2.60v2.60h-2.60zM114.85,301.68h2.60v2.60h-2.60zM116.10,300.97h2.60v2.60h-2.60zM117.31,300.30h2.60v2.60h-2.60zM118.49,299.64h2.60v2.60h-2.60zM119.62,299.00h2.60v2.60h-2.60zM120.72,298.39h2.60v2.60h-2.60zM121.78,297.79h2.60v2.60h-2.60zM122.81,297.21h2.60v2.60h-2.60zM123.81,296.65h2.60v2.60h-2.60zM124.79,296.11h2.60v2.60h-2.60zM125.74,295.58h2.60v2.60h-2.60zM126.66,295.06h2.60v2.60h-2.60zM127.55,294.55h2.60v2.60h-2.60zM128.43,294.06h2.60v2.60h-2.60zM129.28,293.59h2.60v2.60h-2.60zM130.12,293.12h2.60v2.60h-2.60zM130.93,292.66h2.60v2.60h-2.60zM131.72,292.22h2.60v2.60h-2.60zM132.50,291.79h2.60v2.60h-2.60zM133.26,291.36h2.60v2.60h-2.60zM134.00,290.95h2.60v2.60h-2.60zM134.73,290.55h2.60v2.60h-2.60zM135.44,290.15h2.60v2.60h-2.60z" fill="#ffe800"/>
<path d="M38.90,345.33h2.60v2.60h-2.60zM48.84,340.49h2.60v2.60h-2.60zM56.56,336.69h2.60v2.60h-2.60zM62.86,333.54h2.60v2.60h-2.60zM68.19,330.85h2.60v2.60h-2.60zM72.80,328.49h2.60v2.60h-2.60zM76.87,326.40h2.60v2.60h-2.60zM80.51,324.52h2.60v2.60h-2.60zM83.81,322.80h2.60v2.60h-2.60zM86.82,321.23h2.60v2.60h-2.60zM89.58,319.77h2.60v2.60h-2.60zM92.14,318.41h2.60v2.60h-2.60zM94.53,317.14h2.60v2.60h-2.60zM96.76,315.95h2.60v2.60h-2.60zM98.86,314.83h2.60v2.60h-2.60zM100.83,313.76h2.60v2.60h-2.60zM102.70,312.75h2.60v2.60h-2.60zM104.47,311.79h2.60v2.60h-2.60zM106.16,310.87h2.60v2.60h-2.60zM107.77,310.00h2.60v2.60h-2.60zM109.30,309.16h2.60v2.60h-2.60zM110.77,308.35h2.60v2.60h-2.60zM112.19,307.57h2.60v2.60h-2.60zM113.54,306.83h2.60v2.60h-2.60zM114.85,306.11h2.60v2.60h-2.60zM116.10,305.42h2.60v2.60h-2.60zM117.31,304.76h2.60v2.60h-2.60zM118.49,304.11h2.60v2.60h-2.60zM119.62,303.49h2.60v2.60h-2.60zM120.72,302.89h2.60v2.60h-2.60zM121.78,302.31h2.60v2.60h-2.60zM122.81,301.74h2.60v2.60h-2.60zM123.81,301.19h2.60v2.60h-2.60zM124.79,300.66h2.60v2.60h-2.60zM125.74,300.14h2.60v2.60h-2.60zM126.66,299.64h2.60v2.60h-2.60zM127.55,299.14h2.60v2.60h-2.60zM128.43,298.67h2.60v2.60h-2.60zM129.28,298.20h2.60v2.60h-2.60zM130.12,297.75h2.60v2.60h-2.60zM130.93,297.30h2.60v2.60h-2.60zM131.72,296.87h2.60v2.60h-2.60zM132.50,296.45h2.60v2.60h-2.60zM133.26,296.03h2.60v2.60h-2.60zM134.00,295.63h2.60v2.60h-2.60zM134.73,295.24h2.60v2.60h-2.60zM135.44,294.85h2.60v2.60h-2.60z" fill="#ff9900"/>
<path d="M38.90,344.82h2.60v2.60h-2.60zM48.84,339.59h2.60v2.60h-2.60zM56.56,335.48h2.60v2.60h-2.60zM62.86,332.08h2.60v2.60h-2.60zM68.19,329.18h2.60v2.60h-2.60zM72.80,326.66h2.60v2.60h-2.60zM76.87,324.42h2.60v2.60h-2.60zM80.51,322.41h2.60v2.60h-2.60zM83.81,320.59h2.60v2.60h-2.60zM86.82,318.92h2.60v2.60h-2.60zM89.58,317.38h2.60v2.60h-2.60zM92.14,315.96h2.60v2.60h-2.60zM94.53,314.63h2.60v2.60h-2.60zM96.76,313.39h2.60v2.60h-2.60zM98.86,312.22h2.60v2.60h-2.60zM100.83,311.12h2.60v2.60h-2.60zM102.70,310.07h2.60v2.60h-2.60zM104.47,309.08h2.60v2.60h-2.60zM106.16,308.14h2.60v2.60h-2.60zM107.77,307.25h2.60v2.60h-2.60zM109.30,306.39h2.60v2.60h-2.60zM110.77,305.57h2.60v2.60h-2.60zM112.19,304.78h2.60v2.60h-2.60zM113.54,304.03h2.60v2.60h-2.60zM114.85,303.30h2.60v2.60h-2.60zM116.10,302.60h2.60v2.60h-2.60zM117.31,301.93h2.60v2.60h-2.60zM118.49,301.28h2.60v2.60h-2.60zM119.62,300.65h2.60v2.60h-2.60zM120.72,300.04h2.60v2.60h-2.60zM121.78,299.46h2.60v2.60h-2.60zM122.81,298.89h2.60v2.60h-2.60zM123.81,298.34h2.60v2.60h-2.60zM124.79,297.81h2.60v2.60h-2.60zM125.74,297.29h2.60v2.60h-2.60zM126.66,296.79h2.60v2.60h-2.60zM127.55,296.30h2.60v2.60h-2.60zM128.43,295.82h2.60v2.60h-2.60zM129.28,295.36h2.60v2.60h-2.60zM130.12,294.91h2.60v2.60h-2.60zM130.93,294.47h2.60v2.60h-2.60zM131.72,294.04h2.60v2.60h-2.60zM132.50,293.62h2.60v2.60h-2.60zM133.26,293.21h2.60v2.60h-2.60zM134.00,292.80h2.60v2.60h-2.60zM134.73,292.41h2.60v2.60h-2.60zM135.44,292.03h2.60v2.60h-2.60z" fill="#ff5500"/>
<path d="M39.05,347.30a1.15,1.15 0 1,0 2.3,0a1.15,1.15 0 1,0 -2.3,0zM48.99,343.49a1.15,1.15 0 1,0 2.3,0a1.15,1.15 0 1,0 -2.3,0zM56.71,340.55a1.15,1.15 0 1,0 2.3,0a1.15,1.15 0 1,0 -2.3,0zM63.01,338.19a1.15,1.15 0 1,0 2.3,0a1.15,1.15 0 1,0 -2.3,0zM68.34,336.21a1.15,1.15 0 1,0 2.3,0a1.15,1.15 0 1,0 -2.3,0zM72.95,334.47a1.15,1.15 0 1,0 2.3,0a1.15,1.15 0 1,0 -2.3,0zM77.02,332.88a1.15,1.15 0 1,0 2.3,0a1.15,1.15 0 1,0 -2.3,0zM80.66,331.41a1.15,1.15 0 1,0 2.3,0a1.15,1.15 0 1,0 -2.3,0zM83.96,330.00a1.15,1.15 0 1,0 2.3,0a1.15,1.15 0 1,0 -2.3,0zM86.97,328.65a1.15,1.15 0 1,0 2.3,0a1.15,1.15 0 1,0 -2.3,0zM89.73,327.39a1.15,1.15 0 1,0 2.3,0a1.15,1.15 0 1,0 -2.3,0zM92.29,326.21a1.15,1.15 0 1,0 2.3,0a1.15,1.15 0 1,0 -2.3,0zM94.68,325.07a1.15,1.15 0 1,0 2.3,0a1.15,1.15 0 1,0 -2.3,0zM96.91,323.99a1.15,1.15 0 1,0 2.3,0a1.15,1.15 0 1,0 -2.3,0zM99.01,322.96a1.15,1.15 0 1,0 2.3,0a1.15,1.15 0 1,0 -2.3,0zM100.98,322.00a1.15,1.15 0 1,0 2.3,0a1.15,1.15 0 1,0 -2.3,0zM102.85,321.08a1.15,1.15 0 1,0 2.3,0a1.15,1.15 0 1,0 -2.3,0zM104.62,320.20a1.15,1.15 0 1,0 2.3,0a1.15,1.15 0 1,0 -2.3,0zM106.31,319.36a1.15,1.15 0 1,0 2.3,0a1.15,1.15 0 1,0 -2.3,0zM107.92,318.55a1.15,1.15 0 1,0 2.3,0a1.15,1.15 0 1,0 -2.3,0zM109.45,317.79a1.15,1.15 0 1,0 2.3,0a1.15,1.15 0 1,0 -2.3,0zM110.92,317.06a1.15,1.15 0 1,0 2.3,0a1.15,1.15 0 1,0 -2.3,0zM112.34,316.37a1.15,1.15 0 1,0 2.3,0a1.15,1.15 0 1,0 -2.3,0zM113.69,315.70a1.15,1.15 0 1,0 2.3,0a1.15,1.15 0 1,0 -2.3,0zM115.00,315.07a1.15,1.15 0 1,0 2.3,0a1.15,1.15 0 1,0 -2.3,0zM116.25,314.46a1.15,1.15 0 1,0 2.3,0a1.15,1.15 0 1,0 -2.3,0zM117.46,313.88a1.15,1.15 0 1,0 2.3,0a1.15,1.15 0 1,0 -2.3,0zM118.64,313.31a1.15,1.15 0 1,0 2.3,0a1.15,1.15 0 1,0 -2.3,0zM119.77,312.75a1.15,1.15 0 1,0 2.3,0a1.15,1.15 0 1,0 -2.3,0zM120.87,312.21a1.15,1.15 0 1,0 2.3,0a1.15,1.15 0 1,0 -2.3,0zM121.93,311.68a1.15,1.15 0 1,0 2.3,0a1.15,1.15 0 1,0 -2.3,0zM122.96,311.17a1.15,1.15 0 1,0 2.3,0a1.15,1.15 0 1,0 -2.3,0zM123.96,310.68a1.15,1.15 0 1,0 2.3,0a1.15,1.15 0 1,0 -2.3,0zM124.94,310.20a1.15,1.15 0 1,0 2.3,0a1.15,1.15 0 1,0 -2.3,0zM125.89,309.74a1.15,1.15 0 1,0 2.3,0a1.15,1.15 0 1,0 -2.3,0zM126.81,309.29a1.15,1.15 0 1,0 2.3,0a1.15,1.15 0 1,0 -2.3,0zM127.70,308.85a1.15,1.15 0 1,0 2.3,0a1.15,1.15 0 1,0 -2.3,0zM128.58,308.41a1.15,1.15 0 1,0 2.3,0a1.15,1.15 0 1,0 -2.3,0zM129.43,308.00a1.15,1.15 0 1,0 2.3,0a1.15,1.15 0 1,0 -2.3,0zM130.27,307.59a1.15,1.15 0 1,0 2.3,0a1.15,1.15 0 1,0 -2.3,0zM131.08,307.20a1.15,1.15 0 1,0 2.3,0a1.15,1.15 0 1,0 -2.3,0zM131.87,306.81a1.15,1.15 0 1,0 2.3,0a1.15,1.15 0 1,0 -2.3,0zM132.65,306.44a1.15,1.15 0 1,0 2.3,0a1.15,1.15 0 1,0 -2.3,0zM133.41,306.09a1.15,1.15 0 1,0 2.3,0a1.15,1.15 0 1,0 -2.3,0zM134.15,305.75a1.15,1.15 0 1,0 2.3,0a1.15,1.15 0 1,0 -2.3,0zM134.88,305.41a1.15,1.15 0 1,0 2.3,0a1.15,1.15 0 1,0 -2.3,0zM135.59,305.08a1.15,1.15 0 1,0 2.3,0a1.15,1.15 0 1,0 -2.3,0z" fill="#e06060" fill-opacity="0.5" stroke="#c00000" stroke-width="0.9"/>
</g>
<text x="270.50" y="124.00" font-family='"Liberation Serif", serif' font-size="12.80" fill="#555555" text-anchor="middle" xml:space="preserve"><tspan font-style="italic">δr</tspan> (<tspan font-style="italic">μm</tspan>)</text>
<text x="445.00" y="123.50" font-family='"Liberation Serif", serif' font-size="12.45" fill="#555555" text-anchor="middle" xml:space="preserve"><tspan font-style="italic">δt</tspan> (<tspan font-style="italic">s</tspan>)</text>
<text x="93.50" y="254.00" font-family='"Liberation Serif", serif' font-size="11.29" fill="#555555" text-anchor="middle" xml:space="preserve">z  (<tspan font-style="italic">μm</tspan>)</text>
<text x="268.50" y="253.00" font-family='"Liberation Serif", serif' font-size="11.30" fill="#555555" text-anchor="middle" xml:space="preserve">z  (<tspan font-style="italic">μm</tspan>)</text>
<text x="443.00" y="252.50" font-family='"Liberation Serif", serif' font-size="11.15" fill="#555555" text-anchor="middle" xml:space="preserve">z  (<tspan font-style="italic">μm</tspan>)</text>
<text x="443.00" y="382.50" font-family='"Liberation Serif", serif' font-size="11.29" fill="#555555" text-anchor="middle" xml:space="preserve">z  (<tspan font-style="italic">μm</tspan>)</text>
<text x="97.50" y="388.50" font-family='"Liberation Serif", serif' font-size="14.26" fill="#555555" text-anchor="middle" xml:space="preserve"><tspan font-style="italic">t</tspan> (<tspan font-style="italic">s</tspan>)</text>
<text x="271.00" y="387.00" font-family='"Liberation Serif", serif' font-size="14.12" fill="#555555" text-anchor="middle" xml:space="preserve"><tspan font-style="italic">t</tspan> (<tspan font-style="italic">s</tspan>)</text>
<text transform="translate(187.50,54.00) rotate(-90)" font-family='"Liberation Serif", serif' font-size="10.09" fill="#555555" text-anchor="middle" xml:space="preserve"><tspan font-style="italic">C</tspan><tspan font-size="55%" dy="0.3em" font-style="italic">vv</tspan><tspan dy="-0.165em">(</tspan><tspan font-style="italic">δr</tspan>)</text>
<text transform="translate(362.50,55.50) rotate(-90)" font-family='"Liberation Serif", serif' font-size="10.12" fill="#555555" text-anchor="middle" xml:space="preserve"><tspan font-style="italic">C</tspan><tspan font-size="55%" dy="0.3em" font-style="italic">vv</tspan><tspan dy="-0.165em">(</tspan><tspan font-style="italic">δt</tspan>)</text>
<text transform="translate(21.50,186.50) rotate(-90)" font-family='"Liberation Serif", serif' font-size="9.60" fill="#555555" text-anchor="middle" xml:space="preserve">λ (<tspan font-style="italic">μm</tspan>)</text>
<text transform="translate(190.00,186.50) rotate(-90)" font-family='"Liberation Serif", serif' font-size="11.50" fill="#555555" text-anchor="middle" xml:space="preserve"><tspan font-style="italic">τ</tspan>  (<tspan font-style="italic">s</tspan>)</text>
<text transform="translate(368.00,187.50) rotate(-90)" font-family='"Liberation Serif", serif' font-size="11.23" fill="#555555" text-anchor="middle" xml:space="preserve">activity <tspan font-style="italic">ζ</tspan></text>
<text transform="translate(17.00,317.00) rotate(-90)" font-family='"Liberation Serif", serif' font-size="13.56" fill="#555555" text-anchor="middle" xml:space="preserve">MSD (<tspan font-style="italic">μm</tspan><tspan font-size="65%" dy="-0.6em">2</tspan><tspan dy="0.39em">)</tspan></text>
<text transform="translate(190.00,317.50) rotate(-90)" font-family='"Liberation Serif", serif' font-size="12.83" fill="#555555" text-anchor="middle" xml:space="preserve"><tspan font-style="italic">α</tspan></text>
<text transform="translate(366.00,316.00) rotate(-90)" font-family='"Liberation Serif", serif' font-size="14.67" fill="#555555" text-anchor="middle" xml:space="preserve"><tspan font-style="italic">α</tspan><tspan font-size="65%" dy="0.35em" font-style="italic">p</tspan></text>
<text x="96.00" y="95.00" font-family='"Liberation Serif", serif' font-size="10.40" fill="#222" text-anchor="middle" xml:space="preserve">surface effect <tspan font-style="italic">z</tspan></text>
</svg></body></html>
